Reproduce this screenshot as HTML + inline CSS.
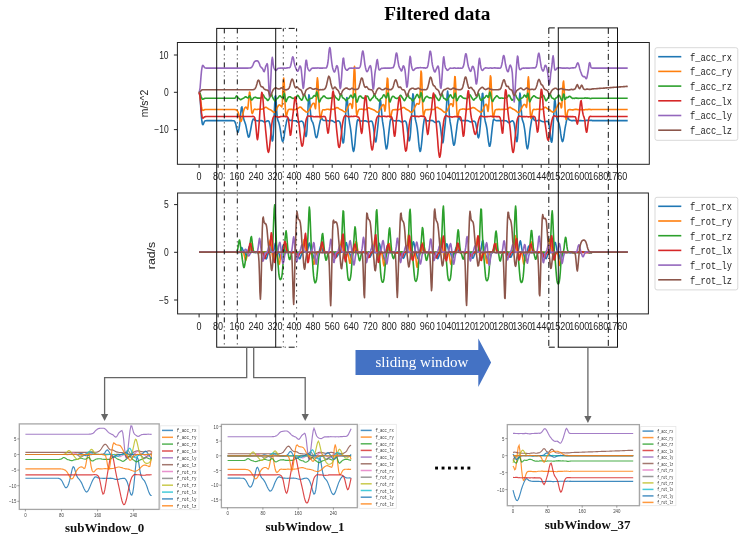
<!DOCTYPE html><html><head><meta charset="utf-8"><style>html,body{margin:0;padding:0;background:#fff;width:746px;height:540px;overflow:hidden}svg{display:block;filter:blur(0.3px)}</style></head><body>
<svg width="746" height="540" viewBox="0 0 746 540" font-family='"Liberation Sans", sans-serif'>
<rect width="746" height="540" fill="#fff"/>
<text x="437.3" y="19.7" font-family='"Liberation Serif", serif' font-weight="bold" font-size="19.3" text-anchor="middle" fill="#000">Filtered data</text>
<g fill="none" stroke-width="1.6" stroke-linejoin="round"><path d="M199.1 92.3L199.6 94.5L200.1 97.6L200.5 103.5L201.0 111.1L201.5 117.7L202.0 122.0L202.4 124.2L202.9 124.7L203.4 124.0L203.9 122.8L204.3 121.8L204.8 121.1L205.3 120.8L205.8 120.7L206.2 120.7L206.7 120.6L207.2 120.6L207.7 120.6L208.1 120.6L208.6 120.6L209.1 120.6L209.6 120.6L210.0 120.6L210.5 120.6L211.0 120.6L211.5 120.6L211.9 120.6L212.4 120.6L212.9 120.6L213.4 120.6L213.8 120.6L214.3 120.6L214.8 120.6L215.3 120.6L215.7 120.6L216.2 120.6L216.7 120.6L217.2 120.6L217.6 120.6L218.1 120.6L218.6 120.6L219.1 120.6L219.5 120.6L220.0 120.6L220.5 120.6L221.0 120.6L221.4 120.6L221.9 120.6L222.4 120.6L222.9 120.6L223.3 120.6L223.8 120.6L224.3 120.6L224.8 120.6L225.2 120.6L225.7 120.6L226.2 120.6L226.7 120.6L227.1 120.6L227.6 120.6L228.1 120.6L228.6 120.6L229.0 120.6L229.5 120.6L230.0 120.6L230.5 120.6L230.9 120.6L231.4 120.6L231.9 120.6L232.4 120.7L232.8 120.7L233.3 120.7L233.8 120.8L234.3 121.0L234.7 121.5L235.2 122.4L235.7 123.9L236.2 126.0L236.6 128.3L237.1 130.4L237.6 131.9L238.1 132.1L238.5 131.0L239.0 128.7L239.5 125.6L240.0 121.5L240.4 116.5L240.9 111.5L241.4 107.7L241.9 106.8L242.3 109.1L242.8 113.0L243.3 116.6L243.8 119.0L244.2 120.6L244.7 121.8L245.2 123.2L245.7 124.8L246.1 126.7L246.6 129.2L247.1 131.8L247.6 134.0L248.0 135.9L248.5 137.1L249.0 136.9L249.5 135.8L249.9 133.6L250.4 131.2L250.9 128.5L251.4 125.7L251.8 123.4L252.3 121.2L252.8 119.8L253.3 119.0L253.7 119.1L254.2 119.6L254.7 120.2L255.2 120.3L255.6 120.5L256.1 120.7L256.6 120.6L257.1 120.7L257.5 120.7L258.0 120.9L258.5 120.7L259.0 120.6L259.5 120.7L259.9 120.6L260.4 120.7L260.9 120.6L261.4 120.6L261.8 120.8L262.3 120.9L262.8 121.1L263.3 121.4L263.7 121.8L264.2 122.0L264.7 121.9L265.2 122.0L265.6 121.9L266.1 121.6L266.6 121.3L267.1 121.0L267.5 120.9L268.0 120.7L268.5 120.9L269.0 121.3L269.4 122.5L269.9 124.2L270.4 127.0L270.9 130.8L271.3 135.1L271.8 138.9L272.3 141.0L272.8 140.1L273.2 135.6L273.7 126.9L274.2 115.5L274.7 103.8L275.1 96.4L275.6 95.9L276.1 101.3L276.6 108.8L277.0 114.8L277.5 118.6L278.0 120.7L278.5 121.8L278.9 123.1L279.4 124.9L279.9 127.3L280.4 130.1L280.8 133.2L281.3 136.4L281.8 139.2L282.3 140.9L282.7 141.6L283.2 140.8L283.7 138.7L284.2 135.8L284.6 132.5L285.1 129.3L285.6 126.3L286.1 123.9L286.5 121.7L287.0 119.8L287.5 118.5L288.0 118.0L288.4 118.5L288.9 119.3L289.4 120.2L289.9 120.4L290.3 120.5L290.8 120.5L291.3 120.3L291.8 120.4L292.2 120.6L292.7 120.8L293.2 120.8L293.7 120.8L294.1 120.7L294.6 120.7L295.1 120.7L295.6 120.8L296.0 121.0L296.5 121.3L297.0 121.8L297.5 122.1L297.9 122.1L298.4 122.2L298.9 122.1L299.4 121.9L299.8 121.5L300.3 121.5L300.8 121.3L301.3 121.2L301.7 121.1L302.2 121.4L302.7 121.8L303.2 122.6L303.6 124.1L304.1 126.6L304.6 129.9L305.1 132.9L305.5 135.6L306.0 136.6L306.5 135.0L307.0 130.0L307.4 121.5L307.9 110.5L308.4 100.3L308.9 94.7L309.3 95.9L309.8 102.4L310.3 110.2L310.8 115.9L311.2 119.1L311.7 120.7L312.2 121.6L312.7 122.3L313.1 123.5L313.6 125.4L314.1 127.7L314.6 130.3L315.0 133.3L315.5 135.7L316.0 137.3L316.5 137.7L316.9 137.2L317.4 135.5L317.9 132.9L318.4 130.2L318.9 127.5L319.3 125.1L319.8 122.9L320.3 120.7L320.8 119.1L321.2 118.2L321.7 118.3L322.2 119.0L322.7 119.8L323.1 120.1L323.6 120.4L324.1 120.5L324.6 120.5L325.0 120.5L325.5 120.5L326.0 120.5L326.5 120.6L326.9 120.7L327.4 120.6L327.9 120.8L328.4 120.8L328.8 120.9L329.3 120.8L329.8 120.7L330.3 120.6L330.7 120.5L331.2 120.6L331.7 120.5L332.2 120.7L332.6 121.0L333.1 121.2L333.6 121.6L334.1 121.9L334.5 122.2L335.0 122.4L335.5 122.1L336.0 122.0L336.4 121.5L336.9 121.1L337.4 120.9L337.9 120.7L338.3 120.8L338.8 121.0L339.3 121.4L339.8 122.1L340.2 123.3L340.7 125.6L341.2 128.9L341.7 133.0L342.1 137.6L342.6 141.1L343.1 143.0L343.6 142.3L344.0 139.0L344.5 133.7L345.0 126.5L345.5 117.8L345.9 108.3L346.4 100.6L346.9 97.5L347.4 100.0L347.8 106.1L348.3 112.9L348.8 118.1L349.3 121.2L349.7 123.8L350.2 126.4L350.7 129.8L351.2 133.8L351.6 138.4L352.1 143.4L352.6 147.5L353.1 150.5L353.5 151.4L354.0 150.3L354.5 147.2L355.0 142.8L355.4 137.6L355.9 132.2L356.4 127.2L356.9 123.2L357.3 120.6L357.8 119.7L358.3 120.0L358.8 120.4L359.2 120.8L359.7 121.0L360.2 121.0L360.7 121.1L361.1 121.0L361.6 121.0L362.1 121.0L362.6 121.0L363.0 120.9L363.5 120.9L364.0 120.8L364.5 120.9L364.9 120.9L365.4 120.9L365.9 120.9L366.4 121.1L366.8 121.4L367.3 121.6L367.8 121.8L368.3 121.9L368.7 121.9L369.2 121.7L369.7 121.5L370.2 121.2L370.6 121.2L371.1 121.0L371.6 121.2L372.1 121.6L372.5 122.6L373.0 124.6L373.5 127.4L374.0 131.5L374.4 135.7L374.9 139.5L375.4 141.8L375.9 141.9L376.3 139.6L376.8 135.5L377.3 131.0L377.8 126.3L378.3 121.6L378.7 116.0L379.2 109.6L379.7 103.2L380.2 99.7L380.6 100.6L381.1 105.5L381.6 111.9L382.1 117.4L382.5 121.2L383.0 124.2L383.5 127.5L384.0 131.0L384.4 135.3L384.9 139.9L385.4 144.0L385.9 147.3L386.3 149.0L386.8 148.6L387.3 146.4L387.8 142.8L388.2 138.3L388.7 133.6L389.2 129.2L389.7 125.1L390.1 121.7L390.6 119.3L391.1 118.4L391.6 118.6L392.0 119.3L392.5 120.0L393.0 120.4L393.5 120.6L393.9 120.8L394.4 120.8L394.9 120.9L395.4 120.8L395.8 120.9L396.3 120.9L396.8 120.9L397.3 120.8L397.7 120.7L398.2 120.7L398.7 120.6L399.2 120.6L399.6 120.8L400.1 121.2L400.6 121.4L401.1 121.7L401.5 121.9L402.0 122.0L402.5 121.9L403.0 121.8L403.4 121.6L403.9 121.3L404.4 121.1L404.9 120.9L405.3 121.1L405.8 121.5L406.3 122.8L406.8 125.0L407.2 128.0L407.7 132.2L408.2 136.2L408.7 139.4L409.1 140.9L409.6 140.1L410.1 137.1L410.6 132.1L411.0 125.5L411.5 117.0L412.0 107.1L412.5 98.2L412.9 93.7L413.4 95.4L413.9 101.9L414.4 109.6L414.8 115.6L415.3 119.1L415.8 121.3L416.3 123.1L416.7 125.3L417.2 128.2L417.7 132.1L418.2 136.9L418.6 141.8L419.1 146.4L419.6 149.8L420.1 151.4L420.5 151.0L421.0 148.5L421.5 144.5L422.0 139.6L422.4 134.6L422.9 129.7L423.4 125.2L423.9 121.6L424.3 119.1L424.8 118.5L425.3 118.8L425.8 119.6L426.2 120.3L426.7 120.7L427.2 120.9L427.7 120.9L428.1 120.9L428.6 120.8L429.1 120.7L429.6 120.6L430.0 120.6L430.5 120.5L431.0 120.4L431.5 120.5L431.9 120.6L432.4 120.6L432.9 120.8L433.4 121.2L433.8 121.6L434.3 121.9L434.8 122.2L435.3 122.5L435.7 122.5L436.2 122.3L436.7 122.0L437.2 121.7L437.7 121.5L438.1 121.2L438.6 121.2L439.1 121.6L439.6 122.5L440.0 124.4L440.5 127.4L441.0 131.5L441.5 135.8L441.9 140.1L442.4 142.7L442.9 142.8L443.4 140.5L443.8 136.4L444.3 131.8L444.8 127.3L445.3 122.9L445.7 117.8L446.2 110.9L446.7 102.2L447.2 94.4L447.6 91.1L448.1 94.3L448.6 102.1L449.1 110.5L449.5 117.0L450.0 121.2L450.5 124.0L451.0 126.6L451.4 129.9L451.9 133.5L452.4 137.4L452.9 141.0L453.3 143.8L453.8 145.2L454.3 144.9L454.8 143.1L455.2 140.1L455.7 136.1L456.2 132.4L456.7 128.6L457.1 125.1L457.6 122.0L458.1 119.3L458.6 117.7L459.0 117.4L459.5 118.3L460.0 119.3L460.5 120.1L460.9 120.5L461.4 120.6L461.9 120.6L462.4 120.6L462.8 120.6L463.3 120.6L463.8 120.5L464.3 120.7L464.7 120.8L465.2 120.6L465.7 120.6L466.2 120.6L466.6 120.6L467.1 120.5L467.6 120.6L468.1 120.7L468.5 120.9L469.0 121.2L469.5 121.4L470.0 121.7L470.4 121.9L470.9 121.9L471.4 121.8L471.9 121.7L472.3 121.3L472.8 121.2L473.3 121.2L473.8 121.1L474.2 121.2L474.7 121.4L475.2 122.1L475.7 123.3L476.1 125.3L476.6 128.2L477.1 131.7L477.6 134.8L478.0 137.1L478.5 137.8L479.0 136.4L479.5 133.4L479.9 129.3L480.4 124.1L480.9 117.1L481.4 108.6L481.8 99.7L482.3 93.5L482.8 93.4L483.3 99.0L483.7 107.0L484.2 113.8L484.7 118.4L485.2 121.0L485.6 122.8L486.1 124.5L486.6 127.0L487.1 130.0L487.5 133.8L488.0 137.9L488.5 141.8L489.0 144.7L489.4 146.2L489.9 146.1L490.4 144.1L490.9 140.7L491.3 136.6L491.8 131.9L492.3 127.3L492.8 123.3L493.2 120.5L493.7 119.1L494.2 119.1L494.7 119.8L495.1 120.1L495.6 120.4L496.1 120.6L496.6 120.8L497.1 120.7L497.5 120.6L498.0 120.6L498.5 120.6L499.0 120.6L499.4 120.6L499.9 120.8L500.4 120.7L500.9 120.8L501.3 120.7L501.8 120.7L502.3 120.6L502.8 120.7L503.2 120.7L503.7 120.7L504.2 120.6L504.7 120.7L505.1 120.7L505.6 120.7L506.1 120.8L506.6 121.1L507.0 121.3L507.5 121.7L508.0 122.3L508.5 122.6L508.9 122.6L509.4 122.5L509.9 122.3L510.4 122.1L510.8 121.6L511.3 121.2L511.8 121.0L512.3 120.9L512.7 120.9L513.2 121.3L513.7 122.1L514.2 123.8L514.6 126.4L515.1 130.1L515.6 134.4L516.1 138.7L516.5 141.4L517.0 141.7L517.5 138.7L518.0 132.1L518.4 121.6L518.9 108.9L519.4 98.2L519.9 93.1L520.3 95.0L520.8 102.1L521.3 110.3L521.8 116.1L522.2 119.3L522.7 120.9L523.2 122.2L523.7 123.8L524.1 126.1L524.6 129.1L525.1 132.8L525.6 137.3L526.0 141.7L526.5 145.4L527.0 148.0L527.5 148.8L527.9 147.5L528.4 144.7L528.9 140.8L529.4 136.3L529.8 132.0L530.3 128.2L530.8 125.0L531.3 122.0L531.7 119.5L532.2 117.7L532.7 117.2L533.2 117.6L533.6 118.8L534.1 119.9L534.6 120.4L535.1 120.5L535.5 120.6L536.0 120.8L536.5 120.9L537.0 120.7L537.4 120.6L537.9 120.5L538.4 120.4L538.9 120.3L539.3 120.2L539.8 120.3L540.3 120.6L540.8 120.8L541.2 121.1L541.7 121.3L542.2 121.5L542.7 121.5L543.1 121.7L543.6 121.8L544.1 121.8L544.6 121.9L545.0 121.8L545.5 121.7L546.0 121.5L546.5 121.4L546.9 121.3L547.4 121.3L547.9 121.5L548.4 122.3L548.8 123.9L549.3 126.3L549.8 130.0L550.3 134.3L550.7 138.5L551.2 141.5L551.7 142.2L552.2 140.1L552.6 134.9L553.1 127.1L553.6 117.2L554.1 107.6L554.5 101.0L555.0 100.2L555.5 104.1L556.0 110.4L556.5 115.5L556.9 118.8L557.4 120.4L557.9 121.2L558.4 121.9L558.8 123.0L559.3 124.8L559.8 127.1L560.3 130.2L560.7 133.7L561.2 137.0L561.7 139.6L562.2 141.3L562.6 141.6L563.1 140.5L563.6 138.1L564.1 135.0L564.5 131.8L565.0 128.6L565.5 125.8L566.0 123.4L566.4 121.1L566.9 119.2L567.4 118.0L567.9 117.6L568.3 118.3L568.8 119.3L569.3 119.9L569.8 120.1L570.2 120.3L570.7 120.4L571.2 120.6L571.7 120.6L572.1 120.5L572.6 120.6L573.1 120.6L573.6 120.5L574.0 120.4L574.5 120.5L575.0 120.7L575.5 120.8L575.9 120.7L576.4 120.8L576.9 120.7L577.4 120.8L577.8 120.7L578.3 120.7L578.8 120.6L579.3 120.6L579.7 120.6L580.2 120.6L580.7 120.6L581.2 120.6L581.6 120.7L582.1 120.8L582.6 120.8L583.1 120.7L583.5 120.8L584.0 120.7L584.5 120.6L585.0 120.5L585.4 120.7L585.9 120.5L586.4 120.4L586.9 120.4L587.3 120.4L587.8 120.4L588.3 120.4L588.8 120.4L589.2 120.5L589.7 120.5L590.2 120.3L590.7 120.4L591.1 120.4L591.6 120.3L592.1 120.6L592.6 120.6L593.0 120.6L593.5 120.6L594.0 120.6L594.5 120.6L594.9 120.6L595.4 120.6L595.9 120.6L596.4 120.6L596.8 120.6L597.3 120.6L597.8 120.6L598.3 120.6L598.7 120.6L599.2 120.6L599.7 120.6L600.2 120.6L600.6 120.6L601.1 120.6L601.6 120.6L602.1 120.6L602.5 120.6L603.0 120.6L603.5 120.6L604.0 120.6L604.4 120.6L604.9 120.6L605.4 120.6L605.9 120.6L606.3 120.6L606.8 120.6L607.3 120.6L607.8 120.6L608.2 120.6L608.7 120.6L609.2 120.6L609.7 120.6L610.1 120.6L610.6 120.6L611.1 120.6L611.6 120.6L612.0 120.6L612.5 120.6L613.0 120.6L613.5 120.6L613.9 120.6L614.4 120.6L614.9 120.6L615.4 120.6L615.9 120.6L616.3 120.6L616.8 120.6L617.3 120.6L617.8 120.6L618.2 120.6L618.7 120.6L619.2 120.6L619.7 120.6L620.1 120.6L620.6 120.6L621.1 120.6L621.6 120.6L622.0 120.6L622.5 120.6L623.0 120.6L623.5 120.6L623.9 120.6L624.4 120.6L624.9 120.6L625.4 120.6L625.8 120.6L626.3 120.6L626.8 120.6L627.3 120.6L627.7 120.6" stroke="#1f77b4"/>
<path d="M199.1 92.3L199.6 93.6L200.1 95.5L200.5 98.9L201.0 103.3L201.5 106.9L202.0 109.0L202.4 110.0L202.9 110.4L203.4 110.3L203.9 110.0L204.3 109.7L204.8 109.6L205.3 109.5L205.8 109.5L206.2 109.5L206.7 109.5L207.2 109.5L207.7 109.5L208.1 109.5L208.6 109.5L209.1 109.5L209.6 109.5L210.0 109.5L210.5 109.5L211.0 109.5L211.5 109.5L211.9 109.5L212.4 109.5L212.9 109.5L213.4 109.5L213.8 109.5L214.3 109.5L214.8 109.5L215.3 109.5L215.7 109.5L216.2 109.5L216.7 109.5L217.2 109.5L217.6 109.5L218.1 109.5L218.6 109.5L219.1 109.5L219.5 109.5L220.0 109.5L220.5 109.5L221.0 109.5L221.4 109.5L221.9 109.5L222.4 109.5L222.9 109.5L223.3 109.5L223.8 109.5L224.3 109.5L224.8 109.5L225.2 109.5L225.7 109.5L226.2 109.5L226.7 109.5L227.1 109.5L227.6 109.5L228.1 109.5L228.6 109.5L229.0 109.5L229.5 109.5L230.0 109.5L230.5 109.5L230.9 109.5L231.4 109.5L231.9 109.5L232.4 109.5L232.8 109.5L233.3 109.5L233.8 109.5L234.3 109.5L234.7 109.5L235.2 109.6L235.7 109.7L236.2 109.8L236.6 110.1L237.1 110.5L237.6 111.3L238.1 112.3L238.5 113.8L239.0 115.6L239.5 117.7L240.0 119.6L240.4 121.1L240.9 121.5L241.4 120.8L241.9 119.3L242.3 117.0L242.8 114.6L243.3 112.3L243.8 110.3L244.2 109.1L244.7 108.1L245.2 107.5L245.7 107.1L246.1 107.2L246.6 107.4L247.1 108.6L247.6 109.3L248.0 107.1L248.5 101.8L249.0 95.9L249.5 92.1L249.9 92.4L250.4 97.3L250.9 103.8L251.4 109.5L251.8 112.6L252.3 113.5L252.8 112.6L253.3 111.3L253.7 110.1L254.2 109.4L254.7 109.1L255.2 109.3L255.6 109.4L256.1 109.5L256.6 109.5L257.1 109.5L257.5 109.4L258.0 109.2L258.5 109.2L259.0 109.3L259.5 109.2L259.9 109.3L260.4 109.3L260.9 109.3L261.4 109.2L261.8 109.1L262.3 109.1L262.8 108.9L263.3 108.6L263.7 108.4L264.2 107.8L264.7 107.7L265.2 107.4L265.6 107.2L266.1 107.3L266.6 107.6L267.1 107.9L267.5 108.1L268.0 108.6L268.5 109.0L269.0 109.2L269.4 109.4L269.9 109.6L270.4 109.7L270.9 109.9L271.3 110.3L271.8 110.7L272.3 111.2L272.8 111.6L273.2 112.0L273.7 112.2L274.2 112.2L274.7 112.2L275.1 111.8L275.6 111.1L276.1 110.3L276.6 109.4L277.0 108.2L277.5 107.1L278.0 106.1L278.5 105.6L278.9 105.0L279.4 104.9L279.9 105.1L280.4 105.5L280.8 106.0L281.3 106.5L281.8 106.9L282.3 104.4L282.7 94.9L283.2 83.2L283.7 78.0L284.2 82.3L284.6 92.9L285.1 104.1L285.6 112.1L286.1 115.9L286.5 116.0L287.0 114.1L287.5 111.9L288.0 110.4L288.4 109.8L288.9 109.5L289.4 109.3L289.9 109.3L290.3 109.4L290.8 109.3L291.3 109.4L291.8 109.4L292.2 109.6L292.7 109.6L293.2 109.6L293.7 109.6L294.1 109.7L294.6 109.7L295.1 109.5L295.6 109.5L296.0 109.4L296.5 109.3L297.0 109.0L297.5 108.8L297.9 108.4L298.4 108.0L298.9 107.7L299.4 107.3L299.8 107.1L300.3 107.1L300.8 107.2L301.3 107.6L301.7 108.2L302.2 108.6L302.7 109.1L303.2 109.5L303.6 110.0L304.1 110.3L304.6 110.6L305.1 111.1L305.5 111.5L306.0 111.9L306.5 112.0L307.0 112.1L307.4 112.0L307.9 111.6L308.4 111.1L308.9 110.6L309.3 110.1L309.8 109.2L310.3 108.3L310.8 107.5L311.2 106.5L311.7 105.4L312.2 104.4L312.7 103.7L313.1 103.4L313.6 103.3L314.1 103.4L314.6 104.4L315.0 107.1L315.5 108.7L316.0 103.3L316.5 92.6L316.9 82.6L317.4 77.8L317.9 81.1L318.4 90.4L318.9 101.1L319.3 109.4L319.8 115.1L320.3 118.2L320.8 118.4L321.2 116.2L321.7 113.3L322.2 111.1L322.7 110.0L323.1 109.8L323.6 109.8L324.1 109.8L324.6 109.9L325.0 109.8L325.5 109.7L326.0 109.5L326.5 109.4L326.9 109.3L327.4 109.2L327.9 109.2L328.4 109.3L328.8 109.4L329.3 109.7L329.8 109.5L330.3 109.4L330.7 109.3L331.2 109.2L331.7 109.1L332.2 109.2L332.6 109.3L333.1 109.4L333.6 109.3L334.1 109.1L334.5 108.9L335.0 108.5L335.5 108.3L336.0 108.0L336.4 107.7L336.9 107.5L337.4 107.7L337.9 107.9L338.3 108.0L338.8 108.5L339.3 108.9L339.8 109.2L340.2 109.4L340.7 109.6L341.2 109.9L341.7 110.0L342.1 110.3L342.6 110.6L343.1 111.0L343.6 111.4L344.0 111.7L344.5 111.8L345.0 111.9L345.5 111.7L345.9 111.2L346.4 110.5L346.9 109.7L347.4 108.6L347.8 107.5L348.3 106.2L348.8 105.4L349.3 104.5L349.7 103.8L350.2 103.5L350.7 103.7L351.2 104.4L351.6 105.9L352.1 108.4L352.6 106.6L353.1 97.3L353.5 83.8L354.0 71.2L354.5 66.3L355.0 73.1L355.4 88.3L355.9 103.3L356.4 112.5L356.9 115.3L357.3 114.2L357.8 111.9L358.3 110.4L358.8 109.6L359.2 109.4L359.7 109.3L360.2 109.3L360.7 109.3L361.1 109.2L361.6 109.1L362.1 109.2L362.6 109.4L363.0 109.4L363.5 109.4L364.0 109.4L364.5 109.6L364.9 109.5L365.4 109.5L365.9 109.6L366.4 109.2L366.8 108.9L367.3 108.5L367.8 108.2L368.3 107.9L368.7 107.8L369.2 108.0L369.7 108.2L370.2 108.4L370.6 108.8L371.1 108.9L371.6 109.0L372.1 109.3L372.5 109.4L373.0 109.6L373.5 109.7L374.0 110.0L374.4 110.3L374.9 110.6L375.4 110.9L375.9 111.4L376.3 111.8L376.8 112.0L377.3 112.2L377.8 112.2L378.3 111.8L378.7 111.4L379.2 111.0L379.7 110.1L380.2 109.3L380.6 108.4L381.1 107.6L381.6 106.7L382.1 105.9L382.5 105.1L383.0 104.8L383.5 104.6L384.0 105.2L384.4 108.1L384.9 111.1L385.4 108.8L385.9 102.3L386.3 94.1L386.8 84.8L387.3 78.1L387.8 78.9L388.2 87.0L388.7 98.2L389.2 107.5L389.7 114.0L390.1 117.3L390.6 117.8L391.1 115.8L391.6 113.1L392.0 111.1L392.5 110.2L393.0 109.8L393.5 109.8L393.9 109.7L394.4 109.7L394.9 109.6L395.4 109.6L395.8 109.6L396.3 109.7L396.8 109.6L397.3 109.6L397.7 109.6L398.2 109.7L398.7 109.6L399.2 109.4L399.6 109.2L400.1 109.3L400.6 109.1L401.1 108.8L401.5 108.5L402.0 108.1L402.5 107.8L403.0 107.5L403.4 107.5L403.9 107.5L404.4 107.8L404.9 108.1L405.3 108.5L405.8 109.0L406.3 109.3L406.8 109.6L407.2 109.7L407.7 110.1L408.2 110.3L408.7 110.6L409.1 110.8L409.6 111.4L410.1 111.8L410.6 112.0L411.0 112.2L411.5 112.4L412.0 112.1L412.5 111.7L412.9 111.1L413.4 110.5L413.9 109.5L414.4 108.5L414.8 107.3L415.3 106.2L415.8 105.3L416.3 104.4L416.7 103.8L417.2 103.6L417.7 103.7L418.2 103.9L418.6 104.2L419.1 103.9L419.6 102.2L420.1 94.6L420.5 80.9L421.0 71.0L421.5 72.9L422.0 84.9L422.4 99.7L422.9 110.8L423.4 115.7L423.9 115.6L424.3 113.3L424.8 111.2L425.3 110.0L425.8 109.6L426.2 109.7L426.7 109.7L427.2 109.6L427.7 109.7L428.1 109.6L428.6 109.6L429.1 109.5L429.6 109.5L430.0 109.5L430.5 109.3L431.0 109.4L431.5 109.4L431.9 109.5L432.4 109.5L432.9 109.5L433.4 109.5L433.8 109.4L434.3 109.2L434.8 108.9L435.3 108.4L435.7 107.9L436.2 107.6L436.7 107.4L437.2 107.3L437.7 107.5L438.1 107.8L438.6 108.2L439.1 108.4L439.6 108.8L440.0 108.9L440.5 109.2L441.0 109.5L441.5 109.8L441.9 110.2L442.4 110.6L442.9 111.1L443.4 111.4L443.8 111.9L444.3 112.1L444.8 112.4L445.3 112.4L445.7 112.4L446.2 112.1L446.7 111.5L447.2 110.6L447.6 109.8L448.1 108.7L448.6 107.6L449.1 106.4L449.5 105.5L450.0 104.6L450.5 104.0L451.0 103.7L451.4 103.8L451.9 104.2L452.4 105.0L452.9 106.4L453.3 105.1L453.8 96.6L454.3 84.5L454.8 76.5L455.2 76.9L455.7 86.0L456.2 98.4L456.7 109.0L457.1 115.3L457.6 117.1L458.1 115.7L458.6 113.2L459.0 111.1L459.5 110.0L460.0 109.7L460.5 109.5L460.9 109.3L461.4 109.3L461.9 109.2L462.4 109.1L462.8 108.9L463.3 109.0L463.8 109.0L464.3 109.1L464.7 109.1L465.2 109.2L465.7 109.3L466.2 109.4L466.6 109.4L467.1 109.4L467.6 109.2L468.1 109.2L468.5 109.1L469.0 109.0L469.5 109.0L470.0 109.1L470.4 108.9L470.9 108.6L471.4 108.3L471.9 107.9L472.3 107.7L472.8 107.5L473.3 107.5L473.8 107.7L474.2 107.9L474.7 108.0L475.2 108.4L475.7 108.8L476.1 109.1L476.6 109.5L477.1 109.9L477.6 110.2L478.0 110.6L478.5 110.9L479.0 111.2L479.5 111.5L479.9 111.9L480.4 112.2L480.9 112.1L481.4 112.0L481.8 111.8L482.3 111.2L482.8 110.1L483.3 109.0L483.7 107.9L484.2 106.9L484.7 105.7L485.2 104.9L485.6 104.4L486.1 104.2L486.6 104.4L487.1 105.9L487.5 109.2L488.0 111.4L488.5 108.3L489.0 101.7L489.4 93.1L489.9 82.9L490.4 75.9L490.9 77.2L491.3 86.5L491.8 98.7L492.3 108.8L492.8 115.2L493.2 117.4L493.7 116.5L494.2 114.0L494.7 111.6L495.1 110.3L495.6 109.7L496.1 109.6L496.6 109.4L497.1 109.6L497.5 109.5L498.0 109.3L498.5 109.4L499.0 109.3L499.4 109.4L499.9 109.4L500.4 109.6L500.9 109.4L501.3 109.4L501.8 109.5L502.3 109.5L502.8 109.3L503.2 109.3L503.7 109.4L504.2 109.5L504.7 109.4L505.1 109.4L505.6 109.3L506.1 109.3L506.6 109.2L507.0 109.2L507.5 108.9L508.0 108.7L508.5 108.3L508.9 107.8L509.4 107.5L509.9 107.4L510.4 107.4L510.8 107.8L511.3 108.1L511.8 108.4L512.3 108.6L512.7 109.0L513.2 109.3L513.7 109.4L514.2 109.6L514.6 109.8L515.1 110.2L515.6 110.4L516.1 111.0L516.5 111.3L517.0 111.8L517.5 112.2L518.0 112.5L518.4 112.5L518.9 112.3L519.4 112.0L519.9 111.4L520.3 110.4L520.8 109.7L521.3 108.8L521.8 107.9L522.2 106.8L522.7 106.0L523.2 105.4L523.7 104.6L524.1 104.4L524.6 104.5L525.1 104.8L525.6 105.2L526.0 106.3L526.5 107.4L527.0 103.6L527.5 92.2L527.9 80.9L528.4 76.9L528.9 82.2L529.4 93.4L529.8 105.3L530.3 114.0L530.8 118.2L531.3 118.2L531.7 115.6L532.2 112.6L532.7 110.5L533.2 109.6L533.6 109.4L534.1 109.4L534.6 109.5L535.1 109.5L535.5 109.5L536.0 109.5L536.5 109.4L537.0 109.2L537.4 109.2L537.9 109.3L538.4 109.3L538.9 109.2L539.3 109.2L539.8 109.4L540.3 109.3L540.8 109.4L541.2 109.4L541.7 109.5L542.2 109.3L542.7 109.0L543.1 108.7L543.6 108.3L544.1 107.8L544.6 107.5L545.0 107.2L545.5 107.3L546.0 107.6L546.5 107.9L546.9 108.3L547.4 108.7L547.9 109.1L548.4 109.3L548.8 109.5L549.3 109.7L549.8 109.9L550.3 110.2L550.7 110.8L551.2 111.2L551.7 111.5L552.2 111.8L552.6 112.1L553.1 112.0L553.6 111.9L554.1 111.6L554.5 111.2L555.0 110.7L555.5 110.0L556.0 109.3L556.5 108.2L556.9 107.2L557.4 106.2L557.9 105.1L558.4 104.2L558.8 103.6L559.3 103.1L559.8 103.0L560.3 103.7L560.7 105.4L561.2 107.9L561.7 107.0L562.2 100.0L562.6 90.6L563.1 83.0L563.6 81.0L564.1 86.7L564.5 97.3L565.0 107.9L565.5 115.8L566.0 119.5L566.4 118.9L566.9 116.0L567.4 112.7L567.9 110.8L568.3 109.9L568.8 109.7L569.3 109.6L569.8 109.6L570.2 109.6L570.7 109.8L571.2 109.8L571.7 109.8L572.1 109.9L572.6 109.9L573.1 109.9L573.6 109.8L574.0 109.5L574.5 109.5L575.0 109.4L575.5 109.4L575.9 109.3L576.4 109.4L576.9 109.5L577.4 109.5L577.8 109.6L578.3 109.7L578.8 109.6L579.3 109.7L579.7 109.6L580.2 109.5L580.7 109.6L581.2 109.6L581.6 109.5L582.1 109.6L582.6 109.7L583.1 109.8L583.5 109.8L584.0 110.0L584.5 109.8L585.0 109.7L585.4 109.5L585.9 109.5L586.4 109.5L586.9 109.6L587.3 109.6L587.8 109.5L588.3 109.4L588.8 109.4L589.2 109.4L589.7 109.3L590.2 109.4L590.7 109.6L591.1 109.7L591.6 109.6L592.1 109.5L592.6 109.5L593.0 109.5L593.5 109.5L594.0 109.5L594.5 109.5L594.9 109.5L595.4 109.5L595.9 109.5L596.4 109.5L596.8 109.5L597.3 109.5L597.8 109.5L598.3 109.5L598.7 109.5L599.2 109.5L599.7 109.5L600.2 109.5L600.6 109.5L601.1 109.5L601.6 109.5L602.1 109.5L602.5 109.5L603.0 109.5L603.5 109.5L604.0 109.5L604.4 109.5L604.9 109.5L605.4 109.5L605.9 109.5L606.3 109.5L606.8 109.5L607.3 109.5L607.8 109.5L608.2 109.5L608.7 109.5L609.2 109.5L609.7 109.5L610.1 109.5L610.6 109.5L611.1 109.5L611.6 109.5L612.0 109.5L612.5 109.5L613.0 109.5L613.5 109.5L613.9 109.5L614.4 109.5L614.9 109.5L615.4 109.5L615.9 109.5L616.3 109.5L616.8 109.5L617.3 109.5L617.8 109.5L618.2 109.5L618.7 109.5L619.2 109.5L619.7 109.5L620.1 109.5L620.6 109.5L621.1 109.5L621.6 109.5L622.0 109.5L622.5 109.5L623.0 109.5L623.5 109.5L623.9 109.5L624.4 109.5L624.9 109.5L625.4 109.5L625.8 109.5L626.3 109.5L626.8 109.5L627.3 109.5L627.7 109.5" stroke="#ff7f0e"/>
<path d="M199.1 92.3L199.6 92.8L200.1 93.4L200.5 94.7L201.0 96.3L201.5 97.7L202.0 98.7L202.4 99.2L202.9 99.3L203.4 99.1L203.9 98.8L204.3 98.5L204.8 98.4L205.3 98.3L205.8 98.3L206.2 98.3L206.7 98.3L207.2 98.3L207.7 98.3L208.1 98.3L208.6 98.3L209.1 98.3L209.6 98.3L210.0 98.3L210.5 98.3L211.0 98.3L211.5 98.3L211.9 98.3L212.4 98.3L212.9 98.3L213.4 98.3L213.8 98.3L214.3 98.3L214.8 98.3L215.3 98.3L215.7 98.3L216.2 98.3L216.7 98.3L217.2 98.3L217.6 98.3L218.1 98.3L218.6 98.3L219.1 98.3L219.5 98.3L220.0 98.3L220.5 98.3L221.0 98.3L221.4 98.3L221.9 98.3L222.4 98.3L222.9 98.3L223.3 98.3L223.8 98.3L224.3 98.3L224.8 98.3L225.2 98.3L225.7 98.3L226.2 98.3L226.7 98.3L227.1 98.3L227.6 98.3L228.1 98.3L228.6 98.3L229.0 98.3L229.5 98.3L230.0 98.3L230.5 98.3L230.9 98.3L231.4 98.3L231.9 98.3L232.4 98.3L232.8 98.3L233.3 98.3L233.8 98.3L234.3 98.2L234.7 98.2L235.2 97.9L235.7 97.3L236.2 96.2L236.6 95.8L237.1 96.1L237.6 96.9L238.1 97.7L238.5 98.2L239.0 98.5L239.5 98.8L240.0 99.2L240.4 99.6L240.9 99.6L241.4 99.4L241.9 99.0L242.3 98.7L242.8 98.5L243.3 98.3L243.8 98.0L244.2 97.7L244.7 97.3L245.2 96.9L245.7 96.8L246.1 97.0L246.6 97.3L247.1 97.6L247.6 97.9L248.0 98.0L248.5 97.5L249.0 96.6L249.5 95.8L249.9 96.1L250.4 97.3L250.9 99.0L251.4 99.9L251.8 100.1L252.3 99.5L252.8 98.9L253.3 98.3L253.7 97.8L254.2 97.6L254.7 97.4L255.2 97.4L255.6 97.2L256.1 97.5L256.6 97.7L257.1 98.0L257.5 98.1L258.0 98.1L258.5 98.1L259.0 98.1L259.5 98.1L259.9 98.2L260.4 98.2L260.9 98.0L261.4 97.6L261.8 96.9L262.3 96.0L262.8 95.1L263.3 94.9L263.7 95.5L264.2 96.5L264.7 97.5L265.2 98.1L265.6 98.4L266.1 98.6L266.6 99.0L267.1 99.9L267.5 100.4L268.0 100.4L268.5 99.9L269.0 99.1L269.4 98.2L269.9 97.2L270.4 95.8L270.9 94.4L271.3 93.7L271.8 94.8L272.3 96.5L272.8 97.7L273.2 98.5L273.7 99.2L274.2 100.0L274.7 100.7L275.1 101.1L275.6 100.5L276.1 99.8L276.6 99.1L277.0 98.5L277.5 98.2L278.0 97.9L278.5 97.4L278.9 96.7L279.4 95.9L279.9 95.7L280.4 96.0L280.8 96.5L281.3 97.0L281.8 97.5L282.3 97.6L282.7 97.4L283.2 96.2L283.7 94.5L284.2 93.3L284.6 94.5L285.1 97.9L285.6 100.9L286.1 101.6L286.5 100.8L287.0 99.5L287.5 98.4L288.0 97.7L288.4 97.2L288.9 96.9L289.4 96.7L289.9 96.7L290.3 96.8L290.8 97.2L291.3 97.5L291.8 97.8L292.2 98.1L292.7 98.4L293.2 98.4L293.7 98.3L294.1 98.3L294.6 98.1L295.1 98.1L295.6 97.7L296.0 97.6L296.5 96.9L297.0 96.0L297.5 95.3L297.9 95.3L298.4 95.8L298.9 96.7L299.4 97.6L299.8 98.3L300.3 98.7L300.8 99.4L301.3 100.1L301.7 100.3L302.2 99.7L302.7 98.7L303.2 97.1L303.6 95.4L304.1 94.2L304.6 94.5L305.1 95.7L305.5 97.1L306.0 98.2L306.5 99.2L307.0 99.9L307.4 100.5L307.9 100.7L308.4 100.4L308.9 99.7L309.3 99.1L309.8 98.7L310.3 98.6L310.8 98.5L311.2 98.2L311.7 98.2L312.2 98.0L312.7 97.5L313.1 96.8L313.6 96.0L314.1 95.6L314.6 95.6L315.0 96.1L315.5 96.1L316.0 94.8L316.5 92.6L316.9 91.9L317.4 93.7L317.9 96.7L318.4 99.1L318.9 100.9L319.3 101.9L319.8 101.7L320.3 100.4L320.8 99.1L321.2 98.3L321.7 98.0L322.2 97.6L322.7 97.0L323.1 96.3L323.6 96.0L324.1 96.0L324.6 96.2L325.0 96.7L325.5 97.3L326.0 97.7L326.5 97.9L326.9 98.2L327.4 98.3L327.9 98.5L328.4 98.4L328.8 98.5L329.3 98.3L329.8 98.2L330.3 98.0L330.7 98.1L331.2 98.0L331.7 98.1L332.2 97.8L332.6 97.4L333.1 96.6L333.6 95.7L334.1 95.3L334.5 95.5L335.0 96.4L335.5 97.3L336.0 97.8L336.4 98.3L336.9 98.5L337.4 99.0L337.9 99.5L338.3 100.1L338.8 100.0L339.3 99.1L339.8 97.5L340.2 95.6L340.7 94.1L341.2 94.0L341.7 94.9L342.1 96.5L342.6 97.6L343.1 98.0L343.6 98.3L344.0 98.5L344.5 98.9L345.0 99.3L345.5 100.2L345.9 100.6L346.4 100.6L346.9 100.0L347.4 99.3L347.8 98.8L348.3 98.5L348.8 98.3L349.3 97.7L349.7 96.8L350.2 95.9L350.7 95.3L351.2 95.4L351.6 96.3L352.1 97.1L352.6 97.7L353.1 98.0L353.5 97.5L354.0 95.9L354.5 94.1L355.0 93.8L355.4 95.5L355.9 98.4L356.4 100.8L356.9 102.1L357.3 101.7L357.8 100.2L358.3 98.6L358.8 97.3L359.2 96.4L359.7 96.1L360.2 96.0L360.7 96.1L361.1 96.6L361.6 97.1L362.1 97.7L362.6 98.0L363.0 98.1L363.5 98.3L364.0 98.5L364.5 98.3L364.9 98.2L365.4 97.8L365.9 97.3L366.4 96.5L366.8 96.0L367.3 96.0L367.8 96.4L368.3 97.1L368.7 98.3L369.2 99.2L369.7 100.1L370.2 100.6L370.6 100.3L371.1 99.5L371.6 98.8L372.1 98.2L372.5 97.9L373.0 97.4L373.5 96.3L374.0 94.9L374.4 94.2L374.9 95.0L375.4 96.4L375.9 97.6L376.3 98.2L376.8 98.5L377.3 98.8L377.8 99.5L378.3 100.3L378.7 100.9L379.2 101.0L379.7 100.3L380.2 99.5L380.6 98.8L381.1 98.4L381.6 98.1L382.1 97.6L382.5 96.9L383.0 95.8L383.5 95.0L384.0 94.8L384.4 95.2L384.9 96.1L385.4 97.0L385.9 97.8L386.3 97.9L386.8 96.9L387.3 95.1L387.8 93.1L388.2 93.2L388.7 95.9L389.2 99.5L389.7 101.7L390.1 102.0L390.6 100.7L391.1 99.1L391.6 97.8L392.0 97.0L392.5 96.5L393.0 96.2L393.5 96.4L393.9 96.7L394.4 97.1L394.9 97.7L395.4 98.1L395.8 98.3L396.3 98.4L396.8 98.5L397.3 98.4L397.7 98.3L398.2 98.1L398.7 97.7L399.2 97.0L399.6 96.3L400.1 95.5L400.6 95.3L401.1 95.7L401.5 96.5L402.0 97.3L402.5 97.9L403.0 98.5L403.4 99.3L403.9 100.2L404.4 100.7L404.9 100.3L405.3 99.4L405.8 98.5L406.3 97.7L406.8 96.2L407.2 94.8L407.7 94.0L408.2 94.7L408.7 96.3L409.1 97.4L409.6 98.0L410.1 98.3L410.6 98.4L411.0 98.8L411.5 99.3L412.0 100.2L412.5 100.9L412.9 101.0L413.4 100.4L413.9 99.7L414.4 98.9L414.8 98.4L415.3 97.8L415.8 96.7L416.3 95.6L416.7 94.7L417.2 94.4L417.7 94.8L418.2 95.9L418.6 97.0L419.1 97.7L419.6 97.6L420.1 96.5L420.5 94.3L421.0 92.6L421.5 93.5L422.0 96.3L422.4 99.2L422.9 101.1L423.4 101.6L423.9 100.8L424.3 99.5L424.8 98.5L425.3 97.6L425.8 97.1L426.2 96.7L426.7 96.3L427.2 96.3L427.7 96.7L428.1 97.1L428.6 97.4L429.1 97.8L429.6 97.9L430.0 97.8L430.5 97.8L431.0 98.0L431.5 98.0L431.9 98.0L432.4 97.8L432.9 97.5L433.4 96.7L433.8 95.8L434.3 95.0L434.8 94.9L435.3 95.4L435.7 96.4L436.2 97.4L436.7 97.9L437.2 98.5L437.7 99.2L438.1 100.0L438.6 100.5L439.1 100.4L439.6 99.6L440.0 98.6L440.5 97.3L441.0 95.5L441.5 94.0L441.9 93.5L442.4 94.4L442.9 96.2L443.4 97.6L443.8 98.2L444.3 98.4L444.8 98.6L445.3 99.1L445.7 99.7L446.2 100.1L446.7 100.1L447.2 99.8L447.6 99.1L448.1 98.4L448.6 97.7L449.1 96.9L449.5 96.0L450.0 95.0L450.5 94.8L451.0 95.2L451.4 96.1L451.9 97.1L452.4 97.8L452.9 98.1L453.3 98.2L453.8 97.7L454.3 96.3L454.8 94.2L455.2 93.2L455.7 95.1L456.2 98.5L456.7 100.7L457.1 100.7L457.6 99.6L458.1 98.4L458.6 97.7L459.0 97.1L459.5 96.5L460.0 96.0L460.5 95.7L460.9 95.9L461.4 96.4L461.9 96.9L462.4 97.4L462.8 97.8L463.3 98.0L463.8 98.2L464.3 98.3L464.7 98.4L465.2 98.4L465.7 98.5L466.2 98.5L466.6 98.6L467.1 98.5L467.6 98.1L468.1 97.8L468.5 97.0L469.0 95.9L469.5 95.2L470.0 94.9L470.4 95.3L470.9 96.1L471.4 97.2L471.9 97.8L472.3 98.5L472.8 99.2L473.3 99.9L473.8 100.1L474.2 99.7L474.7 98.9L475.2 98.5L475.7 98.3L476.1 97.9L476.6 97.5L477.1 96.4L477.6 94.5L478.0 93.2L478.5 93.2L479.0 95.0L479.5 96.8L479.9 98.4L480.4 99.5L480.9 100.2L481.4 100.4L481.8 100.0L482.3 99.4L482.8 98.7L483.3 98.3L483.7 98.2L484.2 98.1L484.7 97.8L485.2 97.2L485.6 96.4L486.1 95.7L486.6 95.6L487.1 95.8L487.5 96.6L488.0 97.4L488.5 97.2L489.0 95.6L489.4 93.2L489.9 92.0L490.4 93.4L490.9 96.1L491.3 98.5L491.8 100.0L492.3 101.3L492.8 101.5L493.2 100.6L493.7 99.5L494.2 98.7L494.7 98.1L495.1 97.5L495.6 97.1L496.1 96.4L496.6 95.9L497.1 95.9L497.5 96.3L498.0 96.8L498.5 97.3L499.0 97.9L499.4 98.2L499.9 98.2L500.4 98.3L500.9 98.0L501.3 98.0L501.8 98.0L502.3 98.1L502.8 98.2L503.2 98.2L503.7 98.3L504.2 98.2L504.7 98.1L505.1 98.0L505.6 98.0L506.1 98.0L506.6 97.8L507.0 97.4L507.5 96.9L508.0 96.0L508.5 95.3L508.9 95.1L509.4 95.4L509.9 96.3L510.4 97.3L510.8 98.4L511.3 99.2L511.8 100.0L512.3 100.3L512.7 99.9L513.2 99.1L513.7 98.2L514.2 97.0L514.6 95.5L515.1 94.7L515.6 94.8L516.1 96.0L516.5 97.1L517.0 98.0L517.5 98.5L518.0 99.4L518.4 100.1L518.9 100.7L519.4 100.4L519.9 99.7L520.3 98.9L520.8 98.3L521.3 98.2L521.8 98.1L522.2 97.9L522.7 97.6L523.2 97.0L523.7 96.2L524.1 95.2L524.6 95.1L525.1 95.5L525.6 96.4L526.0 97.0L526.5 97.1L527.0 95.6L527.5 93.7L527.9 93.1L528.4 95.3L528.9 98.6L529.4 101.1L529.8 101.9L530.3 101.1L530.8 99.7L531.3 98.6L531.7 97.8L532.2 97.4L532.7 96.8L533.2 96.2L533.6 95.8L534.1 95.9L534.6 96.1L535.1 96.5L535.5 96.9L536.0 97.4L536.5 97.6L537.0 97.8L537.4 97.9L537.9 98.0L538.4 98.2L538.9 98.2L539.3 98.3L539.8 98.2L540.3 98.0L540.8 97.8L541.2 97.4L541.7 96.8L542.2 95.9L542.7 95.3L543.1 95.2L543.6 95.7L544.1 96.5L544.6 97.7L545.0 98.7L545.5 99.9L546.0 100.8L546.5 100.7L546.9 99.8L547.4 98.8L547.9 98.3L548.4 97.5L548.8 96.5L549.3 95.0L549.8 93.8L550.3 94.0L550.7 95.2L551.2 96.7L551.7 97.7L552.2 98.1L552.6 98.3L553.1 98.4L553.6 98.7L554.1 99.2L554.5 99.5L555.0 99.2L555.5 98.6L556.0 97.9L556.5 97.8L556.9 97.5L557.4 97.0L557.9 96.2L558.4 95.4L558.8 95.0L559.3 95.4L559.8 96.2L560.3 97.3L560.7 98.3L561.2 99.5L561.7 100.4L562.2 100.3L562.6 98.7L563.1 95.9L563.6 94.0L564.1 94.6L564.5 97.4L565.0 99.3L565.5 99.2L566.0 98.1L566.4 97.3L566.9 97.4L567.4 97.6L567.9 97.5L568.3 97.1L568.8 96.6L569.3 96.4L569.8 96.3L570.2 96.5L570.7 96.9L571.2 97.5L571.7 97.8L572.1 98.2L572.6 98.4L573.1 98.3L573.6 98.3L574.0 98.4L574.5 98.4L575.0 98.0L575.5 98.0L575.9 98.1L576.4 98.0L576.9 98.1L577.4 98.2L577.8 98.4L578.3 98.4L578.8 98.3L579.3 98.2L579.7 98.3L580.2 98.2L580.7 98.2L581.2 98.2L581.6 98.3L582.1 98.5L582.6 98.3L583.1 98.3L583.5 98.2L584.0 98.2L584.5 98.1L585.0 98.1L585.4 97.9L585.9 98.1L586.4 98.1L586.9 98.2L587.3 98.1L587.8 98.1L588.3 98.3L588.8 98.2L589.2 98.3L589.7 98.4L590.2 98.6L590.7 98.5L591.1 98.5L591.6 98.4L592.1 98.3L592.6 98.3L593.0 98.3L593.5 98.3L594.0 98.3L594.5 98.3L594.9 98.3L595.4 98.3L595.9 98.3L596.4 98.3L596.8 98.3L597.3 98.3L597.8 98.3L598.3 98.3L598.7 98.3L599.2 98.3L599.7 98.3L600.2 98.3L600.6 98.3L601.1 98.3L601.6 98.3L602.1 98.3L602.5 98.3L603.0 98.3L603.5 98.3L604.0 98.3L604.4 98.3L604.9 98.3L605.4 98.3L605.9 98.3L606.3 98.3L606.8 98.3L607.3 98.3L607.8 98.3L608.2 98.3L608.7 98.3L609.2 98.3L609.7 98.3L610.1 98.3L610.6 98.3L611.1 98.3L611.6 98.3L612.0 98.3L612.5 98.3L613.0 98.3L613.5 98.3L613.9 98.3L614.4 98.3L614.9 98.3L615.4 98.3L615.9 98.3L616.3 98.3L616.8 98.3L617.3 98.3L617.8 98.3L618.2 98.3L618.7 98.3L619.2 98.3L619.7 98.3L620.1 98.3L620.6 98.3L621.1 98.3L621.6 98.3L622.0 98.3L622.5 98.3L623.0 98.3L623.5 98.3L623.9 98.3L624.4 98.3L624.9 98.3L625.4 98.3L625.8 98.3L626.3 98.3L626.8 98.3L627.3 98.3L627.7 98.3" stroke="#2ca02c"/>
<path d="M199.1 92.3L199.6 94.2L200.1 96.8L200.5 101.6L201.0 107.9L201.5 113.0L202.0 116.2L202.4 117.6L202.9 118.1L203.4 117.9L203.9 117.4L204.3 117.0L204.8 116.7L205.3 116.6L205.8 116.6L206.2 116.5L206.7 116.5L207.2 116.5L207.7 116.5L208.1 116.5L208.6 116.5L209.1 116.5L209.6 116.5L210.0 116.5L210.5 116.5L211.0 116.5L211.5 116.5L211.9 116.5L212.4 116.5L212.9 116.5L213.4 116.5L213.8 116.5L214.3 116.5L214.8 116.5L215.3 116.5L215.7 116.5L216.2 116.5L216.7 116.5L217.2 116.5L217.6 116.5L218.1 116.5L218.6 116.5L219.1 116.5L219.5 116.5L220.0 116.5L220.5 116.5L221.0 116.5L221.4 116.5L221.9 116.5L222.4 116.5L222.9 116.5L223.3 116.5L223.8 116.5L224.3 116.5L224.8 116.5L225.2 116.5L225.7 116.5L226.2 116.5L226.7 116.5L227.1 116.5L227.6 116.5L228.1 116.5L228.6 116.5L229.0 116.5L229.5 116.5L230.0 116.5L230.5 116.5L230.9 116.5L231.4 116.5L231.9 116.5L232.4 116.5L232.8 116.5L233.3 116.5L233.8 116.5L234.3 116.5L234.7 116.5L235.2 116.5L235.7 116.5L236.2 116.5L236.6 116.5L237.1 116.5L237.6 116.5L238.1 116.5L238.5 116.5L239.0 116.5L239.5 116.5L240.0 116.5L240.4 116.5L240.9 116.5L241.4 116.5L241.9 116.5L242.3 116.5L242.8 116.5L243.3 116.5L243.8 116.5L244.2 116.5L244.7 116.5L245.2 116.5L245.7 116.5L246.1 116.5L246.6 116.5L247.1 116.5L247.6 116.5L248.0 116.5L248.5 116.5L249.0 116.5L249.5 116.5L249.9 116.5L250.4 116.5L250.9 116.5L251.4 116.5L251.8 116.5L252.3 116.5L252.8 116.3L253.3 116.4L253.7 116.6L254.2 116.9L254.7 117.7L255.2 119.7L255.6 123.2L256.1 128.4L256.6 134.1L257.1 138.6L257.5 139.7L258.0 137.1L258.5 131.6L259.0 124.9L259.5 118.2L259.9 111.7L260.4 105.3L260.9 99.3L261.4 94.6L261.8 92.3L262.3 93.3L262.8 97.4L263.3 103.2L263.7 109.6L264.2 115.2L264.7 120.3L265.2 125.1L265.6 130.0L266.1 134.9L266.6 140.3L267.1 145.1L267.5 149.2L268.0 151.7L268.5 152.3L269.0 151.0L269.4 148.1L269.9 143.7L270.4 138.4L270.9 133.2L271.3 128.4L271.8 124.2L272.3 120.8L272.8 118.7L273.2 117.4L273.7 116.6L274.2 116.2L274.7 116.2L275.1 116.4L275.6 116.4L276.1 116.6L276.6 116.7L277.0 116.8L277.5 116.9L278.0 116.9L278.5 117.1L278.9 117.1L279.4 117.0L279.9 116.7L280.4 116.6L280.8 116.6L281.3 116.5L281.8 116.5L282.3 116.5L282.7 116.5L283.2 116.5L283.7 116.4L284.2 116.5L284.6 116.4L285.1 116.5L285.6 116.6L286.1 116.5L286.5 116.5L287.0 116.7L287.5 116.9L288.0 117.8L288.4 119.6L288.9 123.1L289.4 127.8L289.9 132.5L290.3 135.3L290.8 134.7L291.3 131.1L291.8 125.9L292.2 120.7L292.7 116.4L293.2 112.5L293.7 108.3L294.1 103.9L294.6 99.7L295.1 97.1L295.6 97.0L296.0 99.6L296.5 103.8L297.0 108.8L297.5 113.3L297.9 117.1L298.4 120.4L298.9 123.8L299.4 127.4L299.8 131.5L300.3 135.8L300.8 140.0L301.3 143.3L301.7 145.5L302.2 146.2L302.7 145.3L303.2 142.9L303.6 139.2L304.1 135.0L304.6 130.8L305.1 126.6L305.5 123.2L306.0 120.5L306.5 118.5L307.0 117.3L307.4 116.5L307.9 116.0L308.4 116.0L308.9 116.1L309.3 116.1L309.8 116.2L310.3 116.4L310.8 116.5L311.2 116.3L311.7 116.4L312.2 116.4L312.7 116.5L313.1 116.5L313.6 116.7L314.1 116.8L314.6 116.8L315.0 116.7L315.5 116.6L316.0 116.7L316.5 116.6L316.9 116.6L317.4 116.5L317.9 116.6L318.4 116.7L318.9 116.6L319.3 116.5L319.8 116.6L320.3 116.6L320.8 116.5L321.2 116.5L321.7 116.6L322.2 116.8L322.7 116.7L323.1 116.6L323.6 116.4L324.1 116.5L324.6 116.5L325.0 116.7L325.5 117.5L326.0 119.4L326.5 122.3L326.9 126.4L327.4 130.5L327.9 133.1L328.4 132.6L328.8 129.5L329.3 125.0L329.8 120.4L330.3 116.4L330.7 112.4L331.2 107.9L331.7 102.6L332.2 97.0L332.6 92.7L333.1 91.1L333.6 93.0L334.1 97.7L334.5 104.2L335.0 110.8L335.5 116.9L336.0 122.3L336.4 127.4L336.9 132.3L337.4 136.9L337.9 141.5L338.3 145.0L338.8 147.1L339.3 147.5L339.8 146.3L340.2 143.5L340.7 139.6L341.2 135.3L341.7 130.8L342.1 126.8L342.6 123.5L343.1 120.7L343.6 118.6L344.0 117.2L344.5 116.3L345.0 115.8L345.5 115.6L345.9 115.8L346.4 115.9L346.9 116.1L347.4 116.4L347.8 116.6L348.3 116.7L348.8 116.6L349.3 116.7L349.7 116.6L350.2 116.6L350.7 116.4L351.2 116.5L351.6 116.4L352.1 116.5L352.6 116.5L353.1 116.5L353.5 116.4L354.0 116.4L354.5 116.3L355.0 116.2L355.4 116.2L355.9 116.2L356.4 116.3L356.9 116.5L357.3 116.7L357.8 116.9L358.3 117.0L358.8 117.4L359.2 118.3L359.7 120.2L360.2 123.4L360.7 127.6L361.1 131.6L361.6 133.4L362.1 132.0L362.6 127.4L363.0 121.1L363.5 114.4L364.0 107.8L364.5 101.9L364.9 97.6L365.4 95.8L365.9 96.8L366.4 100.3L366.8 105.3L367.3 110.6L367.8 115.2L368.3 119.3L368.7 123.1L369.2 127.1L369.7 131.5L370.2 136.5L370.6 141.2L371.1 145.4L371.6 148.5L372.1 150.0L372.5 149.5L373.0 147.2L373.5 143.5L374.0 139.0L374.4 134.2L374.9 129.5L375.4 125.4L375.9 122.3L376.3 119.7L376.8 118.0L377.3 116.9L377.8 116.3L378.3 116.0L378.7 116.0L379.2 116.0L379.7 116.2L380.2 116.4L380.6 116.5L381.1 116.5L381.6 116.6L382.1 116.6L382.5 116.5L383.0 116.3L383.5 116.2L384.0 116.2L384.4 116.4L384.9 116.4L385.4 116.4L385.9 116.6L386.3 116.6L386.8 116.5L387.3 116.4L387.8 116.4L388.2 116.3L388.7 116.3L389.2 116.4L389.7 116.4L390.1 116.6L390.6 116.7L391.1 116.6L391.6 116.9L392.0 117.8L392.5 119.8L393.0 123.2L393.5 128.1L393.9 133.1L394.4 136.2L394.9 136.0L395.4 132.4L395.8 127.0L396.3 121.5L396.8 117.0L397.3 113.0L397.7 108.7L398.2 104.2L398.7 100.0L399.2 97.4L399.6 96.9L400.1 99.2L400.6 103.6L401.1 108.7L401.5 113.8L402.0 118.5L402.5 123.0L403.0 127.6L403.4 132.4L403.9 137.5L404.4 142.5L404.9 146.8L405.3 149.9L405.8 151.1L406.3 150.5L406.8 148.0L407.2 144.0L407.7 139.4L408.2 134.3L408.7 129.6L409.1 125.5L409.6 122.3L410.1 119.7L410.6 118.1L411.0 116.9L411.5 116.2L412.0 116.1L412.5 116.0L412.9 116.0L413.4 116.1L413.9 116.2L414.4 116.3L414.8 116.3L415.3 116.5L415.8 116.4L416.3 116.4L416.7 116.4L417.2 116.5L417.7 116.4L418.2 116.5L418.6 116.6L419.1 116.6L419.6 116.4L420.1 116.3L420.5 116.1L421.0 116.1L421.5 116.1L422.0 116.1L422.4 116.3L422.9 116.4L423.4 116.5L423.9 116.6L424.3 116.6L424.8 117.0L425.3 117.8L425.8 119.9L426.2 123.3L426.7 127.9L427.2 132.3L427.7 134.5L428.1 133.7L428.6 129.9L429.1 125.2L429.6 121.0L430.0 118.0L430.5 115.7L431.0 113.3L431.5 109.9L431.9 105.4L432.4 100.3L432.9 95.5L433.4 93.1L433.8 93.6L434.3 97.2L434.8 103.2L435.3 109.9L435.7 116.3L436.2 122.6L436.7 128.4L437.2 134.3L437.7 140.3L438.1 146.1L438.6 151.4L439.1 155.2L439.6 157.2L440.0 156.7L440.5 154.1L441.0 149.7L441.5 144.1L441.9 138.3L442.4 132.6L442.9 127.6L443.4 123.7L443.8 120.7L444.3 118.4L444.8 117.0L445.3 116.1L445.7 115.7L446.2 115.6L446.7 115.7L447.2 115.9L447.6 116.4L448.1 116.5L448.6 116.6L449.1 116.6L449.5 116.6L450.0 116.7L450.5 116.8L451.0 116.8L451.4 116.9L451.9 117.1L452.4 117.1L452.9 116.9L453.3 116.8L453.8 116.7L454.3 116.6L454.8 116.6L455.2 116.6L455.7 116.5L456.2 116.5L456.7 116.6L457.1 116.6L457.6 116.6L458.1 116.7L458.6 116.7L459.0 116.6L459.5 116.6L460.0 116.7L460.5 117.1L460.9 117.9L461.4 119.9L461.9 123.6L462.4 128.6L462.8 133.5L463.3 136.3L463.8 135.6L464.3 131.8L464.7 126.1L465.2 120.5L465.7 115.4L466.2 110.7L466.6 105.1L467.1 99.1L467.6 93.9L468.1 90.8L468.5 90.8L469.0 94.2L469.5 99.6L470.0 105.7L470.4 110.8L470.9 114.8L471.4 117.9L471.9 120.2L472.3 122.4L472.8 124.9L473.3 127.6L473.8 130.0L474.2 132.1L474.7 133.7L475.2 134.4L475.7 134.0L476.1 132.7L476.6 130.7L477.1 128.3L477.6 125.6L478.0 123.0L478.5 120.7L479.0 118.9L479.5 117.5L479.9 116.6L480.4 116.1L480.9 116.0L481.4 116.0L481.8 116.1L482.3 116.4L482.8 116.5L483.3 116.7L483.7 116.7L484.2 116.7L484.7 116.7L485.2 116.7L485.6 116.7L486.1 116.7L486.6 116.6L487.1 116.6L487.5 116.6L488.0 116.5L488.5 116.5L489.0 116.5L489.4 116.5L489.9 116.5L490.4 116.3L490.9 116.3L491.3 116.4L491.8 116.4L492.3 116.4L492.8 116.5L493.2 116.6L493.7 116.5L494.2 116.6L494.7 116.5L495.1 116.6L495.6 116.4L496.1 116.6L496.6 116.6L497.1 116.6L497.5 116.6L498.0 116.6L498.5 116.5L499.0 116.6L499.4 116.8L499.9 117.4L500.4 118.7L500.9 121.2L501.3 125.2L501.8 129.8L502.3 133.1L502.8 133.0L503.2 128.3L503.7 120.1L504.2 109.8L504.7 100.0L505.1 92.9L505.6 89.7L506.1 90.6L506.6 95.1L507.0 101.3L507.5 107.4L508.0 112.4L508.5 116.5L508.9 119.6L509.4 122.7L509.9 126.4L510.4 130.8L510.8 135.6L511.3 140.7L511.8 145.6L512.3 149.6L512.7 151.9L513.2 152.5L513.7 151.0L514.2 147.6L514.6 143.1L515.1 138.0L515.6 132.8L516.1 127.9L516.5 124.0L517.0 121.0L517.5 118.7L518.0 117.3L518.4 116.6L518.9 116.2L519.4 116.1L519.9 116.2L520.3 116.2L520.8 116.4L521.3 116.5L521.8 116.6L522.2 116.6L522.7 116.5L523.2 116.6L523.7 116.6L524.1 116.6L524.6 116.6L525.1 116.7L525.6 116.6L526.0 116.5L526.5 116.5L527.0 116.6L527.5 116.7L527.9 116.8L528.4 116.9L528.9 116.7L529.4 116.8L529.8 116.7L530.3 116.7L530.8 116.6L531.3 116.6L531.7 116.6L532.2 116.6L532.7 116.6L533.2 116.4L533.6 116.4L534.1 116.5L534.6 116.7L535.1 117.4L535.5 118.9L536.0 121.8L536.5 125.6L537.0 129.8L537.4 132.1L537.9 131.5L538.4 127.9L538.9 121.6L539.3 114.4L539.8 106.6L540.3 99.1L540.8 93.0L541.2 89.4L541.7 89.5L542.2 93.0L542.7 98.9L543.1 105.4L543.6 111.2L544.1 115.8L544.6 119.6L545.0 122.9L545.5 126.0L546.0 129.5L546.5 132.9L546.9 136.2L547.4 138.7L547.9 140.1L548.4 140.2L548.8 139.0L549.3 136.8L549.8 133.7L550.3 130.3L550.7 127.1L551.2 124.0L551.7 121.5L552.2 119.4L552.6 117.9L553.1 116.8L553.6 116.2L554.1 115.8L554.5 115.8L555.0 116.0L555.5 116.2L556.0 116.4L556.5 116.6L556.9 116.6L557.4 116.7L557.9 116.6L558.4 116.5L558.8 116.3L559.3 116.4L559.8 116.3L560.3 116.3L560.7 116.3L561.2 116.4L561.7 116.3L562.2 116.2L562.6 116.2L563.1 116.5L563.6 116.4L564.1 116.5L564.5 116.6L565.0 116.7L565.5 116.8L566.0 116.7L566.4 116.6L566.9 116.6L567.4 116.6L567.9 116.4L568.3 116.6L568.8 116.5L569.3 116.6L569.8 116.7L570.2 116.6L570.7 116.6L571.2 116.7L571.7 116.6L572.1 116.6L572.6 116.6L573.1 116.6L573.6 116.7L574.0 116.8L574.5 116.8L575.0 116.7L575.5 117.1L575.9 118.3L576.4 120.7L576.9 123.0L577.4 124.1L577.8 122.5L578.3 119.7L578.8 116.7L579.3 113.5L579.7 109.5L580.2 104.9L580.7 101.3L581.2 100.7L581.6 103.4L582.1 107.8L582.6 111.8L583.1 114.4L583.5 115.8L584.0 117.1L584.5 118.8L585.0 121.7L585.4 125.8L585.9 129.9L586.4 132.2L586.9 132.0L587.3 129.3L587.8 125.2L588.3 121.5L588.8 118.7L589.2 117.3L589.7 116.6L590.2 116.4L590.7 116.3L591.1 116.4L591.6 116.5L592.1 116.5L592.6 116.5L593.0 116.5L593.5 116.5L594.0 116.5L594.5 116.5L594.9 116.5L595.4 116.5L595.9 116.5L596.4 116.5L596.8 116.5L597.3 116.5L597.8 116.5L598.3 116.5L598.7 116.5L599.2 116.5L599.7 116.5L600.2 116.5L600.6 116.5L601.1 116.5L601.6 116.5L602.1 116.5L602.5 116.5L603.0 116.5L603.5 116.5L604.0 116.5L604.4 116.5L604.9 116.5L605.4 116.5L605.9 116.5L606.3 116.5L606.8 116.5L607.3 116.5L607.8 116.5L608.2 116.5L608.7 116.5L609.2 116.5L609.7 116.5L610.1 116.5L610.6 116.5L611.1 116.5L611.6 116.5L612.0 116.5L612.5 116.5L613.0 116.5L613.5 116.5L613.9 116.5L614.4 116.5L614.9 116.5L615.4 116.5L615.9 116.5L616.3 116.5L616.8 116.5L617.3 116.5L617.8 116.5L618.2 116.5L618.7 116.5L619.2 116.5L619.7 116.5L620.1 116.5L620.6 116.5L621.1 116.5L621.6 116.5L622.0 116.5L622.5 116.5L623.0 116.5L623.5 116.5L623.9 116.5L624.4 116.5L624.9 116.5L625.4 116.5L625.8 116.5L626.3 116.5L626.8 116.5L627.3 116.5L627.7 116.5" stroke="#d62728"/>
<path d="M199.1 92.3L199.6 90.4L200.1 87.8L200.5 82.8L201.0 76.5L201.5 71.0L202.0 67.6L202.4 65.9L202.9 65.4L203.4 65.8L203.9 66.6L204.3 67.3L204.8 67.8L205.3 68.0L205.8 68.0L206.2 68.1L206.7 68.1L207.2 68.1L207.7 68.1L208.1 68.1L208.6 68.1L209.1 68.1L209.6 68.1L210.0 68.1L210.5 68.1L211.0 68.1L211.5 68.1L211.9 68.1L212.4 68.1L212.9 68.1L213.4 68.1L213.8 68.1L214.3 68.1L214.8 68.1L215.3 68.1L215.7 68.1L216.2 68.1L216.7 68.1L217.2 68.1L217.6 68.1L218.1 68.1L218.6 68.1L219.1 68.1L219.5 68.1L220.0 68.1L220.5 68.1L221.0 68.1L221.4 68.1L221.9 68.1L222.4 68.1L222.9 68.1L223.3 68.1L223.8 68.1L224.3 68.1L224.8 68.1L225.2 68.1L225.7 68.1L226.2 68.1L226.7 68.1L227.1 68.1L227.6 68.1L228.1 68.1L228.6 68.1L229.0 68.1L229.5 68.1L230.0 68.1L230.5 68.1L230.9 68.1L231.4 68.1L231.9 68.1L232.4 68.1L232.8 68.1L233.3 68.1L233.8 68.1L234.3 68.1L234.7 68.1L235.2 68.1L235.7 68.1L236.2 68.1L236.6 68.1L237.1 68.1L237.6 68.1L238.1 68.1L238.5 68.1L239.0 68.1L239.5 68.1L240.0 68.1L240.4 68.1L240.9 68.1L241.4 68.1L241.9 68.1L242.3 68.1L242.8 68.1L243.3 68.1L243.8 68.1L244.2 68.1L244.7 68.1L245.2 68.1L245.7 68.1L246.1 68.1L246.6 68.1L247.1 68.1L247.6 68.1L248.0 68.1L248.5 68.0L249.0 68.0L249.5 68.0L249.9 68.0L250.4 67.9L250.9 67.8L251.4 67.5L251.8 67.1L252.3 66.4L252.8 65.4L253.3 64.2L253.7 63.0L254.2 62.2L254.7 61.5L255.2 61.3L255.6 61.0L256.1 60.9L256.6 60.9L257.1 60.9L257.5 60.8L258.0 61.2L258.5 62.0L259.0 62.8L259.5 64.0L259.9 65.3L260.4 66.4L260.9 67.0L261.4 67.6L261.8 68.0L262.3 68.3L262.8 69.2L263.3 70.3L263.7 71.4L264.2 71.6L264.7 70.4L265.2 68.5L265.6 66.7L266.1 65.6L266.6 64.7L267.1 63.7L267.5 64.5L268.0 69.8L268.5 80.0L269.0 90.9L269.4 96.7L269.9 95.1L270.4 87.8L270.9 78.0L271.3 68.4L271.8 60.4L272.3 57.4L272.8 60.0L273.2 64.3L273.7 67.2L274.2 68.6L274.7 69.3L275.1 70.0L275.6 70.4L276.1 70.4L276.6 70.0L277.0 69.4L277.5 68.8L278.0 68.4L278.5 68.3L278.9 68.2L279.4 68.2L279.9 68.1L280.4 68.1L280.8 68.0L281.3 68.0L281.8 68.1L282.3 68.1L282.7 68.0L283.2 68.1L283.7 68.2L284.2 68.1L284.6 68.1L285.1 68.1L285.6 68.2L286.1 68.1L286.5 68.0L287.0 67.9L287.5 67.9L288.0 67.8L288.4 67.7L288.9 67.8L289.4 67.7L289.9 67.4L290.3 66.6L290.8 65.2L291.3 62.9L291.8 60.4L292.2 58.0L292.7 56.8L293.2 57.5L293.7 59.4L294.1 62.2L294.6 64.4L295.1 66.2L295.6 67.6L296.0 68.7L296.5 69.7L297.0 70.8L297.5 71.3L297.9 71.2L298.4 70.3L298.9 68.8L299.4 67.2L299.8 66.0L300.3 66.0L300.8 67.2L301.3 69.9L301.7 74.0L302.2 79.4L302.7 85.2L303.2 88.5L303.6 87.5L304.1 82.7L304.6 76.6L305.1 70.1L305.5 64.2L306.0 60.3L306.5 60.4L307.0 63.7L307.4 66.9L307.9 68.6L308.4 69.6L308.9 70.3L309.3 70.9L309.8 70.8L310.3 70.2L310.8 69.5L311.2 68.8L311.7 68.4L312.2 68.2L312.7 68.1L313.1 68.1L313.6 68.1L314.1 68.0L314.6 68.1L315.0 68.1L315.5 68.1L316.0 67.9L316.5 68.1L316.9 68.1L317.4 68.0L317.9 67.9L318.4 68.0L318.9 68.0L319.3 68.1L319.8 68.1L320.3 68.1L320.8 68.1L321.2 68.3L321.7 68.0L322.2 68.1L322.7 68.1L323.1 68.0L323.6 68.0L324.1 68.0L324.6 68.0L325.0 68.0L325.5 68.0L326.0 68.0L326.5 67.7L326.9 66.9L327.4 65.3L327.9 62.5L328.4 58.4L328.8 53.4L329.3 49.2L329.8 47.5L330.3 48.9L330.7 52.8L331.2 57.6L331.7 62.1L332.2 65.5L332.6 67.7L333.1 69.4L333.6 70.8L334.1 71.8L334.5 72.0L335.0 71.2L335.5 69.6L336.0 68.0L336.4 66.3L336.9 65.6L337.4 66.3L337.9 68.0L338.3 70.6L338.8 74.8L339.3 80.4L339.8 86.1L340.2 88.6L340.7 87.2L341.2 82.0L341.7 75.7L342.1 69.4L342.6 63.1L343.1 58.4L343.6 58.1L344.0 61.7L344.5 65.8L345.0 67.9L345.5 68.8L345.9 69.5L346.4 70.0L346.9 70.3L347.4 70.2L347.8 69.6L348.3 69.1L348.8 68.6L349.3 68.4L349.7 68.1L350.2 68.1L350.7 68.2L351.2 68.1L351.6 68.1L352.1 68.1L352.6 68.2L353.1 68.2L353.5 68.1L354.0 68.1L354.5 68.1L355.0 68.0L355.4 68.0L355.9 68.0L356.4 68.1L356.9 68.0L357.3 68.1L357.8 68.0L358.3 68.1L358.8 68.1L359.2 68.0L359.7 67.5L360.2 66.5L360.7 64.6L361.1 61.4L361.6 57.3L362.1 53.5L362.6 51.1L363.0 51.1L363.5 53.5L364.0 57.2L364.5 61.4L364.9 64.6L365.4 67.2L365.9 69.3L366.4 70.9L366.8 71.6L367.3 71.6L367.8 70.9L368.3 69.7L368.7 68.5L369.2 67.4L369.7 66.4L370.2 65.6L370.6 66.0L371.1 68.1L371.6 72.3L372.1 78.1L372.5 84.2L373.0 88.8L373.5 89.0L374.0 85.1L374.4 79.0L374.9 73.7L375.4 70.1L375.9 67.6L376.3 64.4L376.8 60.8L377.3 59.5L377.8 62.2L378.3 66.0L378.7 68.9L379.2 70.0L379.7 70.0L380.2 69.6L380.6 69.0L381.1 68.6L381.6 68.3L382.1 68.4L382.5 68.3L383.0 68.3L383.5 68.3L384.0 68.1L384.4 68.2L384.9 68.1L385.4 68.1L385.9 68.1L386.3 68.1L386.8 68.2L387.3 68.1L387.8 68.1L388.2 68.1L388.7 68.1L389.2 68.1L389.7 68.1L390.1 68.1L390.6 68.0L391.1 68.0L391.6 67.9L392.0 67.8L392.5 67.8L393.0 67.7L393.5 67.0L393.9 66.2L394.4 64.6L394.9 61.8L395.4 58.3L395.8 55.0L396.3 53.1L396.8 53.3L397.3 55.6L397.7 59.2L398.2 62.5L398.7 65.2L399.2 66.9L399.6 67.9L400.1 68.7L400.6 69.7L401.1 70.7L401.5 71.0L402.0 70.2L402.5 68.3L403.0 66.4L403.4 65.8L403.9 66.3L404.4 67.7L404.9 69.7L405.3 72.8L405.8 77.8L406.3 83.3L406.8 87.1L407.2 86.9L407.7 83.1L408.2 77.6L408.7 71.7L409.1 66.1L409.6 60.1L410.1 56.4L410.6 57.8L411.0 62.4L411.5 66.3L412.0 68.2L412.5 69.4L412.9 70.2L413.4 70.4L413.9 70.1L414.4 69.7L414.8 69.0L415.3 68.4L415.8 68.2L416.3 68.1L416.7 68.1L417.2 67.9L417.7 67.9L418.2 68.0L418.6 67.9L419.1 67.8L419.6 67.7L420.1 67.6L420.5 67.6L421.0 67.8L421.5 67.8L422.0 67.8L422.4 67.8L422.9 67.8L423.4 67.9L423.9 67.9L424.3 67.9L424.8 67.9L425.3 68.1L425.8 68.1L426.2 67.9L426.7 67.8L427.2 67.5L427.7 66.4L428.1 64.5L428.6 61.5L429.1 57.5L429.6 53.7L430.0 51.2L430.5 51.3L431.0 53.6L431.5 57.5L431.9 61.4L432.4 64.7L432.9 66.9L433.4 68.7L433.8 70.1L434.3 71.4L434.8 71.9L435.3 71.7L435.7 70.5L436.2 69.4L436.7 68.4L437.2 67.3L437.7 66.2L438.1 66.0L438.6 67.6L439.1 71.1L439.6 76.7L440.0 82.9L440.5 87.6L441.0 88.1L441.5 84.5L441.9 78.4L442.4 71.4L442.9 64.1L443.4 58.0L443.8 56.8L444.3 60.4L444.8 64.7L445.3 67.2L445.7 68.2L446.2 68.8L446.7 69.5L447.2 70.2L447.6 70.4L448.1 70.1L448.6 69.4L449.1 69.0L449.5 68.5L450.0 68.2L450.5 68.1L451.0 68.2L451.4 68.2L451.9 68.2L452.4 68.2L452.9 68.2L453.3 68.1L453.8 68.1L454.3 67.9L454.8 68.0L455.2 68.1L455.7 68.3L456.2 68.2L456.7 68.2L457.1 68.2L457.6 68.1L458.1 68.1L458.6 68.1L459.0 68.1L459.5 68.2L460.0 68.2L460.5 68.1L460.9 68.2L461.4 68.2L461.9 68.1L462.4 67.9L462.8 67.4L463.3 66.5L463.8 64.8L464.3 62.1L464.7 58.9L465.2 55.6L465.7 53.7L466.2 53.9L466.6 56.0L467.1 59.2L467.6 62.6L468.1 65.3L468.5 67.0L469.0 68.3L469.5 69.6L470.0 70.7L470.4 71.4L470.9 71.1L471.4 69.8L471.9 67.9L472.3 66.5L472.8 66.4L473.3 66.9L473.8 68.1L474.2 69.5L474.7 72.0L475.2 76.0L475.7 80.7L476.1 84.0L476.6 84.0L477.1 80.8L477.6 76.1L478.0 70.9L478.5 65.7L479.0 60.5L479.5 58.3L479.9 60.4L480.4 64.4L480.9 67.5L481.4 69.1L481.8 70.0L482.3 70.4L482.8 70.3L483.3 69.8L483.7 69.0L484.2 68.5L484.7 68.2L485.2 68.0L485.6 67.8L486.1 67.9L486.6 68.0L487.1 68.0L487.5 68.0L488.0 68.1L488.5 68.2L489.0 68.2L489.4 68.0L489.9 68.0L490.4 68.0L490.9 67.9L491.3 68.1L491.8 68.0L492.3 68.2L492.8 68.1L493.2 68.0L493.7 68.0L494.2 67.9L494.7 67.9L495.1 67.9L495.6 68.0L496.1 68.1L496.6 68.0L497.1 68.0L497.5 68.1L498.0 68.1L498.5 68.0L499.0 68.2L499.4 68.2L499.9 68.1L500.4 68.0L500.9 67.4L501.3 66.3L501.8 64.5L502.3 61.9L502.8 58.9L503.2 56.4L503.7 55.5L504.2 56.4L504.7 58.8L505.1 61.8L505.6 64.8L506.1 67.0L506.6 69.0L507.0 70.4L507.5 71.5L508.0 71.7L508.5 71.0L508.9 69.2L509.4 67.1L509.9 65.5L510.4 65.2L510.8 66.0L511.3 67.3L511.8 69.3L512.3 72.9L512.7 79.4L513.2 88.7L513.7 97.7L514.2 102.0L514.6 98.9L515.1 90.6L515.6 81.0L516.1 73.1L516.5 66.6L517.0 60.2L517.5 56.0L518.0 57.1L518.4 62.0L518.9 66.4L519.4 68.8L519.9 69.7L520.3 69.6L520.8 69.4L521.3 68.9L521.8 68.5L522.2 68.2L522.7 68.2L523.2 68.1L523.7 68.0L524.1 68.1L524.6 68.2L525.1 68.0L525.6 68.0L526.0 68.1L526.5 68.1L527.0 68.1L527.5 68.1L527.9 68.1L528.4 68.1L528.9 68.1L529.4 68.1L529.8 68.0L530.3 68.0L530.8 68.0L531.3 68.0L531.7 68.0L532.2 67.9L532.7 68.0L533.2 68.0L533.6 67.9L534.1 67.8L534.6 68.0L535.1 67.9L535.5 67.6L536.0 67.0L536.5 65.7L537.0 63.4L537.4 60.1L537.9 56.7L538.4 54.0L538.9 53.2L539.3 54.5L539.8 57.5L540.3 61.1L540.8 64.2L541.2 66.7L541.7 68.5L542.2 69.9L542.7 70.9L543.1 71.1L543.6 70.4L544.1 68.9L544.6 67.0L545.0 65.4L545.5 65.2L546.0 65.8L546.5 67.1L546.9 68.6L547.4 70.8L547.9 74.1L548.4 78.5L548.8 82.7L549.3 84.3L549.8 82.4L550.3 78.1L550.7 73.7L551.2 70.3L551.7 67.3L552.2 63.2L552.6 58.1L553.1 55.7L553.6 58.8L554.1 64.3L554.5 68.5L555.0 70.0L555.5 70.0L556.0 69.5L556.5 68.9L556.9 68.3L557.4 68.0L557.9 68.0L558.4 67.8L558.8 67.9L559.3 67.8L559.8 67.8L560.3 67.9L560.7 68.0L561.2 67.9L561.7 68.1L562.2 68.1L562.6 68.1L563.1 68.1L563.6 68.1L564.1 68.0L564.5 68.1L565.0 68.1L565.5 68.2L566.0 68.1L566.4 68.1L566.9 67.9L567.4 68.0L567.9 68.1L568.3 68.1L568.8 68.2L569.3 68.4L569.8 68.4L570.2 68.2L570.7 68.0L571.2 68.0L571.7 68.0L572.1 67.9L572.6 67.9L573.1 67.9L573.6 67.9L574.0 67.8L574.5 67.7L575.0 67.8L575.5 67.5L575.9 66.7L576.4 65.6L576.9 64.2L577.4 63.2L577.8 62.8L578.3 63.4L578.8 64.9L579.3 66.8L579.7 68.7L580.2 70.3L580.7 71.7L581.2 73.0L581.6 74.3L582.1 75.3L582.6 76.0L583.1 76.5L583.5 76.7L584.0 76.6L584.5 76.5L585.0 77.0L585.4 77.7L585.9 78.5L586.4 78.7L586.9 77.7L587.3 75.7L587.8 73.0L588.3 70.1L588.8 66.7L589.2 63.5L589.7 62.6L590.2 63.9L590.7 66.2L591.1 67.6L591.6 68.0L592.1 68.0L592.6 68.1L593.0 68.1L593.5 68.1L594.0 68.1L594.5 68.1L594.9 68.1L595.4 68.1L595.9 68.1L596.4 68.1L596.8 68.1L597.3 68.1L597.8 68.1L598.3 68.1L598.7 68.1L599.2 68.1L599.7 68.1L600.2 68.1L600.6 68.1L601.1 68.1L601.6 68.1L602.1 68.1L602.5 68.1L603.0 68.1L603.5 68.1L604.0 68.1L604.4 68.1L604.9 68.1L605.4 68.1L605.9 68.1L606.3 68.1L606.8 68.1L607.3 68.1L607.8 68.1L608.2 68.1L608.7 68.1L609.2 68.1L609.7 68.1L610.1 68.1L610.6 68.1L611.1 68.1L611.6 68.1L612.0 68.1L612.5 68.1L613.0 68.1L613.5 68.1L613.9 68.1L614.4 68.1L614.9 68.1L615.4 68.1L615.9 68.1L616.3 68.1L616.8 68.1L617.3 68.1L617.8 68.1L618.2 68.1L618.7 68.1L619.2 68.1L619.7 68.1L620.1 68.1L620.6 68.1L621.1 68.1L621.6 68.1L622.0 68.1L622.5 68.1L623.0 68.1L623.5 68.1L623.9 68.1L624.4 68.1L624.9 68.1L625.4 68.1L625.8 68.1L626.3 68.1L626.8 68.1L627.3 68.1L627.7 68.1" stroke="#9467bd"/>
<path d="M199.1 92.3L199.6 92.1L200.1 91.8L200.5 91.3L201.0 90.7L201.5 90.2L202.0 89.9L202.4 89.8L202.9 89.7L203.4 89.7L203.9 89.7L204.3 89.7L204.8 89.7L205.3 89.7L205.8 89.7L206.2 89.7L206.7 89.7L207.2 89.7L207.7 89.7L208.1 89.7L208.6 89.7L209.1 89.7L209.6 89.7L210.0 89.7L210.5 89.7L211.0 89.7L211.5 89.7L211.9 89.7L212.4 89.7L212.9 89.7L213.4 89.7L213.8 89.7L214.3 89.7L214.8 89.7L215.3 89.7L215.7 89.7L216.2 89.7L216.7 89.7L217.2 89.7L217.6 89.7L218.1 89.7L218.6 89.7L219.1 89.7L219.5 89.7L220.0 89.7L220.5 89.7L221.0 89.7L221.4 89.7L221.9 89.7L222.4 89.7L222.9 89.7L223.3 89.7L223.8 89.7L224.3 89.7L224.8 89.7L225.2 89.7L225.7 89.7L226.2 89.7L226.7 89.7L227.1 89.7L227.6 89.7L228.1 89.7L228.6 89.7L229.0 89.7L229.5 89.7L230.0 89.7L230.5 89.7L230.9 89.7L231.4 89.7L231.9 89.7L232.4 89.7L232.8 89.7L233.3 89.7L233.8 89.7L234.3 89.7L234.7 89.7L235.2 89.7L235.7 89.7L236.2 89.7L236.6 89.7L237.1 89.7L237.6 89.7L238.1 89.7L238.5 89.7L239.0 89.7L239.5 89.7L240.0 89.7L240.4 89.7L240.9 89.7L241.4 89.7L241.9 89.7L242.3 89.7L242.8 89.7L243.3 89.7L243.8 89.7L244.2 89.7L244.7 89.7L245.2 89.7L245.7 89.7L246.1 89.7L246.6 89.7L247.1 89.7L247.6 89.7L248.0 89.7L248.5 89.7L249.0 89.7L249.5 89.7L249.9 89.7L250.4 89.7L250.9 89.7L251.4 89.7L251.8 89.7L252.3 89.8L252.8 89.7L253.3 89.6L253.7 89.5L254.2 89.4L254.7 89.0L255.2 88.4L255.6 87.8L256.1 86.5L256.6 84.9L257.1 83.2L257.5 81.6L258.0 80.4L258.5 80.1L259.0 80.5L259.5 81.8L259.9 83.5L260.4 85.0L260.9 86.1L261.4 86.8L261.8 86.8L262.3 86.9L262.8 87.1L263.3 87.6L263.7 88.4L264.2 89.0L264.7 89.4L265.2 89.5L265.6 89.7L266.1 89.9L266.6 90.0L267.1 90.0L267.5 90.2L268.0 90.5L268.5 91.4L269.0 92.7L269.4 94.3L269.9 95.7L270.4 96.3L270.9 96.1L271.3 94.8L271.8 93.1L272.3 91.7L272.8 90.6L273.2 89.8L273.7 89.1L274.2 88.8L274.7 88.3L275.1 88.0L275.6 88.0L276.1 87.9L276.6 88.1L277.0 88.5L277.5 88.7L278.0 88.8L278.5 89.0L278.9 89.0L279.4 89.0L279.9 88.8L280.4 88.5L280.8 88.1L281.3 88.0L281.8 87.9L282.3 88.2L282.7 88.5L283.2 88.9L283.7 89.2L284.2 89.5L284.6 89.7L285.1 89.8L285.6 89.8L286.1 89.9L286.5 89.8L287.0 89.6L287.5 89.4L288.0 89.3L288.4 88.8L288.9 88.3L289.4 87.3L289.9 85.9L290.3 84.1L290.8 82.2L291.3 80.5L291.8 79.4L292.2 79.0L292.7 79.5L293.2 80.9L293.7 82.5L294.1 84.4L294.6 86.1L295.1 87.2L295.6 87.9L296.0 87.8L296.5 87.4L297.0 87.1L297.5 87.1L297.9 87.7L298.4 88.2L298.9 88.9L299.4 89.2L299.8 89.5L300.3 89.6L300.8 89.9L301.3 90.4L301.7 91.2L302.2 92.5L302.7 94.0L303.2 95.1L303.6 95.8L304.1 95.3L304.6 94.2L305.1 92.7L305.5 91.4L306.0 90.3L306.5 89.7L307.0 89.3L307.4 89.1L307.9 88.8L308.4 88.5L308.9 88.1L309.3 87.9L309.8 87.7L310.3 87.8L310.8 87.9L311.2 88.2L311.7 88.5L312.2 88.9L312.7 89.1L313.1 89.3L313.6 89.3L314.1 89.1L314.6 89.0L315.0 88.8L315.5 88.7L316.0 88.5L316.5 88.7L316.9 89.0L317.4 89.2L317.9 89.6L318.4 89.7L318.9 89.7L319.3 89.8L319.8 89.9L320.3 89.8L320.8 89.6L321.2 89.8L321.7 89.7L322.2 89.6L322.7 89.5L323.1 89.6L323.6 89.6L324.1 89.4L324.6 89.0L325.0 88.7L325.5 88.0L326.0 86.9L326.5 85.3L326.9 83.4L327.4 81.1L327.9 78.8L328.4 77.0L328.8 76.2L329.3 76.7L329.8 78.1L330.3 80.2L330.7 82.5L331.2 84.8L331.7 86.5L332.2 88.0L332.6 88.8L333.1 88.9L333.6 88.6L334.1 87.8L334.5 87.2L335.0 87.0L335.5 87.4L336.0 88.2L336.4 89.0L336.9 89.3L337.4 89.7L337.9 90.2L338.3 90.8L338.8 91.7L339.3 93.0L339.8 94.1L340.2 94.8L340.7 94.8L341.2 94.1L341.7 93.0L342.1 91.8L342.6 90.8L343.1 90.1L343.6 89.7L344.0 89.3L344.5 89.0L345.0 88.6L345.5 88.2L345.9 88.1L346.4 88.1L346.9 88.1L347.4 88.3L347.8 88.7L348.3 89.0L348.8 89.2L349.3 89.3L349.7 89.5L350.2 89.3L350.7 88.9L351.2 88.6L351.6 88.3L352.1 88.2L352.6 88.5L353.1 88.9L353.5 89.2L354.0 89.4L354.5 89.4L355.0 89.5L355.4 89.5L355.9 89.5L356.4 89.4L356.9 89.4L357.3 89.3L357.8 89.1L358.3 88.5L358.8 87.6L359.2 86.3L359.7 84.4L360.2 82.5L360.7 80.4L361.1 78.9L361.6 78.0L362.1 78.2L362.6 79.2L363.0 80.9L363.5 83.1L364.0 85.1L364.5 86.5L364.9 87.1L365.4 87.4L365.9 86.9L366.4 86.6L366.8 86.8L367.3 87.4L367.8 88.1L368.3 88.8L368.7 89.3L369.2 89.5L369.7 89.4L370.2 89.6L370.6 89.7L371.1 89.7L371.6 89.8L372.1 90.1L372.5 90.8L373.0 91.5L373.5 92.8L374.0 93.8L374.4 94.6L374.9 94.5L375.4 93.8L375.9 92.6L376.3 91.3L376.8 90.3L377.3 89.4L377.8 88.9L378.3 88.4L378.7 88.1L379.2 88.0L379.7 88.2L380.2 88.4L380.6 88.8L381.1 89.2L381.6 89.5L382.1 89.7L382.5 89.8L383.0 89.8L383.5 89.6L384.0 89.4L384.4 89.0L384.9 88.6L385.4 88.4L385.9 88.3L386.3 88.6L386.8 88.7L387.3 89.0L387.8 89.2L388.2 89.4L388.7 89.4L389.2 89.5L389.7 89.6L390.1 89.6L390.6 89.7L391.1 89.6L391.6 89.2L392.0 88.9L392.5 88.3L393.0 87.3L393.5 85.8L393.9 84.1L394.4 82.3L394.9 80.8L395.4 79.9L395.8 79.7L396.3 80.4L396.8 81.9L397.3 83.6L397.7 85.2L398.2 86.7L398.7 87.2L399.2 87.5L399.6 87.3L400.1 87.0L400.6 87.3L401.1 87.9L401.5 88.6L402.0 89.4L402.5 89.7L403.0 89.8L403.4 89.8L403.9 90.0L404.4 90.3L404.9 91.2L405.3 92.3L405.8 93.8L406.3 95.4L406.8 96.3L407.2 96.2L407.7 95.1L408.2 93.6L408.7 91.9L409.1 90.8L409.6 90.0L410.1 89.3L410.6 89.1L411.0 88.8L411.5 88.5L412.0 88.3L412.5 88.2L412.9 88.3L413.4 88.3L413.9 88.7L414.4 89.0L414.8 89.1L415.3 89.1L415.8 89.3L416.3 89.1L416.7 88.8L417.2 88.5L417.7 88.4L418.2 88.1L418.6 88.2L419.1 88.5L419.6 88.9L420.1 89.1L420.5 89.4L421.0 89.6L421.5 89.6L422.0 89.6L422.4 89.6L422.9 89.7L423.4 89.7L423.9 89.6L424.3 89.6L424.8 89.7L425.3 89.7L425.8 89.7L426.2 89.6L426.7 89.3L427.2 88.7L427.7 87.6L428.1 86.1L428.6 84.1L429.1 82.0L429.6 79.7L430.0 77.9L430.5 77.1L431.0 77.5L431.5 78.8L431.9 80.6L432.4 82.8L432.9 84.4L433.4 85.5L433.8 85.8L434.3 85.9L434.8 86.3L435.3 87.1L435.7 88.1L436.2 88.8L436.7 89.3L437.2 89.6L437.7 89.8L438.1 90.2L438.6 90.8L439.1 91.9L439.6 93.4L440.0 94.7L440.5 95.6L441.0 95.8L441.5 95.0L441.9 93.6L442.4 92.2L442.9 91.1L443.4 90.4L443.8 89.9L444.3 89.6L444.8 89.5L445.3 89.5L445.7 89.2L446.2 88.8L446.7 88.6L447.2 88.4L447.6 88.2L448.1 88.2L448.6 88.4L449.1 88.8L449.5 89.1L450.0 89.3L450.5 89.4L451.0 89.4L451.4 89.3L451.9 88.9L452.4 88.5L452.9 88.2L453.3 88.1L453.8 88.2L454.3 88.3L454.8 88.6L455.2 89.0L455.7 89.3L456.2 89.3L456.7 89.4L457.1 89.5L457.6 89.5L458.1 89.5L458.6 89.7L459.0 89.7L459.5 89.7L460.0 89.6L460.5 89.6L460.9 89.5L461.4 89.2L461.9 88.8L462.4 88.0L462.8 86.8L463.3 85.1L463.8 82.9L464.3 80.7L464.7 78.6L465.2 77.3L465.7 77.0L466.2 77.8L466.6 79.7L467.1 82.0L467.6 84.3L468.1 86.1L468.5 87.5L469.0 88.3L469.5 88.2L470.0 87.9L470.4 87.5L470.9 87.4L471.4 87.6L471.9 88.2L472.3 89.0L472.8 89.6L473.3 89.9L473.8 90.4L474.2 91.2L474.7 92.2L475.2 93.4L475.7 94.9L476.1 95.9L476.6 96.2L477.1 95.4L477.6 93.9L478.0 92.5L478.5 91.1L479.0 90.1L479.5 89.4L479.9 89.1L480.4 88.5L480.9 88.1L481.4 87.7L481.8 87.4L482.3 87.2L482.8 87.5L483.3 87.9L483.7 88.4L484.2 88.9L484.7 89.2L485.2 89.3L485.6 89.6L486.1 89.4L486.6 89.1L487.1 89.0L487.5 88.8L488.0 88.4L488.5 88.4L489.0 88.5L489.4 88.8L489.9 89.0L490.4 89.2L490.9 89.3L491.3 89.4L491.8 89.6L492.3 89.6L492.8 89.8L493.2 89.8L493.7 89.8L494.2 89.7L494.7 89.7L495.1 89.7L495.6 89.7L496.1 89.7L496.6 89.7L497.1 89.7L497.5 89.8L498.0 89.7L498.5 89.6L499.0 89.6L499.4 89.4L499.9 89.4L500.4 88.8L500.9 88.2L501.3 87.1L501.8 85.4L502.3 83.6L502.8 82.0L503.2 80.6L503.7 79.8L504.2 79.9L504.7 80.9L505.1 82.4L505.6 83.9L506.1 85.4L506.6 86.3L507.0 86.4L507.5 86.3L508.0 86.4L508.5 86.9L508.9 87.8L509.4 88.7L509.9 89.3L510.4 89.5L510.8 89.7L511.3 89.8L511.8 90.2L512.3 91.0L512.7 92.2L513.2 93.7L513.7 95.0L514.2 95.6L514.6 95.4L515.1 94.3L515.6 93.0L516.1 91.8L516.5 90.9L517.0 90.4L517.5 90.0L518.0 89.7L518.4 89.5L518.9 88.9L519.4 88.7L519.9 88.4L520.3 88.1L520.8 88.1L521.3 88.2L521.8 88.5L522.2 89.0L522.7 89.5L523.2 89.7L523.7 89.7L524.1 89.7L524.6 89.5L525.1 89.0L525.6 88.6L526.0 88.3L526.5 88.1L527.0 88.1L527.5 88.3L527.9 88.7L528.4 89.0L528.9 89.3L529.4 89.4L529.8 89.5L530.3 89.6L530.8 89.4L531.3 89.4L531.7 89.3L532.2 89.3L532.7 89.2L533.2 89.5L533.6 89.6L534.1 89.6L534.6 89.4L535.1 89.4L535.5 88.7L536.0 87.8L536.5 86.5L537.0 85.0L537.4 83.2L537.9 81.4L538.4 80.1L538.9 79.4L539.3 79.8L539.8 80.8L540.3 82.2L540.8 83.4L541.2 84.5L541.7 84.8L542.2 85.1L542.7 85.6L543.1 86.5L543.6 87.6L544.1 88.6L544.6 89.2L545.0 89.4L545.5 89.7L546.0 89.8L546.5 90.0L546.9 90.2L547.4 90.7L547.9 91.4L548.4 92.5L548.8 93.6L549.3 94.2L549.8 94.3L550.3 93.7L550.7 92.7L551.2 91.6L551.7 90.7L552.2 90.1L552.6 89.7L553.1 89.3L553.6 89.0L554.1 88.7L554.5 88.4L555.0 88.2L555.5 88.2L556.0 88.3L556.5 88.6L556.9 89.0L557.4 89.4L557.9 89.5L558.4 89.5L558.8 89.6L559.3 89.3L559.8 89.1L560.3 88.8L560.7 88.7L561.2 88.5L561.7 88.6L562.2 88.7L562.6 89.1L563.1 89.3L563.6 89.4L564.1 89.5L564.5 89.5L565.0 89.6L565.5 89.6L566.0 89.7L566.4 89.7L566.9 89.8L567.4 89.8L567.9 89.9L568.3 90.0L568.8 90.0L569.3 89.9L569.8 89.7L570.2 89.6L570.7 89.6L571.2 89.4L571.7 89.4L572.1 89.5L572.6 89.6L573.1 89.7L573.6 89.5L574.0 89.4L574.5 89.3L575.0 88.9L575.5 88.3L575.9 87.3L576.4 86.2L576.9 85.1L577.4 84.6L577.8 85.3L578.3 86.7L578.8 87.8L579.3 88.4L579.7 88.7L580.2 87.8L580.7 86.8L581.2 85.6L581.6 85.2L582.1 85.6L582.6 86.7L583.1 87.9L583.5 88.8L584.0 89.2L584.5 89.4L585.0 89.5L585.4 89.5L585.9 89.5L586.4 89.1L586.9 89.1L587.3 89.1L587.8 89.1L588.3 89.2L588.8 89.3L589.2 89.5L589.7 89.4L590.2 89.4L590.7 89.3L591.1 89.3L591.6 89.1L592.1 89.0L592.6 88.9L593.0 88.9L593.5 88.9L594.0 88.8L594.5 88.8L594.9 88.8L595.4 88.7L595.9 88.7L596.4 88.7L596.8 88.6L597.3 88.6L597.8 88.5L598.3 88.5L598.7 88.5L599.2 88.4L599.7 88.4L600.2 88.4L600.6 88.3L601.1 88.3L601.6 88.3L602.1 88.2L602.5 88.2L603.0 88.2L603.5 88.1L604.0 88.1L604.4 88.1L604.9 88.0L605.4 88.0L605.9 87.9L606.3 87.9L606.8 87.9L607.3 87.8L607.8 87.8L608.2 87.8L608.7 87.7L609.2 87.7L609.7 87.7L610.1 87.6L610.6 87.6L611.1 87.6L611.6 87.5L612.0 87.5L612.5 87.5L613.0 87.4L613.5 87.4L613.9 87.3L614.4 87.3L614.9 87.3L615.4 87.2L615.9 87.2L616.3 87.2L616.8 87.1L617.3 87.1L617.8 87.1L618.2 87.0L618.7 87.0L619.2 87.0L619.7 86.9L620.1 86.9L620.6 86.9L621.1 86.8L621.6 86.8L622.0 86.7L622.5 86.7L623.0 86.7L623.5 86.6L623.9 86.6L624.4 86.6L624.9 86.5L625.4 86.5L625.8 86.5L626.3 86.4L626.8 86.4L627.3 86.4L627.7 86.3" stroke="#8c564b"/></g>
<rect x="177.4" y="42.5" width="471.9" height="121.8" fill="none" stroke="#222" stroke-width="1"/>
<line x1="173.9" y1="55.0" x2="177.4" y2="55.0" stroke="#222" stroke-width="1"/>
<text font-size="10" text-anchor="end" fill="#222" transform="translate(168.6 58.6) scale(0.85 1)">10</text>
<line x1="173.9" y1="92.3" x2="177.4" y2="92.3" stroke="#222" stroke-width="1"/>
<text font-size="10" text-anchor="end" fill="#222" transform="translate(168.6 95.9) scale(0.85 1)">0</text>
<line x1="173.9" y1="129.6" x2="177.4" y2="129.6" stroke="#222" stroke-width="1"/>
<text font-size="10" text-anchor="end" fill="#222" transform="translate(168.6 133.2) scale(0.85 1)">−10</text>
<line x1="199.1" y1="164.3" x2="199.1" y2="167.8" stroke="#222" stroke-width="1"/>
<text font-size="10.5" text-anchor="middle" fill="#222" transform="translate(199.1 180.3) scale(0.86 1)">0</text>
<line x1="218.1" y1="164.3" x2="218.1" y2="167.8" stroke="#222" stroke-width="1"/>
<text font-size="10.5" text-anchor="middle" fill="#222" transform="translate(218.1 180.3) scale(0.86 1)">80</text>
<line x1="237.1" y1="164.3" x2="237.1" y2="167.8" stroke="#222" stroke-width="1"/>
<text font-size="10.5" text-anchor="middle" fill="#222" transform="translate(237.1 180.3) scale(0.86 1)">160</text>
<line x1="256.1" y1="164.3" x2="256.1" y2="167.8" stroke="#222" stroke-width="1"/>
<text font-size="10.5" text-anchor="middle" fill="#222" transform="translate(256.1 180.3) scale(0.86 1)">240</text>
<line x1="275.1" y1="164.3" x2="275.1" y2="167.8" stroke="#222" stroke-width="1"/>
<text font-size="10.5" text-anchor="middle" fill="#222" transform="translate(275.1 180.3) scale(0.86 1)">320</text>
<line x1="294.1" y1="164.3" x2="294.1" y2="167.8" stroke="#222" stroke-width="1"/>
<text font-size="10.5" text-anchor="middle" fill="#222" transform="translate(294.1 180.3) scale(0.86 1)">400</text>
<line x1="313.1" y1="164.3" x2="313.1" y2="167.8" stroke="#222" stroke-width="1"/>
<text font-size="10.5" text-anchor="middle" fill="#222" transform="translate(313.1 180.3) scale(0.86 1)">480</text>
<line x1="332.2" y1="164.3" x2="332.2" y2="167.8" stroke="#222" stroke-width="1"/>
<text font-size="10.5" text-anchor="middle" fill="#222" transform="translate(332.2 180.3) scale(0.86 1)">560</text>
<line x1="351.2" y1="164.3" x2="351.2" y2="167.8" stroke="#222" stroke-width="1"/>
<text font-size="10.5" text-anchor="middle" fill="#222" transform="translate(351.2 180.3) scale(0.86 1)">640</text>
<line x1="370.2" y1="164.3" x2="370.2" y2="167.8" stroke="#222" stroke-width="1"/>
<text font-size="10.5" text-anchor="middle" fill="#222" transform="translate(370.2 180.3) scale(0.86 1)">720</text>
<line x1="389.2" y1="164.3" x2="389.2" y2="167.8" stroke="#222" stroke-width="1"/>
<text font-size="10.5" text-anchor="middle" fill="#222" transform="translate(389.2 180.3) scale(0.86 1)">800</text>
<line x1="408.2" y1="164.3" x2="408.2" y2="167.8" stroke="#222" stroke-width="1"/>
<text font-size="10.5" text-anchor="middle" fill="#222" transform="translate(408.2 180.3) scale(0.86 1)">880</text>
<line x1="427.2" y1="164.3" x2="427.2" y2="167.8" stroke="#222" stroke-width="1"/>
<text font-size="10.5" text-anchor="middle" fill="#222" transform="translate(427.2 180.3) scale(0.86 1)">960</text>
<line x1="446.2" y1="164.3" x2="446.2" y2="167.8" stroke="#222" stroke-width="1"/>
<text font-size="10.5" text-anchor="middle" fill="#222" transform="translate(446.2 180.3) scale(0.86 1)">1040</text>
<line x1="465.2" y1="164.3" x2="465.2" y2="167.8" stroke="#222" stroke-width="1"/>
<text font-size="10.5" text-anchor="middle" fill="#222" transform="translate(465.2 180.3) scale(0.86 1)">1120</text>
<line x1="484.2" y1="164.3" x2="484.2" y2="167.8" stroke="#222" stroke-width="1"/>
<text font-size="10.5" text-anchor="middle" fill="#222" transform="translate(484.2 180.3) scale(0.86 1)">1200</text>
<line x1="503.2" y1="164.3" x2="503.2" y2="167.8" stroke="#222" stroke-width="1"/>
<text font-size="10.5" text-anchor="middle" fill="#222" transform="translate(503.2 180.3) scale(0.86 1)">1280</text>
<line x1="522.2" y1="164.3" x2="522.2" y2="167.8" stroke="#222" stroke-width="1"/>
<text font-size="10.5" text-anchor="middle" fill="#222" transform="translate(522.2 180.3) scale(0.86 1)">1360</text>
<line x1="541.2" y1="164.3" x2="541.2" y2="167.8" stroke="#222" stroke-width="1"/>
<text font-size="10.5" text-anchor="middle" fill="#222" transform="translate(541.2 180.3) scale(0.86 1)">1440</text>
<line x1="560.3" y1="164.3" x2="560.3" y2="167.8" stroke="#222" stroke-width="1"/>
<text font-size="10.5" text-anchor="middle" fill="#222" transform="translate(560.3 180.3) scale(0.86 1)">1520</text>
<line x1="579.3" y1="164.3" x2="579.3" y2="167.8" stroke="#222" stroke-width="1"/>
<text font-size="10.5" text-anchor="middle" fill="#222" transform="translate(579.3 180.3) scale(0.86 1)">1600</text>
<line x1="598.3" y1="164.3" x2="598.3" y2="167.8" stroke="#222" stroke-width="1"/>
<text font-size="10.5" text-anchor="middle" fill="#222" transform="translate(598.3 180.3) scale(0.86 1)">1680</text>
<line x1="617.3" y1="164.3" x2="617.3" y2="167.8" stroke="#222" stroke-width="1"/>
<text font-size="10.5" text-anchor="middle" fill="#222" transform="translate(617.3 180.3) scale(0.86 1)">1760</text>
<text font-size="11.3" text-anchor="middle" textLength="27.3" lengthAdjust="spacingAndGlyphs" fill="#222" transform="translate(148.3 103.5) rotate(-90)">m/s^2</text>
<rect x="655" y="47.7" width="82.8" height="92.6" rx="2" fill="#fff" stroke="#d9d9d9" stroke-width="1"/>
<line x1="658.2" y1="56.7" x2="681.3" y2="56.7" stroke="#1f77b4" stroke-width="1.6"/>
<text x="690" y="60.5" font-family='"Liberation Mono", monospace' font-size="11" textLength="42" lengthAdjust="spacingAndGlyphs" fill="#222">f_acc_rx</text>
<line x1="658.2" y1="71.4" x2="681.3" y2="71.4" stroke="#ff7f0e" stroke-width="1.6"/>
<text x="690" y="75.2" font-family='"Liberation Mono", monospace' font-size="11" textLength="42" lengthAdjust="spacingAndGlyphs" fill="#222">f_acc_ry</text>
<line x1="658.2" y1="86.1" x2="681.3" y2="86.1" stroke="#2ca02c" stroke-width="1.6"/>
<text x="690" y="89.9" font-family='"Liberation Mono", monospace' font-size="11" textLength="42" lengthAdjust="spacingAndGlyphs" fill="#222">f_acc_rz</text>
<line x1="658.2" y1="100.8" x2="681.3" y2="100.8" stroke="#d62728" stroke-width="1.6"/>
<text x="690" y="104.6" font-family='"Liberation Mono", monospace' font-size="11" textLength="42" lengthAdjust="spacingAndGlyphs" fill="#222">f_acc_lx</text>
<line x1="658.2" y1="115.5" x2="681.3" y2="115.5" stroke="#9467bd" stroke-width="1.6"/>
<text x="690" y="119.3" font-family='"Liberation Mono", monospace' font-size="11" textLength="42" lengthAdjust="spacingAndGlyphs" fill="#222">f_acc_ly</text>
<line x1="658.2" y1="130.2" x2="681.3" y2="130.2" stroke="#8c564b" stroke-width="1.6"/>
<text x="690" y="134.0" font-family='"Liberation Mono", monospace' font-size="11" textLength="42" lengthAdjust="spacingAndGlyphs" fill="#222">f_acc_lz</text>
<g fill="none" stroke-width="1.6" stroke-linejoin="round"><path d="M199.1 252.3L199.6 252.3L200.1 252.3L200.5 252.3L201.0 252.3L201.5 252.3L202.0 252.3L202.4 252.3L202.9 252.3L203.4 252.3L203.9 252.3L204.3 252.3L204.8 252.3L205.3 252.3L205.8 252.3L206.2 252.3L206.7 252.3L207.2 252.3L207.7 252.3L208.1 252.3L208.6 252.3L209.1 252.3L209.6 252.3L210.0 252.3L210.5 252.3L211.0 252.3L211.5 252.3L211.9 252.3L212.4 252.3L212.9 252.3L213.4 252.3L213.8 252.3L214.3 252.3L214.8 252.3L215.3 252.3L215.7 252.3L216.2 252.3L216.7 252.3L217.2 252.3L217.6 252.3L218.1 252.3L218.6 252.3L219.1 252.3L219.5 252.3L220.0 252.3L220.5 252.3L221.0 252.3L221.4 252.3L221.9 252.3L222.4 252.3L222.9 252.3L223.3 252.3L223.8 252.3L224.3 252.3L224.8 252.3L225.2 252.3L225.7 252.3L226.2 252.3L226.7 252.3L227.1 252.3L227.6 252.3L228.1 252.3L228.6 252.3L229.0 252.3L229.5 252.3L230.0 252.3L230.5 252.3L230.9 252.3L231.4 252.3L231.9 252.3L232.4 252.3L232.8 252.3L233.3 252.3L233.8 252.3L234.3 252.3L234.7 252.3L235.2 252.3L235.7 252.3L236.2 252.0L236.6 252.2L237.1 252.1L237.6 252.3L238.1 252.4L238.5 252.8L239.0 252.6L239.5 252.3L240.0 251.6L240.4 250.5L240.9 248.8L241.4 247.6L241.9 247.6L242.3 248.5L242.8 249.9L243.3 251.0L243.8 251.9L244.2 252.4L244.7 253.1L245.2 253.5L245.7 254.5L246.1 255.4L246.6 256.1L247.1 255.5L247.6 253.9L248.0 251.7L248.5 249.4L249.0 247.2L249.5 246.4L249.9 246.8L250.4 248.4L250.9 250.1L251.4 251.0L251.8 251.8L252.3 252.2L252.8 252.3L253.3 252.3L253.7 252.5L254.2 252.5L254.7 252.4L255.2 252.3L255.6 252.2L256.1 252.4L256.6 252.3L257.1 252.5L257.5 252.3L258.0 252.1L258.5 252.2L259.0 252.0L259.5 251.9L259.9 251.8L260.4 252.0L260.9 252.0L261.4 252.2L261.8 252.4L262.3 252.3L262.8 252.5L263.3 252.4L263.7 252.9L264.2 254.0L264.7 255.4L265.2 257.0L265.6 258.2L266.1 259.0L266.6 258.5L267.1 256.9L267.5 255.5L268.0 254.1L268.5 253.1L269.0 252.5L269.4 252.3L269.9 252.1L270.4 252.2L270.9 252.3L271.3 252.3L271.8 252.1L272.3 252.4L272.8 252.1L273.2 251.8L273.7 250.9L274.2 249.1L274.7 246.3L275.1 243.8L275.6 242.9L276.1 243.8L276.6 246.2L277.0 248.8L277.5 250.7L278.0 251.8L278.5 252.4L278.9 253.4L279.4 255.2L279.9 257.3L280.4 258.9L280.8 259.1L281.3 257.3L281.8 253.7L282.3 249.8L282.7 246.8L283.2 245.4L283.7 246.2L284.2 247.9L284.6 249.6L285.1 251.0L285.6 251.9L286.1 252.2L286.5 252.2L287.0 252.0L287.5 252.1L288.0 252.1L288.4 252.0L288.9 251.8L289.4 251.9L289.9 252.2L290.3 252.1L290.8 252.1L291.3 251.9L291.8 252.0L292.2 251.9L292.7 251.7L293.2 251.7L293.7 251.9L294.1 251.8L294.6 251.7L295.1 251.8L295.6 252.1L296.0 252.2L296.5 252.6L297.0 253.1L297.5 253.8L297.9 255.1L298.4 256.6L298.9 257.8L299.4 258.8L299.8 258.8L300.3 258.0L300.8 256.3L301.3 254.9L301.7 254.0L302.2 253.1L302.7 252.7L303.2 252.3L303.6 252.2L304.1 252.1L304.6 252.1L305.1 252.3L305.5 252.4L306.0 252.3L306.5 252.3L307.0 251.7L307.4 250.7L307.9 248.9L308.4 246.2L308.9 244.0L309.3 243.1L309.8 244.1L310.3 246.5L310.8 249.1L311.2 251.0L311.7 252.0L312.2 253.0L312.7 254.1L313.1 255.5L313.6 257.4L314.1 259.0L314.6 258.8L315.0 257.5L315.5 255.7L316.0 254.3L316.5 253.2L316.9 252.5L317.4 252.5L317.9 252.5L318.4 252.2L318.9 251.7L319.3 250.8L319.8 249.2L320.3 247.3L320.8 245.8L321.2 245.9L321.7 247.1L322.2 249.1L322.7 250.8L323.1 251.8L323.6 252.3L324.1 252.2L324.6 252.1L325.0 252.2L325.5 252.1L326.0 252.2L326.5 252.2L326.9 252.1L327.4 252.2L327.9 252.2L328.4 252.1L328.8 252.2L329.3 252.1L329.8 252.2L330.3 252.2L330.7 252.1L331.2 252.2L331.7 252.2L332.2 252.0L332.6 252.0L333.1 252.1L333.6 252.6L334.1 253.0L334.5 253.7L335.0 254.8L335.5 255.9L336.0 256.7L336.4 257.0L336.9 256.7L337.4 255.8L337.9 254.9L338.3 253.9L338.8 253.4L339.3 253.0L339.8 252.8L340.2 252.5L340.7 252.5L341.2 252.3L341.7 252.1L342.1 252.2L342.6 252.2L343.1 252.2L343.6 251.9L344.0 251.5L344.5 250.1L345.0 247.9L345.5 244.9L345.9 242.9L346.4 242.7L346.9 244.6L347.4 247.2L347.8 249.8L348.3 251.1L348.8 252.1L349.3 252.4L349.7 253.4L350.2 254.8L350.7 256.7L351.2 258.6L351.6 258.8L352.1 257.2L352.6 253.7L353.1 250.2L353.5 248.0L354.0 247.7L354.5 248.6L355.0 250.0L355.4 251.0L355.9 251.8L356.4 252.1L356.9 252.4L357.3 252.4L357.8 252.4L358.3 252.4L358.8 252.5L359.2 252.7L359.7 252.6L360.2 252.6L360.7 252.6L361.1 252.3L361.6 252.2L362.1 252.3L362.6 252.2L363.0 252.2L363.5 252.4L364.0 252.5L364.5 252.5L364.9 252.6L365.4 252.7L365.9 252.7L366.4 252.6L366.8 252.6L367.3 253.1L367.8 253.7L368.3 254.6L368.7 255.9L369.2 257.1L369.7 257.3L370.2 257.0L370.6 256.0L371.1 255.1L371.6 253.8L372.1 253.1L372.5 253.0L373.0 252.6L373.5 252.6L374.0 252.5L374.4 252.6L374.9 252.4L375.4 252.6L375.9 252.4L376.3 252.2L376.8 251.8L377.3 250.7L377.8 248.6L378.3 245.9L378.7 243.9L379.2 243.4L379.7 244.5L380.2 247.0L380.6 249.5L381.1 251.2L381.6 251.9L382.1 252.7L382.5 253.6L383.0 255.1L383.5 257.4L384.0 259.2L384.4 260.5L384.9 259.5L385.4 256.9L385.9 253.6L386.3 250.4L386.8 247.5L387.3 245.6L387.8 245.6L388.2 246.9L388.7 249.1L389.2 250.9L389.7 252.0L390.1 252.4L390.6 252.7L391.1 252.5L391.6 252.4L392.0 252.4L392.5 252.2L393.0 252.2L393.5 252.2L393.9 252.3L394.4 252.3L394.9 252.3L395.4 252.1L395.8 252.0L396.3 252.2L396.8 252.2L397.3 252.3L397.7 252.4L398.2 252.5L398.7 252.3L399.2 252.2L399.6 252.3L400.1 252.1L400.6 252.6L401.1 253.0L401.5 254.2L402.0 255.7L402.5 256.9L403.0 257.9L403.4 258.3L403.9 257.7L404.4 256.4L404.9 255.0L405.3 253.9L405.8 253.1L406.3 252.8L406.8 252.3L407.2 252.3L407.7 252.4L408.2 252.4L408.7 252.3L409.1 252.3L409.6 252.3L410.1 252.3L410.6 252.1L411.0 251.5L411.5 250.6L412.0 248.5L412.5 245.6L412.9 242.9L413.4 241.8L413.9 242.8L414.4 245.2L414.8 248.2L415.3 250.6L415.8 252.1L416.3 253.6L416.7 254.9L417.2 256.7L417.7 258.3L418.2 258.7L418.6 257.6L419.1 255.7L419.6 253.1L420.1 250.3L420.5 247.8L421.0 245.7L421.5 244.9L422.0 245.6L422.4 247.9L422.9 250.2L423.4 251.3L423.9 252.1L424.3 252.3L424.8 252.4L425.3 252.3L425.8 252.4L426.2 252.2L426.7 252.4L427.2 252.5L427.7 252.5L428.1 252.4L428.6 252.5L429.1 252.4L429.6 252.6L430.0 252.4L430.5 252.5L431.0 252.5L431.5 252.4L431.9 252.3L432.4 252.4L432.9 252.1L433.4 252.0L433.8 252.1L434.3 252.4L434.8 252.6L435.3 253.2L435.7 254.3L436.2 255.4L436.7 257.0L437.2 258.3L437.7 258.7L438.1 258.2L438.6 256.9L439.1 255.5L439.6 254.1L440.0 253.2L440.5 252.5L441.0 252.1L441.5 252.1L441.9 252.2L442.4 252.0L442.9 251.9L443.4 252.0L443.8 252.0L444.3 251.5L444.8 251.0L445.3 249.9L445.7 247.6L446.2 245.2L446.7 243.7L447.2 244.2L447.6 246.0L448.1 248.4L448.6 250.4L449.1 251.6L449.5 252.1L450.0 252.5L450.5 253.2L451.0 254.2L451.4 256.0L451.9 257.5L452.4 258.4L452.9 257.8L453.3 256.1L453.8 254.4L454.3 252.9L454.8 251.5L455.2 250.4L455.7 248.8L456.2 247.4L456.7 246.7L457.1 247.2L457.6 248.7L458.1 250.4L458.6 251.5L459.0 252.0L459.5 252.3L460.0 252.6L460.5 252.5L460.9 252.5L461.4 252.5L461.9 252.4L462.4 252.3L462.8 252.3L463.3 252.1L463.8 252.1L464.3 252.3L464.7 252.5L465.2 252.4L465.7 252.3L466.2 252.5L466.6 252.3L467.1 252.1L467.6 252.3L468.1 252.2L468.5 252.1L469.0 252.3L469.5 252.1L470.0 252.5L470.4 252.9L470.9 253.9L471.4 255.0L471.9 256.6L472.3 257.7L472.8 258.2L473.3 257.8L473.8 256.5L474.2 255.3L474.7 254.1L475.2 253.2L475.7 252.5L476.1 252.5L476.6 252.1L477.1 252.2L477.6 252.2L478.0 252.3L478.5 252.3L479.0 252.1L479.5 252.1L479.9 252.0L480.4 251.3L480.9 249.7L481.4 247.3L481.8 244.1L482.3 241.3L482.8 240.5L483.3 242.4L483.7 245.7L484.2 248.9L484.7 251.1L485.2 252.7L485.6 254.3L486.1 256.1L486.6 258.1L487.1 259.7L487.5 260.2L488.0 258.6L488.5 256.5L489.0 254.5L489.4 253.3L489.9 252.6L490.4 252.3L490.9 252.3L491.3 252.1L491.8 252.2L492.3 252.2L492.8 251.5L493.2 250.5L493.7 248.9L494.2 247.1L494.7 245.9L495.1 245.6L495.6 247.1L496.1 248.8L496.6 250.4L497.1 251.3L497.5 251.9L498.0 252.1L498.5 252.1L499.0 252.4L499.4 252.5L499.9 252.4L500.4 252.4L500.9 252.4L501.3 252.2L501.8 252.1L502.3 252.0L502.8 251.7L503.2 251.8L503.7 252.1L504.2 252.1L504.7 252.1L505.1 252.1L505.6 252.2L506.1 252.1L506.6 252.0L507.0 252.0L507.5 252.0L508.0 252.5L508.5 253.0L508.9 253.9L509.4 255.0L509.9 256.5L510.4 257.3L510.8 257.3L511.3 256.5L511.8 255.4L512.3 254.2L512.7 253.2L513.2 252.6L513.7 252.4L514.2 252.4L514.6 252.3L515.1 252.3L515.6 252.2L516.1 252.3L516.5 252.3L517.0 252.2L517.5 252.1L518.0 251.7L518.4 250.4L518.9 247.7L519.4 244.5L519.9 241.9L520.3 240.8L520.8 242.3L521.3 245.5L521.8 248.6L522.2 250.7L522.7 252.0L523.2 252.7L523.7 254.4L524.1 256.4L524.6 258.9L525.1 260.4L525.6 260.3L526.0 258.5L526.5 255.6L527.0 253.3L527.5 251.0L527.9 248.7L528.4 246.7L528.9 246.0L529.4 246.5L529.8 248.1L530.3 249.8L530.8 251.3L531.3 252.3L531.7 252.5L532.2 252.5L532.7 252.5L533.2 252.4L533.6 252.4L534.1 252.3L534.6 252.4L535.1 252.4L535.5 252.5L536.0 252.6L536.5 252.9L537.0 252.8L537.4 252.8L537.9 252.9L538.4 252.7L538.9 252.7L539.3 252.6L539.8 252.7L540.3 252.8L540.8 252.8L541.2 252.7L541.7 252.6L542.2 252.7L542.7 252.5L543.1 252.7L543.6 253.3L544.1 254.2L544.6 255.4L545.0 257.0L545.5 258.2L546.0 258.7L546.5 258.0L546.9 256.9L547.4 255.5L547.9 254.3L548.4 253.5L548.8 253.2L549.3 252.8L549.8 252.6L550.3 252.7L550.7 252.7L551.2 252.6L551.7 252.5L552.2 252.3L552.6 251.9L553.1 250.9L553.6 249.1L554.1 246.4L554.5 243.8L555.0 242.4L555.5 242.9L556.0 245.1L556.5 248.1L556.9 250.2L557.4 251.3L557.9 252.1L558.4 252.8L558.8 254.1L559.3 256.1L559.8 258.4L560.3 260.1L560.7 260.4L561.2 258.8L561.7 256.5L562.2 254.8L562.6 253.7L563.1 252.9L563.6 252.5L564.1 252.5L564.5 252.5L565.0 252.2L565.5 252.1L566.0 252.1L566.4 252.1L566.9 252.1L567.4 252.2L567.9 252.2L568.3 252.4L568.8 252.6L569.3 252.7L569.8 252.7L570.2 252.7L570.7 252.4L571.2 252.3L571.7 252.2L572.1 251.9L572.6 252.0L573.1 252.1L573.6 252.2L574.0 252.3L574.5 252.2L575.0 252.4L575.5 252.6L575.9 252.4L576.4 252.5L576.9 252.5L577.4 252.5L577.8 252.4L578.3 252.4L578.8 252.3L579.3 252.4L579.7 252.5L580.2 252.6L580.7 252.6L581.2 252.5L581.6 252.5L582.1 252.3L582.6 252.3L583.1 252.0L583.5 252.1L584.0 252.1L584.5 251.9L585.0 251.9L585.4 251.9L585.9 252.1L586.4 251.9L586.9 251.9L587.3 252.1L587.8 252.0L588.3 252.0L588.8 252.4L589.2 252.4L589.7 252.6L590.2 252.8L590.7 252.6L591.1 252.4L591.6 252.4L592.1 252.3L592.6 252.3L593.0 252.3L593.5 252.3L594.0 252.3L594.5 252.3L594.9 252.3L595.4 252.3L595.9 252.3L596.4 252.3L596.8 252.3L597.3 252.3L597.8 252.3L598.3 252.3L598.7 252.3L599.2 252.3L599.7 252.3L600.2 252.3L600.6 252.3L601.1 252.3L601.6 252.3L602.1 252.3L602.5 252.3L603.0 252.3L603.5 252.3L604.0 252.3L604.4 252.3L604.9 252.3L605.4 252.3L605.9 252.3L606.3 252.3L606.8 252.3L607.3 252.3L607.8 252.3L608.2 252.3L608.7 252.3L609.2 252.3L609.7 252.3L610.1 252.3L610.6 252.3L611.1 252.3L611.6 252.3L612.0 252.3L612.5 252.3L613.0 252.3L613.5 252.3L613.9 252.3L614.4 252.3L614.9 252.3L615.4 252.3L615.9 252.3L616.3 252.3L616.8 252.3L617.3 252.3L617.8 252.3L618.2 252.3L618.7 252.3L619.2 252.3L619.7 252.3L620.1 252.3L620.6 252.3L621.1 252.3L621.6 252.3L622.0 252.3L622.5 252.3L623.0 252.3L623.5 252.3L623.9 252.3L624.4 252.3L624.9 252.3L625.4 252.3L625.8 252.3L626.3 252.3L626.8 252.3L627.3 252.3L627.7 252.3" stroke="#1f77b4"/>
<path d="M199.1 252.3L199.6 252.3L200.1 252.3L200.5 252.3L201.0 252.3L201.5 252.3L202.0 252.3L202.4 252.3L202.9 252.3L203.4 252.3L203.9 252.3L204.3 252.3L204.8 252.3L205.3 252.3L205.8 252.3L206.2 252.3L206.7 252.3L207.2 252.3L207.7 252.3L208.1 252.3L208.6 252.3L209.1 252.3L209.6 252.3L210.0 252.3L210.5 252.3L211.0 252.3L211.5 252.3L211.9 252.3L212.4 252.3L212.9 252.3L213.4 252.3L213.8 252.3L214.3 252.3L214.8 252.3L215.3 252.3L215.7 252.3L216.2 252.3L216.7 252.3L217.2 252.3L217.6 252.3L218.1 252.3L218.6 252.3L219.1 252.3L219.5 252.3L220.0 252.3L220.5 252.3L221.0 252.3L221.4 252.3L221.9 252.3L222.4 252.3L222.9 252.3L223.3 252.3L223.8 252.3L224.3 252.3L224.8 252.3L225.2 252.3L225.7 252.3L226.2 252.3L226.7 252.3L227.1 252.3L227.6 252.3L228.1 252.3L228.6 252.3L229.0 252.3L229.5 252.3L230.0 252.3L230.5 252.3L230.9 252.3L231.4 252.3L231.9 252.3L232.4 252.3L232.8 252.3L233.3 252.3L233.8 252.3L234.3 252.3L234.7 252.3L235.2 252.3L235.7 252.3L236.2 252.5L236.6 252.3L237.1 252.3L237.6 252.2L238.1 252.1L238.5 252.0L239.0 252.0L239.5 251.9L240.0 252.0L240.4 252.1L240.9 252.0L241.4 252.0L241.9 252.2L242.3 252.3L242.8 252.3L243.3 252.6L243.8 253.3L244.2 255.0L244.7 257.1L245.2 259.5L245.7 260.4L246.1 259.5L246.6 257.7L247.1 255.6L247.6 253.7L248.0 252.9L248.5 252.9L249.0 252.6L249.5 251.9L249.9 250.4L250.4 247.6L250.9 244.7L251.4 243.2L251.8 244.1L252.3 246.6L252.8 249.2L253.3 251.0L253.7 251.9L254.2 252.2L254.7 252.3L255.2 252.5L255.6 252.3L256.1 252.2L256.6 252.3L257.1 252.5L257.5 252.4L258.0 252.5L258.5 252.6L259.0 252.6L259.5 252.5L259.9 252.5L260.4 252.5L260.9 252.3L261.4 252.1L261.8 252.2L262.3 252.3L262.8 252.2L263.3 252.1L263.7 252.0L264.2 251.9L264.7 251.7L265.2 251.7L265.6 252.1L266.1 252.3L266.6 252.3L267.1 252.4L267.5 252.3L268.0 252.0L268.5 251.0L269.0 248.5L269.4 244.6L269.9 241.0L270.4 239.7L270.9 241.7L271.3 246.1L271.8 250.8L272.3 255.2L272.8 258.5L273.2 260.6L273.7 259.9L274.2 257.8L274.7 255.2L275.1 253.5L275.6 252.7L276.1 252.4L276.6 252.9L277.0 253.7L277.5 255.7L278.0 258.9L278.5 262.2L278.9 264.5L279.4 264.0L279.9 261.4L280.4 258.0L280.8 255.2L281.3 253.2L281.8 252.6L282.3 252.3L282.7 252.3L283.2 252.1L283.7 252.0L284.2 251.3L284.6 249.5L285.1 247.1L285.6 244.6L286.1 243.6L286.5 245.1L287.0 247.5L287.5 250.0L288.0 251.4L288.4 251.9L288.9 251.9L289.4 252.2L289.9 252.2L290.3 252.2L290.8 252.2L291.3 252.3L291.8 252.4L292.2 252.3L292.7 252.4L293.2 252.4L293.7 252.4L294.1 252.5L294.6 252.3L295.1 252.3L295.6 252.4L296.0 252.3L296.5 252.3L297.0 252.4L297.5 252.3L297.9 252.2L298.4 252.2L298.9 252.3L299.4 252.1L299.8 252.2L300.3 252.2L300.8 252.4L301.3 252.3L301.7 252.4L302.2 251.6L302.7 250.2L303.2 247.1L303.6 242.9L304.1 239.5L304.6 239.3L305.1 242.3L305.5 246.5L306.0 250.2L306.5 253.2L307.0 255.9L307.4 258.2L307.9 259.7L308.4 259.1L308.9 257.3L309.3 254.8L309.8 253.2L310.3 252.5L310.8 252.4L311.2 252.7L311.7 253.6L312.2 255.5L312.7 258.5L313.1 262.0L313.6 264.2L314.1 264.1L314.6 261.7L315.0 258.4L315.5 255.4L316.0 253.7L316.5 252.7L316.9 252.1L317.4 252.0L317.9 251.9L318.4 252.1L318.9 252.1L319.3 252.4L319.8 252.2L320.3 251.6L320.8 250.2L321.2 247.6L321.7 244.6L322.2 242.9L322.7 243.8L323.1 246.3L323.6 249.3L324.1 251.1L324.6 252.1L325.0 252.4L325.5 252.5L326.0 252.4L326.5 252.3L326.9 252.2L327.4 252.0L327.9 252.1L328.4 252.2L328.8 252.3L329.3 252.5L329.8 252.6L330.3 252.4L330.7 252.3L331.2 252.1L331.7 252.1L332.2 251.9L332.6 252.2L333.1 252.2L333.6 252.2L334.1 252.1L334.5 252.3L335.0 252.3L335.5 252.2L336.0 252.5L336.4 252.5L336.9 252.6L337.4 252.8L337.9 252.9L338.3 252.8L338.8 252.6L339.3 252.4L339.8 251.5L340.2 249.4L340.7 245.7L341.2 241.6L341.7 239.1L342.1 240.2L342.6 244.7L343.1 250.8L343.6 255.6L344.0 258.1L344.5 257.7L345.0 255.9L345.5 254.0L345.9 252.9L346.4 252.4L346.9 252.5L347.4 252.7L347.8 253.8L348.3 255.2L348.8 257.7L349.3 260.9L349.7 263.1L350.2 263.2L350.7 261.1L351.2 257.9L351.6 255.3L352.1 253.5L352.6 252.8L353.1 252.6L353.5 252.5L354.0 251.8L354.5 250.3L355.0 247.3L355.4 243.8L355.9 241.6L356.4 242.2L356.9 244.9L357.3 248.0L357.8 250.5L358.3 251.6L358.8 252.2L359.2 252.3L359.7 252.3L360.2 252.4L360.7 252.3L361.1 252.2L361.6 252.2L362.1 252.1L362.6 252.1L363.0 252.2L363.5 252.3L364.0 252.1L364.5 252.4L364.9 252.5L365.4 252.4L365.9 252.3L366.4 252.5L366.8 252.4L367.3 252.3L367.8 252.3L368.3 252.3L368.7 252.2L369.2 252.0L369.7 252.1L370.2 252.2L370.6 252.2L371.1 252.4L371.6 252.6L372.1 252.4L372.5 252.1L373.0 251.3L373.5 249.3L374.0 245.6L374.4 241.1L374.9 238.4L375.4 239.4L375.9 244.1L376.3 250.2L376.8 255.2L377.3 258.4L377.8 258.7L378.3 257.3L378.7 255.2L379.2 253.7L379.7 252.9L380.2 252.7L380.6 252.7L381.1 252.6L381.6 253.1L382.1 254.5L382.5 256.9L383.0 260.5L383.5 264.1L384.0 265.9L384.4 264.8L384.9 261.4L385.4 257.7L385.9 255.1L386.3 253.3L386.8 252.4L387.3 251.7L387.8 250.4L388.2 248.0L388.7 245.3L389.2 243.5L389.7 244.1L390.1 246.6L390.6 249.4L391.1 251.2L391.6 252.2L392.0 252.5L392.5 252.6L393.0 252.5L393.5 252.5L393.9 252.4L394.4 252.4L394.9 252.5L395.4 252.4L395.8 252.7L396.3 252.6L396.8 252.6L397.3 252.6L397.7 252.7L398.2 252.7L398.7 252.6L399.2 252.5L399.6 252.4L400.1 252.1L400.6 252.2L401.1 251.9L401.5 252.0L402.0 252.2L402.5 252.4L403.0 252.4L403.4 252.6L403.9 252.5L404.4 252.5L404.9 252.2L405.3 252.3L405.8 252.1L406.3 251.6L406.8 250.2L407.2 247.1L407.7 242.0L408.2 236.4L408.7 234.3L409.1 237.4L409.6 244.4L410.1 251.9L410.6 257.1L411.0 259.0L411.5 258.1L412.0 255.9L412.5 253.9L412.9 252.6L413.4 252.2L413.9 252.1L414.4 252.4L414.8 253.1L415.3 254.8L415.8 258.0L416.3 262.3L416.7 266.1L417.2 267.5L417.7 265.6L418.2 261.8L418.6 257.7L419.1 254.8L419.6 253.3L420.1 252.8L420.5 252.6L421.0 252.0L421.5 251.1L422.0 249.0L422.4 246.0L422.9 243.0L423.4 242.3L423.9 244.0L424.3 247.2L424.8 250.1L425.3 251.6L425.8 252.2L426.2 252.5L426.7 252.4L427.2 252.1L427.7 252.2L428.1 252.2L428.6 252.3L429.1 252.2L429.6 252.5L430.0 252.7L430.5 252.6L431.0 252.6L431.5 252.6L431.9 252.6L432.4 252.4L432.9 252.4L433.4 252.7L433.8 252.6L434.3 252.3L434.8 252.2L435.3 252.2L435.7 251.9L436.2 251.9L436.7 252.1L437.2 252.2L437.7 252.3L438.1 252.3L438.6 252.2L439.1 251.7L439.6 250.6L440.0 248.1L440.5 244.1L441.0 239.6L441.5 237.5L441.9 239.1L442.4 243.7L442.9 248.6L443.4 252.9L443.8 256.0L444.3 258.1L444.8 258.5L445.3 257.3L445.7 255.3L446.2 253.9L446.7 253.1L447.2 252.7L447.6 252.7L448.1 252.8L448.6 253.2L449.1 254.5L449.5 256.9L450.0 260.2L450.5 263.2L451.0 264.3L451.4 263.1L451.9 259.9L452.4 256.4L452.9 254.0L453.3 252.8L453.8 252.3L454.3 252.2L454.8 252.1L455.2 251.9L455.7 252.0L456.2 251.6L456.7 250.5L457.1 248.4L457.6 245.6L458.1 243.8L458.6 243.7L459.0 245.9L459.5 248.7L460.0 250.8L460.5 251.9L460.9 252.4L461.4 252.5L461.9 252.3L462.4 252.4L462.8 252.5L463.3 252.3L463.8 252.2L464.3 252.3L464.7 252.3L465.2 252.4L465.7 252.4L466.2 252.4L466.6 252.4L467.1 252.2L467.6 252.2L468.1 252.3L468.5 252.2L469.0 252.2L469.5 252.2L470.0 252.3L470.4 252.2L470.9 252.3L471.4 252.2L471.9 252.3L472.3 252.4L472.8 252.4L473.3 252.5L473.8 252.5L474.2 252.4L474.7 252.4L475.2 252.2L475.7 251.1L476.1 248.5L476.6 244.4L477.1 239.7L477.6 237.0L478.0 238.4L478.5 243.0L479.0 248.8L479.5 253.6L479.9 257.7L480.4 260.2L480.9 260.3L481.4 258.4L481.8 255.8L482.3 254.0L482.8 252.9L483.3 252.5L483.7 252.6L484.2 252.5L484.7 253.1L485.2 254.4L485.6 256.9L486.1 259.8L486.6 262.5L487.1 263.3L487.5 261.8L488.0 258.8L488.5 255.9L489.0 253.8L489.4 252.8L489.9 252.4L490.4 252.2L490.9 252.2L491.3 252.1L491.8 252.2L492.3 252.2L492.8 252.1L493.2 252.0L493.7 251.6L494.2 251.1L494.7 249.7L495.1 247.5L495.6 245.0L496.1 243.6L496.6 244.7L497.1 247.1L497.5 249.5L498.0 251.1L498.5 251.8L499.0 252.3L499.4 252.3L499.9 252.2L500.4 252.0L500.9 252.0L501.3 252.1L501.8 252.1L502.3 252.3L502.8 252.5L503.2 252.6L503.7 252.5L504.2 252.5L504.7 252.5L505.1 252.5L505.6 252.4L506.1 252.4L506.6 252.5L507.0 252.6L507.5 252.4L508.0 252.3L508.5 252.3L508.9 252.5L509.4 252.3L509.9 252.3L510.4 252.3L510.8 252.2L511.3 252.2L511.8 252.2L512.3 252.1L512.7 251.9L513.2 251.3L513.7 248.9L514.2 244.5L514.6 238.9L515.1 235.6L515.6 236.3L516.1 240.9L516.5 246.6L517.0 251.3L517.5 254.9L518.0 257.5L518.4 258.9L518.9 258.7L519.4 256.8L519.9 254.7L520.3 253.2L520.8 252.2L521.3 252.5L521.8 253.2L522.2 254.9L522.7 257.9L523.2 261.3L523.7 264.0L524.1 264.0L524.6 261.8L525.1 258.4L525.6 255.3L526.0 253.4L526.5 252.5L527.0 252.4L527.5 252.5L527.9 252.5L528.4 252.6L528.9 252.3L529.4 252.3L529.8 251.9L530.3 250.5L530.8 248.0L531.3 244.8L531.7 242.0L532.2 241.6L532.7 243.6L533.2 247.2L533.6 249.9L534.1 251.2L534.6 251.5L535.1 252.0L535.5 252.0L536.0 252.1L536.5 252.1L537.0 252.4L537.4 252.3L537.9 252.3L538.4 252.5L538.9 252.4L539.3 252.4L539.8 252.3L540.3 252.5L540.8 252.2L541.2 252.3L541.7 252.3L542.2 252.2L542.7 252.2L543.1 252.0L543.6 252.2L544.1 252.3L544.6 252.2L545.0 252.3L545.5 252.3L546.0 252.6L546.5 252.3L546.9 252.2L547.4 252.4L547.9 252.0L548.4 250.4L548.8 247.1L549.3 243.0L549.8 239.4L550.3 238.8L550.7 241.6L551.2 245.9L551.7 249.6L552.2 252.1L552.6 254.5L553.1 257.0L553.6 259.0L554.1 259.4L554.5 258.0L555.0 255.7L555.5 254.0L556.0 253.1L556.5 252.7L556.9 252.7L557.4 253.1L557.9 254.2L558.4 256.9L558.8 260.5L559.3 263.9L559.8 265.4L560.3 264.1L560.7 260.5L561.2 256.9L561.7 254.2L562.2 252.7L562.6 252.3L563.1 252.1L563.6 252.2L564.1 252.2L564.5 252.2L565.0 252.2L565.5 252.1L566.0 252.0L566.4 252.1L566.9 252.0L567.4 252.0L567.9 251.9L568.3 251.9L568.8 251.9L569.3 251.9L569.8 252.0L570.2 252.1L570.7 252.2L571.2 252.2L571.7 252.3L572.1 252.2L572.6 252.5L573.1 252.4L573.6 252.3L574.0 252.5L574.5 252.4L575.0 252.5L575.5 252.5L575.9 252.5L576.4 252.4L576.9 252.3L577.4 252.4L577.8 252.2L578.3 252.4L578.8 252.0L579.3 252.1L579.7 252.1L580.2 252.1L580.7 252.5L581.2 252.6L581.6 252.7L582.1 252.6L582.6 252.5L583.1 252.2L583.5 252.1L584.0 252.2L584.5 252.1L585.0 252.1L585.4 252.0L585.9 252.1L586.4 251.9L586.9 252.0L587.3 252.3L587.8 252.3L588.3 252.4L588.8 252.4L589.2 252.2L589.7 252.3L590.2 252.2L590.7 252.0L591.1 252.2L591.6 252.3L592.1 252.3L592.6 252.3L593.0 252.3L593.5 252.3L594.0 252.3L594.5 252.3L594.9 252.3L595.4 252.3L595.9 252.3L596.4 252.3L596.8 252.3L597.3 252.3L597.8 252.3L598.3 252.3L598.7 252.3L599.2 252.3L599.7 252.3L600.2 252.3L600.6 252.3L601.1 252.3L601.6 252.3L602.1 252.3L602.5 252.3L603.0 252.3L603.5 252.3L604.0 252.3L604.4 252.3L604.9 252.3L605.4 252.3L605.9 252.3L606.3 252.3L606.8 252.3L607.3 252.3L607.8 252.3L608.2 252.3L608.7 252.3L609.2 252.3L609.7 252.3L610.1 252.3L610.6 252.3L611.1 252.3L611.6 252.3L612.0 252.3L612.5 252.3L613.0 252.3L613.5 252.3L613.9 252.3L614.4 252.3L614.9 252.3L615.4 252.3L615.9 252.3L616.3 252.3L616.8 252.3L617.3 252.3L617.8 252.3L618.2 252.3L618.7 252.3L619.2 252.3L619.7 252.3L620.1 252.3L620.6 252.3L621.1 252.3L621.6 252.3L622.0 252.3L622.5 252.3L623.0 252.3L623.5 252.3L623.9 252.3L624.4 252.3L624.9 252.3L625.4 252.3L625.8 252.3L626.3 252.3L626.8 252.3L627.3 252.3L627.7 252.3" stroke="#ff7f0e"/>
<path d="M199.1 252.3L199.6 252.3L200.1 252.3L200.5 252.3L201.0 252.3L201.5 252.3L202.0 252.3L202.4 252.3L202.9 252.3L203.4 252.3L203.9 252.3L204.3 252.3L204.8 252.3L205.3 252.3L205.8 252.3L206.2 252.3L206.7 252.3L207.2 252.3L207.7 252.3L208.1 252.3L208.6 252.3L209.1 252.3L209.6 252.3L210.0 252.3L210.5 252.3L211.0 252.3L211.5 252.3L211.9 252.3L212.4 252.3L212.9 252.3L213.4 252.3L213.8 252.3L214.3 252.3L214.8 252.3L215.3 252.3L215.7 252.3L216.2 252.3L216.7 252.3L217.2 252.3L217.6 252.3L218.1 252.3L218.6 252.3L219.1 252.3L219.5 252.3L220.0 252.3L220.5 252.3L221.0 252.3L221.4 252.3L221.9 252.3L222.4 252.3L222.9 252.3L223.3 252.3L223.8 252.3L224.3 252.3L224.8 252.3L225.2 252.3L225.7 252.3L226.2 252.3L226.7 252.3L227.1 252.3L227.6 252.3L228.1 252.3L228.6 252.3L229.0 252.3L229.5 252.3L230.0 252.3L230.5 252.3L230.9 252.3L231.4 252.3L231.9 252.3L232.4 252.3L232.8 252.3L233.3 252.3L233.8 252.3L234.3 252.3L234.7 252.3L235.2 252.3L235.7 252.3L236.2 252.2L236.6 252.2L237.1 251.3L237.6 249.5L238.1 247.0L238.5 244.0L239.0 240.8L239.5 240.0L240.0 241.9L240.4 245.6L240.9 249.1L241.4 252.5L241.9 255.8L242.3 259.2L242.8 262.7L243.3 265.7L243.8 267.5L244.2 267.4L244.7 265.3L245.2 262.1L245.7 259.1L246.1 256.5L246.6 254.6L247.1 253.5L247.6 252.9L248.0 252.6L248.5 252.1L249.0 251.3L249.5 249.3L249.9 245.9L250.4 241.4L250.9 237.5L251.4 236.5L251.8 238.8L252.3 243.0L252.8 247.1L253.3 250.0L253.7 251.5L254.2 252.1L254.7 252.1L255.2 252.4L255.6 252.3L256.1 252.3L256.6 252.3L257.1 252.4L257.5 252.4L258.0 252.5L258.5 252.6L259.0 252.4L259.5 252.6L259.9 252.4L260.4 252.4L260.9 252.3L261.4 252.3L261.8 252.4L262.3 252.3L262.8 252.3L263.3 252.2L263.7 252.3L264.2 252.3L264.7 252.2L265.2 252.4L265.6 252.4L266.1 252.4L266.6 252.3L267.1 252.1L267.5 252.2L268.0 252.2L268.5 252.2L269.0 252.2L269.4 252.3L269.9 252.1L270.4 252.3L270.9 252.2L271.3 252.3L271.8 251.5L272.3 249.3L272.8 243.8L273.2 233.7L273.7 220.4L274.2 208.8L274.7 204.9L275.1 210.9L275.6 223.7L276.1 237.1L276.6 246.7L277.0 253.0L277.5 258.1L278.0 263.8L278.5 269.8L278.9 274.5L279.4 277.4L279.9 279.1L280.4 279.6L280.8 279.4L281.3 278.4L281.8 276.5L282.3 273.1L282.7 268.1L283.2 262.2L283.7 256.6L284.2 251.3L284.6 245.5L285.1 238.9L285.6 233.2L286.1 230.8L286.5 233.4L287.0 239.2L287.5 245.4L288.0 250.7L288.4 254.6L288.9 257.8L289.4 259.4L289.9 259.5L290.3 258.4L290.8 256.4L291.3 254.2L291.8 253.0L292.2 252.5L292.7 252.4L293.2 252.2L293.7 252.2L294.1 252.3L294.6 252.2L295.1 252.2L295.6 252.3L296.0 252.4L296.5 252.3L297.0 252.4L297.5 252.5L297.9 252.4L298.4 252.4L298.9 252.6L299.4 252.3L299.8 252.2L300.3 252.5L300.8 252.7L301.3 252.6L301.7 252.5L302.2 252.5L302.7 252.4L303.2 252.2L303.6 251.9L304.1 252.0L304.6 251.9L305.1 251.7L305.5 251.6L306.0 251.6L306.5 251.1L307.0 249.6L307.4 245.4L307.9 237.2L308.4 225.2L308.9 213.1L309.3 207.0L309.8 210.7L310.3 222.0L310.8 235.0L311.2 245.3L311.7 252.4L312.2 257.9L312.7 263.8L313.1 270.2L313.6 275.9L314.1 279.6L314.6 281.8L315.0 282.8L315.5 282.5L316.0 281.6L316.5 279.8L316.9 276.4L317.4 271.1L317.9 265.1L318.4 259.7L318.9 256.0L319.3 253.8L319.8 252.4L320.3 251.0L320.8 248.3L321.2 244.0L321.7 238.9L322.2 234.3L322.7 233.5L323.1 236.6L323.6 242.2L324.1 247.5L324.6 251.9L325.0 255.8L325.5 258.5L326.0 260.2L326.5 259.8L326.9 258.2L327.4 255.7L327.9 253.8L328.4 252.9L328.8 252.4L329.3 252.3L329.8 252.4L330.3 252.2L330.7 252.1L331.2 252.2L331.7 252.2L332.2 252.3L332.6 252.3L333.1 252.3L333.6 252.4L334.1 252.3L334.5 252.2L335.0 252.1L335.5 252.0L336.0 252.0L336.4 252.2L336.9 252.4L337.4 252.5L337.9 252.5L338.3 252.4L338.8 252.5L339.3 252.4L339.8 252.2L340.2 251.9L340.7 250.8L341.2 247.8L341.7 241.3L342.1 230.8L342.6 218.9L343.1 210.9L343.6 211.5L344.0 220.2L344.5 232.3L345.0 243.0L345.5 250.3L345.9 255.8L346.4 261.0L346.9 266.9L347.4 272.5L347.8 276.8L348.3 279.4L348.8 280.3L349.3 280.4L349.7 280.2L350.2 278.9L350.7 276.5L351.2 272.3L351.6 266.6L352.1 261.1L352.6 256.2L353.1 251.6L353.5 246.0L354.0 238.8L354.5 231.2L355.0 226.9L355.4 228.3L355.9 234.0L356.4 241.2L356.9 247.1L357.3 250.9L357.8 253.4L358.3 255.4L358.8 258.1L359.2 260.1L359.7 260.7L360.2 259.3L360.7 257.2L361.1 255.0L361.6 253.4L362.1 252.6L362.6 252.4L363.0 252.4L363.5 252.4L364.0 252.5L364.5 252.5L364.9 252.6L365.4 252.5L365.9 252.4L366.4 252.3L366.8 252.3L367.3 252.2L367.8 252.2L368.3 252.0L368.7 251.8L369.2 251.9L369.7 252.1L370.2 252.2L370.6 252.2L371.1 252.3L371.6 252.4L372.1 252.3L372.5 252.0L373.0 252.1L373.5 252.0L374.0 251.0L374.4 248.8L374.9 243.2L375.4 233.6L375.9 221.4L376.3 211.7L376.8 209.8L377.3 216.8L377.8 228.9L378.3 240.8L378.7 249.2L379.2 254.8L379.7 260.0L380.2 266.0L380.6 272.1L381.1 277.1L381.6 280.2L382.1 281.7L382.5 282.2L383.0 282.1L383.5 281.0L384.0 278.7L384.4 274.7L384.9 269.1L385.4 263.1L385.9 258.2L386.3 255.3L386.8 253.3L387.3 251.0L387.8 247.5L388.2 242.2L388.7 234.9L389.2 229.2L389.7 227.9L390.1 231.9L390.6 238.8L391.1 245.4L391.6 250.4L392.0 253.6L392.5 256.2L393.0 257.9L393.5 258.6L393.9 258.0L394.4 256.3L394.9 254.5L395.4 253.4L395.8 252.8L396.3 252.5L396.8 252.4L397.3 252.2L397.7 252.1L398.2 252.1L398.7 252.1L399.2 252.1L399.6 252.3L400.1 252.2L400.6 252.0L401.1 252.0L401.5 251.9L402.0 252.0L402.5 252.0L403.0 252.2L403.4 252.3L403.9 252.3L404.4 252.3L404.9 252.2L405.3 252.1L405.8 252.3L406.3 252.2L406.8 252.2L407.2 251.2L407.7 249.1L408.2 243.8L408.7 234.5L409.1 222.3L409.6 212.1L410.1 209.3L410.6 215.6L411.0 227.5L411.5 239.5L412.0 248.4L412.5 254.2L412.9 259.1L413.4 264.9L413.9 271.1L414.4 276.0L414.8 279.2L415.3 280.8L415.8 281.3L416.3 280.9L416.7 280.0L417.2 277.9L417.7 274.5L418.2 269.2L418.6 263.1L419.1 258.4L419.6 255.1L420.1 252.6L420.5 249.5L421.0 245.0L421.5 238.3L422.0 231.4L422.4 227.5L422.9 228.7L423.4 234.6L423.9 241.7L424.3 247.5L424.8 251.9L425.3 255.2L425.8 258.2L426.2 260.0L426.7 260.3L427.2 258.9L427.7 256.5L428.1 254.5L428.6 253.3L429.1 252.7L429.6 252.4L430.0 252.4L430.5 252.5L431.0 252.4L431.5 252.5L431.9 252.5L432.4 252.4L432.9 252.6L433.4 252.7L433.8 252.6L434.3 252.6L434.8 252.3L435.3 252.3L435.7 252.1L436.2 252.2L436.7 252.4L437.2 252.4L437.7 252.5L438.1 252.6L438.6 252.5L439.1 252.6L439.6 252.5L440.0 252.2L440.5 251.7L441.0 249.6L441.5 244.1L441.9 234.3L442.4 221.5L442.9 210.2L443.4 206.0L443.8 212.1L444.3 224.8L444.8 237.9L445.3 247.4L445.7 253.7L446.2 258.9L446.7 264.5L447.2 270.3L447.6 275.1L448.1 278.2L448.6 280.0L449.1 280.6L449.5 280.5L450.0 279.7L450.5 277.9L451.0 274.1L451.4 269.2L451.9 263.7L452.4 258.9L452.9 255.9L453.3 254.4L453.8 253.5L454.3 253.0L454.8 252.6L455.2 252.3L455.7 251.4L456.2 249.2L456.7 245.2L457.1 239.2L457.6 233.0L458.1 229.8L458.6 231.4L459.0 237.1L459.5 243.2L460.0 248.1L460.5 251.1L460.9 252.5L461.4 253.8L461.9 255.2L462.4 257.2L462.8 258.7L463.3 259.1L463.8 258.1L464.3 256.2L464.7 254.6L465.2 253.8L465.7 253.1L466.2 252.9L466.6 252.7L467.1 252.7L467.6 252.2L468.1 252.3L468.5 252.3L469.0 252.4L469.5 252.3L470.0 252.3L470.4 252.3L470.9 252.1L471.4 252.0L471.9 252.2L472.3 252.1L472.8 252.1L473.3 252.1L473.8 252.2L474.2 252.2L474.7 252.4L475.2 252.5L475.7 252.5L476.1 252.5L476.6 252.5L477.1 252.5L477.6 252.3L478.0 251.9L478.5 250.8L479.0 247.7L479.5 240.5L479.9 229.6L480.4 217.1L480.9 209.0L481.4 209.6L481.8 218.8L482.3 231.7L482.8 242.9L483.3 250.3L483.7 255.7L484.2 261.0L484.7 267.0L485.2 272.7L485.6 276.9L486.1 279.5L486.6 280.6L487.1 280.8L487.5 280.3L488.0 279.0L488.5 276.7L489.0 272.1L489.4 266.5L489.9 261.2L490.4 257.2L490.9 254.9L491.3 253.6L491.8 253.0L492.3 252.8L492.8 252.4L493.2 251.9L493.7 251.0L494.2 248.5L494.7 244.1L495.1 238.1L495.6 232.8L496.1 231.1L496.6 234.0L497.1 239.6L497.5 245.3L498.0 250.0L498.5 253.3L499.0 256.1L499.4 258.7L499.9 260.8L500.4 261.0L500.9 259.1L501.3 256.9L501.8 254.8L502.3 253.3L502.8 252.7L503.2 252.5L503.7 252.7L504.2 252.7L504.7 252.5L505.1 252.3L505.6 252.1L506.1 251.9L506.6 251.8L507.0 251.8L507.5 252.0L508.0 252.3L508.5 252.2L508.9 252.5L509.4 252.4L509.9 252.4L510.4 252.4L510.8 252.4L511.3 252.4L511.8 252.3L512.3 252.3L512.7 251.7L513.2 249.9L513.7 245.1L514.2 236.0L514.6 223.3L515.1 211.3L515.6 206.1L516.1 210.9L516.5 222.8L517.0 236.0L517.5 246.4L518.0 253.2L518.4 258.6L518.9 264.4L519.4 270.9L519.9 276.1L520.3 279.8L520.8 281.7L521.3 282.5L521.8 282.5L522.2 281.7L522.7 279.8L523.2 276.4L523.7 271.1L524.1 264.8L524.6 259.6L525.1 255.9L525.6 253.9L526.0 252.8L526.5 252.5L527.0 252.3L527.5 252.2L527.9 252.3L528.4 252.4L528.9 251.9L529.4 250.2L529.8 247.0L530.3 241.5L530.8 235.0L531.3 230.6L531.7 230.6L532.2 235.0L532.7 241.4L533.2 247.0L533.6 251.0L534.1 253.9L534.6 256.1L535.1 258.1L535.5 259.2L536.0 259.0L536.5 257.1L537.0 255.1L537.4 253.7L537.9 253.0L538.4 252.3L538.9 252.2L539.3 252.2L539.8 252.2L540.3 252.2L540.8 252.3L541.2 252.5L541.7 252.5L542.2 252.5L542.7 252.4L543.1 252.4L543.6 252.4L544.1 252.4L544.6 252.3L545.0 252.4L545.5 252.3L546.0 252.2L546.5 252.2L546.9 252.3L547.4 252.2L547.9 252.2L548.4 252.4L548.8 252.4L549.3 252.0L549.8 250.5L550.3 246.3L550.7 238.3L551.2 226.8L551.7 215.7L552.2 210.8L552.6 214.8L553.1 225.6L553.6 237.4L554.1 246.7L554.5 253.0L555.0 257.9L555.5 263.7L556.0 270.3L556.5 276.3L556.9 280.2L557.4 282.6L557.9 283.8L558.4 284.0L558.8 283.3L559.3 281.5L559.8 277.8L560.3 272.3L560.7 265.8L561.2 259.9L561.7 256.2L562.2 254.0L562.6 253.0L563.1 252.0L563.6 250.7L564.1 247.8L564.5 243.7L565.0 239.8L565.5 237.2L566.0 238.1L566.4 241.7L566.9 246.2L567.4 249.4L567.9 251.2L568.3 252.0L568.8 252.4L569.3 252.3L569.8 252.3L570.2 252.4L570.7 252.4L571.2 252.5L571.7 252.6L572.1 252.7L572.6 252.5L573.1 252.7L573.6 252.6L574.0 252.7L574.5 252.7L575.0 252.6L575.5 252.6L575.9 252.5L576.4 252.4L576.9 252.2L577.4 252.4L577.8 252.3L578.3 252.4L578.8 252.2L579.3 252.2L579.7 252.4L580.2 252.5L580.7 252.5L581.2 252.3L581.6 252.4L582.1 252.3L582.6 252.1L583.1 252.1L583.5 252.3L584.0 252.2L584.5 252.2L585.0 252.2L585.4 252.4L585.9 252.2L586.4 252.0L586.9 252.1L587.3 252.2L587.8 252.2L588.3 252.4L588.8 252.6L589.2 252.8L589.7 252.9L590.2 252.6L590.7 252.6L591.1 252.6L591.6 252.6L592.1 252.3L592.6 252.3L593.0 252.3L593.5 252.3L594.0 252.3L594.5 252.3L594.9 252.3L595.4 252.3L595.9 252.3L596.4 252.3L596.8 252.3L597.3 252.3L597.8 252.3L598.3 252.3L598.7 252.3L599.2 252.3L599.7 252.3L600.2 252.3L600.6 252.3L601.1 252.3L601.6 252.3L602.1 252.3L602.5 252.3L603.0 252.3L603.5 252.3L604.0 252.3L604.4 252.3L604.9 252.3L605.4 252.3L605.9 252.3L606.3 252.3L606.8 252.3L607.3 252.3L607.8 252.3L608.2 252.3L608.7 252.3L609.2 252.3L609.7 252.3L610.1 252.3L610.6 252.3L611.1 252.3L611.6 252.3L612.0 252.3L612.5 252.3L613.0 252.3L613.5 252.3L613.9 252.3L614.4 252.3L614.9 252.3L615.4 252.3L615.9 252.3L616.3 252.3L616.8 252.3L617.3 252.3L617.8 252.3L618.2 252.3L618.7 252.3L619.2 252.3L619.7 252.3L620.1 252.3L620.6 252.3L621.1 252.3L621.6 252.3L622.0 252.3L622.5 252.3L623.0 252.3L623.5 252.3L623.9 252.3L624.4 252.3L624.9 252.3L625.4 252.3L625.8 252.3L626.3 252.3L626.8 252.3L627.3 252.3L627.7 252.3" stroke="#2ca02c"/>
<path d="M199.1 252.3L199.6 252.3L200.1 252.3L200.5 252.3L201.0 252.3L201.5 252.3L202.0 252.3L202.4 252.3L202.9 252.3L203.4 252.3L203.9 252.3L204.3 252.3L204.8 252.3L205.3 252.3L205.8 252.3L206.2 252.3L206.7 252.3L207.2 252.3L207.7 252.3L208.1 252.3L208.6 252.3L209.1 252.3L209.6 252.3L210.0 252.3L210.5 252.3L211.0 252.3L211.5 252.3L211.9 252.3L212.4 252.3L212.9 252.3L213.4 252.3L213.8 252.3L214.3 252.3L214.8 252.3L215.3 252.3L215.7 252.3L216.2 252.3L216.7 252.3L217.2 252.3L217.6 252.3L218.1 252.3L218.6 252.3L219.1 252.3L219.5 252.3L220.0 252.3L220.5 252.3L221.0 252.3L221.4 252.3L221.9 252.3L222.4 252.3L222.9 252.3L223.3 252.3L223.8 252.3L224.3 252.3L224.8 252.3L225.2 252.3L225.7 252.3L226.2 252.3L226.7 252.3L227.1 252.3L227.6 252.3L228.1 252.3L228.6 252.3L229.0 252.3L229.5 252.3L230.0 252.3L230.5 252.3L230.9 252.3L231.4 252.3L231.9 252.3L232.4 252.3L232.8 252.3L233.3 252.3L233.8 252.3L234.3 252.3L234.7 252.3L235.2 252.3L235.7 252.3L236.2 252.3L236.6 252.3L237.1 252.3L237.6 252.3L238.1 252.3L238.5 252.3L239.0 252.3L239.5 252.3L240.0 252.3L240.4 252.3L240.9 252.3L241.4 252.3L241.9 252.3L242.3 252.3L242.8 252.3L243.3 252.3L243.8 252.3L244.2 252.3L244.7 252.3L245.2 252.3L245.7 252.3L246.1 252.3L246.6 252.3L247.1 252.2L247.6 252.0L248.0 251.4L248.5 250.2L249.0 248.0L249.5 245.5L249.9 243.6L250.4 243.5L250.9 245.2L251.4 247.7L251.8 249.9L252.3 251.3L252.8 251.9L253.3 252.1L253.7 252.0L254.2 252.1L254.7 252.1L255.2 252.2L255.6 252.2L256.1 252.3L256.6 252.3L257.1 252.3L257.5 252.2L258.0 252.1L258.5 252.0L259.0 251.9L259.5 252.0L259.9 252.0L260.4 252.0L260.9 252.0L261.4 252.1L261.8 252.2L262.3 252.2L262.8 252.6L263.3 253.8L263.7 255.5L264.2 257.0L264.7 258.4L265.2 258.3L265.6 256.8L266.1 255.1L266.6 253.6L267.1 252.7L267.5 252.5L268.0 252.4L268.5 252.3L269.0 251.8L269.4 250.4L269.9 247.1L270.4 241.5L270.9 235.6L271.3 232.7L271.8 234.9L272.3 241.3L272.8 248.2L273.2 254.2L273.7 259.1L274.2 262.1L274.7 262.5L275.1 260.3L275.6 257.1L276.1 254.6L276.6 253.3L277.0 252.7L277.5 252.6L278.0 252.5L278.5 252.2L278.9 252.1L279.4 252.2L279.9 252.2L280.4 252.2L280.8 252.2L281.3 252.3L281.8 252.0L282.3 252.0L282.7 251.1L283.2 249.4L283.7 246.7L284.2 243.7L284.6 241.6L285.1 241.6L285.6 243.8L286.1 247.1L286.5 249.6L287.0 251.2L287.5 252.2L288.0 252.4L288.4 252.3L288.9 252.1L289.4 252.1L289.9 252.1L290.3 252.0L290.8 252.0L291.3 252.1L291.8 252.2L292.2 252.2L292.7 252.4L293.2 252.4L293.7 252.4L294.1 252.5L294.6 252.5L295.1 252.4L295.6 252.8L296.0 253.2L296.5 254.1L297.0 255.4L297.5 256.6L297.9 257.0L298.4 256.6L298.9 255.2L299.4 253.9L299.8 253.3L300.3 252.8L300.8 252.3L301.3 252.3L301.7 252.2L302.2 251.9L302.7 251.8L303.2 251.4L303.6 250.1L304.1 246.5L304.6 240.9L305.1 235.2L305.5 233.3L306.0 236.8L306.5 244.4L307.0 252.8L307.4 259.7L307.9 262.6L308.4 261.8L308.9 258.6L309.3 255.5L309.8 253.5L310.3 252.6L310.8 252.3L311.2 252.2L311.7 252.2L312.2 252.4L312.7 252.4L313.1 252.3L313.6 252.4L314.1 252.4L314.6 252.2L315.0 252.2L315.5 252.3L316.0 252.4L316.5 252.5L316.9 252.7L317.4 252.8L317.9 252.6L318.4 252.4L318.9 252.6L319.3 252.1L319.8 251.6L320.3 250.2L320.8 248.2L321.2 245.3L321.7 242.7L322.2 242.0L322.7 243.4L323.1 246.1L323.6 249.0L324.1 251.0L324.6 252.0L325.0 252.2L325.5 252.5L326.0 252.5L326.5 252.1L326.9 252.0L327.4 252.2L327.9 252.1L328.4 252.1L328.8 252.1L329.3 252.4L329.8 252.3L330.3 252.3L330.7 252.3L331.2 252.3L331.7 252.5L332.2 252.5L332.6 252.6L333.1 253.1L333.6 254.3L334.1 255.7L334.5 257.4L335.0 258.3L335.5 258.2L336.0 256.8L336.4 255.0L336.9 253.5L337.4 252.6L337.9 252.3L338.3 252.2L338.8 252.2L339.3 252.3L339.8 252.4L340.2 252.3L340.7 251.7L341.2 249.6L341.7 245.4L342.1 239.5L342.6 234.6L343.1 234.1L343.6 238.9L344.0 247.0L344.5 254.7L345.0 260.0L345.5 261.7L345.9 260.2L346.4 257.0L346.9 254.5L347.4 252.9L347.8 252.5L348.3 252.4L348.8 252.3L349.3 252.2L349.7 252.0L350.2 252.0L350.7 252.1L351.2 252.1L351.6 251.9L352.1 251.8L352.6 251.6L353.1 250.6L353.5 248.7L354.0 246.5L354.5 244.6L355.0 244.1L355.4 245.3L355.9 247.6L356.4 250.0L356.9 251.3L357.3 251.9L357.8 252.2L358.3 252.5L358.8 252.6L359.2 252.5L359.7 252.5L360.2 252.5L360.7 252.4L361.1 252.2L361.6 252.4L362.1 252.4L362.6 252.2L363.0 252.3L363.5 252.0L364.0 251.9L364.5 251.6L364.9 251.9L365.4 252.1L365.9 252.1L366.4 252.5L366.8 253.0L367.3 254.2L367.8 255.6L368.3 257.0L368.7 257.6L369.2 257.2L369.7 255.8L370.2 254.3L370.6 253.2L371.1 252.5L371.6 252.1L372.1 252.2L372.5 252.1L373.0 251.9L373.5 251.1L374.0 249.1L374.4 244.9L374.9 239.3L375.4 235.0L375.9 234.8L376.3 239.5L376.8 246.5L377.3 253.6L377.8 259.5L378.3 262.4L378.7 262.2L379.2 259.7L379.7 256.3L380.2 253.9L380.6 252.6L381.1 252.4L381.6 252.1L382.1 252.1L382.5 252.4L383.0 252.6L383.5 252.7L384.0 252.7L384.4 252.9L384.9 252.4L385.4 251.9L385.9 251.6L386.3 250.7L386.8 249.1L387.3 246.6L387.8 244.7L388.2 244.2L388.7 245.2L389.2 247.4L389.7 249.7L390.1 251.0L390.6 251.6L391.1 252.0L391.6 252.2L392.0 252.1L392.5 252.3L393.0 252.6L393.5 252.5L393.9 252.6L394.4 252.5L394.9 252.4L395.4 252.6L395.8 252.7L396.3 252.8L396.8 252.8L397.3 252.9L397.7 252.8L398.2 252.5L398.7 252.3L399.2 252.5L399.6 252.9L400.1 253.2L400.6 254.5L401.1 255.9L401.5 257.2L402.0 257.4L402.5 256.8L403.0 255.7L403.4 254.1L403.9 252.8L404.4 252.3L404.9 252.0L405.3 252.2L405.8 252.2L406.3 252.2L406.8 252.2L407.2 251.4L407.7 249.2L408.2 244.9L408.7 239.8L409.1 235.9L409.6 236.0L410.1 240.5L410.6 246.1L411.0 250.9L411.5 254.6L412.0 258.0L412.5 260.2L412.9 260.4L413.4 258.8L413.9 256.2L414.4 254.3L414.8 253.1L415.3 252.5L415.8 252.4L416.3 252.4L416.7 252.3L417.2 252.5L417.7 252.5L418.2 252.7L418.6 252.7L419.1 252.6L419.6 252.3L420.1 251.4L420.5 250.0L421.0 247.9L421.5 245.3L422.0 244.0L422.4 244.2L422.9 246.1L423.4 248.4L423.9 250.5L424.3 251.5L424.8 251.9L425.3 252.1L425.8 252.1L426.2 252.0L426.7 252.2L427.2 252.6L427.7 252.6L428.1 252.5L428.6 252.5L429.1 252.5L429.6 252.4L430.0 252.3L430.5 252.3L431.0 252.2L431.5 252.3L431.9 252.3L432.4 252.4L432.9 252.5L433.4 252.4L433.8 252.7L434.3 253.2L434.8 254.0L435.3 255.7L435.7 257.1L436.2 258.0L436.7 257.6L437.2 256.2L437.7 254.7L438.1 253.6L438.6 253.1L439.1 252.8L439.6 252.6L440.0 252.7L440.5 252.5L441.0 252.2L441.5 250.9L441.9 248.2L442.4 243.9L442.9 238.7L443.4 236.1L443.8 237.5L444.3 243.0L444.8 249.2L445.3 254.8L445.7 258.7L446.2 260.9L446.7 260.2L447.2 257.7L447.6 255.1L448.1 253.3L448.6 252.4L449.1 251.9L449.5 252.1L450.0 252.2L450.5 252.0L451.0 252.2L451.4 252.2L451.9 252.2L452.4 252.1L452.9 252.2L453.3 252.1L453.8 252.0L454.3 251.9L454.8 252.0L455.2 251.7L455.7 251.0L456.2 249.8L456.7 247.4L457.1 244.7L457.6 243.0L458.1 243.4L458.6 245.4L459.0 248.1L459.5 250.3L460.0 251.8L460.5 252.4L460.9 252.5L461.4 252.4L461.9 252.2L462.4 252.1L462.8 252.1L463.3 252.3L463.8 252.4L464.3 252.5L464.7 252.4L465.2 252.5L465.7 252.2L466.2 252.1L466.6 252.2L467.1 252.3L467.6 252.6L468.1 252.7L468.5 252.8L469.0 253.0L469.5 253.6L470.0 254.4L470.4 255.6L470.9 256.7L471.4 256.8L471.9 256.2L472.3 254.9L472.8 254.0L473.3 253.0L473.8 252.7L474.2 252.4L474.7 252.5L475.2 252.3L475.7 251.9L476.1 251.0L476.6 248.6L477.1 244.3L477.6 238.9L478.0 235.7L478.5 236.6L479.0 241.4L479.5 247.5L479.9 252.5L480.4 256.4L480.9 259.2L481.4 260.5L481.8 259.1L482.3 256.7L482.8 254.6L483.3 253.4L483.7 252.8L484.2 252.4L484.7 252.4L485.2 252.3L485.6 252.2L486.1 252.3L486.6 252.5L487.1 252.6L487.5 252.5L488.0 252.3L488.5 252.1L489.0 252.1L489.4 252.0L489.9 252.1L490.4 252.1L490.9 252.5L491.3 252.2L491.8 252.1L492.3 251.7L492.8 251.1L493.2 249.6L493.7 247.4L494.2 245.0L494.7 243.5L495.1 244.1L495.6 246.0L496.1 248.4L496.6 250.4L497.1 251.5L497.5 252.0L498.0 252.2L498.5 252.3L499.0 252.3L499.4 252.5L499.9 252.5L500.4 252.6L500.9 252.3L501.3 252.4L501.8 252.3L502.3 252.4L502.8 252.4L503.2 252.4L503.7 252.3L504.2 252.2L504.7 252.2L505.1 252.0L505.6 251.8L506.1 252.0L506.6 252.3L507.0 252.7L507.5 253.9L508.0 255.4L508.5 256.6L508.9 257.2L509.4 256.8L509.9 255.5L510.4 254.4L510.8 253.3L511.3 252.6L511.8 252.3L512.3 252.3L512.7 252.2L513.2 252.1L513.7 252.1L514.2 251.8L514.6 250.8L515.1 248.0L515.6 243.7L516.1 239.7L516.5 238.7L517.0 241.2L517.5 246.4L518.0 252.4L518.4 257.4L518.9 260.0L519.4 259.7L519.9 257.6L520.3 255.2L520.8 253.3L521.3 252.5L521.8 252.1L522.2 252.2L522.7 252.1L523.2 252.5L523.7 252.6L524.1 252.7L524.6 252.8L525.1 253.0L525.6 252.9L526.0 252.8L526.5 252.8L527.0 252.5L527.5 252.4L527.9 252.2L528.4 251.6L528.9 250.7L529.4 249.0L529.8 246.7L530.3 244.6L530.8 243.9L531.3 244.6L531.7 246.8L532.2 249.0L532.7 250.8L533.2 251.5L533.6 252.0L534.1 252.4L534.6 252.5L535.1 252.4L535.5 252.4L536.0 252.3L536.5 252.2L537.0 252.2L537.4 252.2L537.9 252.1L538.4 252.1L538.9 252.3L539.3 252.3L539.8 252.3L540.3 252.3L540.8 252.4L541.2 252.5L541.7 252.5L542.2 252.9L542.7 253.6L543.1 254.8L543.6 256.2L544.1 257.7L544.6 258.4L545.0 257.5L545.5 255.8L546.0 254.3L546.5 253.1L546.9 252.5L547.4 252.2L547.9 252.2L548.4 252.1L548.8 252.1L549.3 251.7L549.8 250.2L550.3 247.0L550.7 242.2L551.2 237.5L551.7 235.7L552.2 238.5L552.6 244.6L553.1 251.5L553.6 257.2L554.1 259.9L554.5 259.4L555.0 256.8L555.5 254.3L556.0 252.9L556.5 252.5L556.9 252.1L557.4 252.0L557.9 252.0L558.4 252.2L558.8 252.0L559.3 252.0L559.8 252.0L560.3 252.2L560.7 252.2L561.2 251.9L561.7 252.0L562.2 252.0L562.6 252.1L563.1 252.1L563.6 252.2L564.1 252.4L564.5 252.3L565.0 252.3L565.5 252.1L566.0 252.3L566.4 252.2L566.9 252.2L567.4 252.5L567.9 252.3L568.3 252.3L568.8 252.3L569.3 252.3L569.8 252.2L570.2 252.2L570.7 252.2L571.2 252.2L571.7 252.2L572.1 252.2L572.6 252.2L573.1 252.5L573.6 252.4L574.0 252.4L574.5 252.1L575.0 252.0L575.5 252.1L575.9 251.9L576.4 252.0L576.9 252.1L577.4 252.2L577.8 252.1L578.3 252.3L578.8 252.1L579.3 252.3L579.7 252.4L580.2 252.6L580.7 252.3L581.2 252.1L581.6 251.9L582.1 251.9L582.6 251.9L583.1 252.0L583.5 252.2L584.0 252.4L584.5 252.6L585.0 252.7L585.4 252.6L585.9 252.8L586.4 252.7L586.9 252.8L587.3 252.6L587.8 252.6L588.3 252.5L588.8 252.5L589.2 252.5L589.7 252.5L590.2 252.5L590.7 252.4L591.1 252.3L591.6 252.5L592.1 252.3L592.6 252.3L593.0 252.3L593.5 252.3L594.0 252.3L594.5 252.3L594.9 252.3L595.4 252.3L595.9 252.3L596.4 252.3L596.8 252.3L597.3 252.3L597.8 252.3L598.3 252.3L598.7 252.3L599.2 252.3L599.7 252.3L600.2 252.3L600.6 252.3L601.1 252.3L601.6 252.3L602.1 252.3L602.5 252.3L603.0 252.3L603.5 252.3L604.0 252.3L604.4 252.3L604.9 252.3L605.4 252.3L605.9 252.3L606.3 252.3L606.8 252.3L607.3 252.3L607.8 252.3L608.2 252.3L608.7 252.3L609.2 252.3L609.7 252.3L610.1 252.3L610.6 252.3L611.1 252.3L611.6 252.3L612.0 252.3L612.5 252.3L613.0 252.3L613.5 252.3L613.9 252.3L614.4 252.3L614.9 252.3L615.4 252.3L615.9 252.3L616.3 252.3L616.8 252.3L617.3 252.3L617.8 252.3L618.2 252.3L618.7 252.3L619.2 252.3L619.7 252.3L620.1 252.3L620.6 252.3L621.1 252.3L621.6 252.3L622.0 252.3L622.5 252.3L623.0 252.3L623.5 252.3L623.9 252.3L624.4 252.3L624.9 252.3L625.4 252.3L625.8 252.3L626.3 252.3L626.8 252.3L627.3 252.3L627.7 252.3" stroke="#d62728"/>
<path d="M199.1 252.3L199.6 252.3L200.1 252.3L200.5 252.3L201.0 252.3L201.5 252.3L202.0 252.3L202.4 252.3L202.9 252.3L203.4 252.3L203.9 252.3L204.3 252.3L204.8 252.3L205.3 252.3L205.8 252.3L206.2 252.3L206.7 252.3L207.2 252.3L207.7 252.3L208.1 252.3L208.6 252.3L209.1 252.3L209.6 252.3L210.0 252.3L210.5 252.3L211.0 252.3L211.5 252.3L211.9 252.3L212.4 252.3L212.9 252.3L213.4 252.3L213.8 252.3L214.3 252.3L214.8 252.3L215.3 252.3L215.7 252.3L216.2 252.3L216.7 252.3L217.2 252.3L217.6 252.3L218.1 252.3L218.6 252.3L219.1 252.3L219.5 252.3L220.0 252.3L220.5 252.3L221.0 252.3L221.4 252.3L221.9 252.3L222.4 252.3L222.9 252.3L223.3 252.3L223.8 252.3L224.3 252.3L224.8 252.3L225.2 252.3L225.7 252.3L226.2 252.3L226.7 252.3L227.1 252.3L227.6 252.3L228.1 252.3L228.6 252.3L229.0 252.3L229.5 252.3L230.0 252.3L230.5 252.3L230.9 252.3L231.4 252.3L231.9 252.3L232.4 252.3L232.8 252.3L233.3 252.3L233.8 252.3L234.3 252.3L234.7 252.3L235.2 252.3L235.7 252.3L236.2 252.3L236.6 252.3L237.1 252.3L237.6 252.3L238.1 252.3L238.5 252.3L239.0 252.3L239.5 252.3L240.0 252.3L240.4 252.3L240.9 252.3L241.4 252.3L241.9 252.3L242.3 252.3L242.8 252.3L243.3 252.1L243.8 251.8L244.2 251.2L244.7 250.4L245.2 249.5L245.7 249.2L246.1 249.6L246.6 250.7L247.1 252.1L247.6 253.7L248.0 255.1L248.5 255.9L249.0 255.8L249.5 255.1L249.9 254.0L250.4 253.1L250.9 252.6L251.4 252.4L251.8 252.3L252.3 252.2L252.8 252.2L253.3 252.1L253.7 252.3L254.2 252.1L254.7 252.1L255.2 252.4L255.6 252.3L256.1 252.3L256.6 252.0L257.1 251.9L257.5 251.0L258.0 249.0L258.5 245.1L259.0 240.9L259.5 238.4L259.9 239.3L260.4 243.3L260.9 247.9L261.4 252.3L261.8 256.1L262.3 259.4L262.8 261.2L263.3 260.6L263.7 258.1L264.2 255.6L264.7 253.6L265.2 252.9L265.6 252.5L266.1 252.6L266.6 252.6L267.1 251.8L267.5 250.8L268.0 249.4L268.5 247.5L269.0 246.3L269.4 246.3L269.9 247.8L270.4 249.3L270.9 250.7L271.3 251.6L271.8 251.9L272.3 252.1L272.8 252.0L273.2 252.0L273.7 251.9L274.2 252.0L274.7 252.1L275.1 252.3L275.6 252.4L276.1 252.5L276.6 252.7L277.0 252.5L277.5 251.8L278.0 250.5L278.5 248.0L278.9 245.1L279.4 242.9L279.9 242.4L280.4 244.3L280.8 247.7L281.3 252.1L281.8 256.4L282.3 260.5L282.7 263.2L283.2 263.4L283.7 261.6L284.2 258.6L284.6 255.7L285.1 253.8L285.6 253.0L286.1 252.7L286.5 252.4L287.0 252.5L287.5 252.6L288.0 252.7L288.4 252.4L288.9 252.5L289.4 252.4L289.9 252.3L290.3 252.2L290.8 252.1L291.3 251.8L291.8 250.6L292.2 247.8L292.7 243.6L293.2 239.0L293.7 236.9L294.1 238.8L294.6 244.0L295.1 250.0L295.6 255.5L296.0 259.7L296.5 261.8L297.0 261.4L297.5 258.7L297.9 255.8L298.4 253.6L298.9 252.7L299.4 252.3L299.8 251.5L300.3 250.3L300.8 248.5L301.3 246.4L301.7 245.1L302.2 244.9L302.7 246.5L303.2 248.7L303.6 250.3L304.1 251.2L304.6 251.9L305.1 252.1L305.5 252.3L306.0 252.4L306.5 252.3L307.0 252.4L307.4 252.3L307.9 252.3L308.4 252.1L308.9 252.3L309.3 252.2L309.8 252.3L310.3 252.3L310.8 252.0L311.2 251.7L311.7 251.1L312.2 249.6L312.7 247.5L313.1 244.5L313.6 242.6L314.1 243.3L314.6 247.6L315.0 254.4L315.5 261.0L316.0 264.2L316.5 263.9L316.9 260.5L317.4 257.1L317.9 254.3L318.4 253.1L318.9 252.2L319.3 252.2L319.8 251.9L320.3 252.2L320.8 252.3L321.2 252.4L321.7 252.7L322.2 252.6L322.7 252.7L323.1 252.6L323.6 252.5L324.1 252.4L324.6 252.5L325.0 252.4L325.5 252.6L326.0 252.6L326.5 252.5L326.9 252.4L327.4 252.3L327.9 252.5L328.4 252.3L328.8 251.6L329.3 249.6L329.8 246.4L330.3 242.1L330.7 239.3L331.2 239.9L331.7 243.7L332.2 249.0L332.6 254.3L333.1 258.9L333.6 262.2L334.1 262.4L334.5 260.2L335.0 256.8L335.5 254.3L336.0 252.8L336.4 252.3L336.9 252.0L337.4 251.7L337.9 251.4L338.3 250.3L338.8 248.4L339.3 246.7L339.8 245.9L340.2 246.3L340.7 247.7L341.2 249.4L341.7 250.8L342.1 251.6L342.6 252.0L343.1 252.3L343.6 252.5L344.0 252.4L344.5 252.5L345.0 252.6L345.5 252.7L345.9 252.9L346.4 252.9L346.9 252.8L347.4 252.5L347.8 251.7L348.3 250.1L348.8 247.2L349.3 243.9L349.7 241.4L350.2 240.7L350.7 242.8L351.2 246.3L351.6 249.9L352.1 253.5L352.6 257.3L353.1 261.2L353.5 264.4L354.0 265.0L354.5 263.2L355.0 259.5L355.4 256.1L355.9 253.8L356.4 252.5L356.9 252.2L357.3 252.0L357.8 252.1L358.3 252.1L358.8 252.2L359.2 252.1L359.7 252.3L360.2 252.2L360.7 252.2L361.1 251.9L361.6 251.1L362.1 248.4L362.6 244.1L363.0 239.4L363.5 237.3L364.0 239.3L364.5 244.3L364.9 250.2L365.4 255.7L365.9 260.1L366.4 262.6L366.8 262.0L367.3 259.0L367.8 255.9L368.3 253.7L368.7 252.4L369.2 252.0L369.7 252.0L370.2 251.8L370.6 251.0L371.1 249.6L371.6 247.7L372.1 245.6L372.5 244.6L373.0 245.4L373.5 247.4L374.0 249.5L374.4 251.0L374.9 251.9L375.4 252.4L375.9 252.7L376.3 252.9L376.8 252.7L377.3 252.9L377.8 252.6L378.3 252.5L378.7 252.2L379.2 252.2L379.7 252.1L380.2 251.8L380.6 251.4L381.1 250.1L381.6 247.6L382.1 244.4L382.5 241.6L383.0 240.5L383.5 242.0L384.0 245.2L384.4 249.1L384.9 252.8L385.4 256.5L385.9 260.2L386.3 263.2L386.8 264.0L387.3 262.0L387.8 258.5L388.2 255.6L388.7 253.4L389.2 252.5L389.7 252.3L390.1 252.4L390.6 252.4L391.1 252.5L391.6 252.5L392.0 252.5L392.5 252.2L393.0 252.1L393.5 252.2L393.9 252.5L394.4 252.4L394.9 252.1L395.4 251.5L395.8 249.6L396.3 246.2L396.8 241.5L397.3 238.2L397.7 238.3L398.2 242.0L398.7 247.5L399.2 253.0L399.6 257.6L400.1 261.2L400.6 262.6L401.1 260.7L401.5 257.6L402.0 255.0L402.5 253.4L403.0 252.6L403.4 252.2L403.9 251.7L404.4 250.8L404.9 249.1L405.3 247.2L405.8 245.9L406.3 245.7L406.8 246.8L407.2 248.9L407.7 250.7L408.2 251.8L408.7 252.2L409.1 252.3L409.6 252.4L410.1 252.3L410.6 252.4L411.0 252.5L411.5 252.5L412.0 252.5L412.5 252.5L412.9 252.5L413.4 252.4L413.9 252.1L414.4 251.9L414.8 250.7L415.3 248.7L415.8 245.9L416.3 243.3L416.7 242.1L417.2 243.2L417.7 246.2L418.2 249.8L418.6 253.3L419.1 257.1L419.6 260.8L420.1 263.6L420.5 263.9L421.0 262.1L421.5 258.9L422.0 255.7L422.4 253.9L422.9 252.9L423.4 252.4L423.9 252.5L424.3 252.6L424.8 252.8L425.3 252.8L425.8 252.8L426.2 252.7L426.7 252.4L427.2 252.4L427.7 252.4L428.1 252.1L428.6 251.6L429.1 250.0L429.6 246.7L430.0 242.2L430.5 239.1L431.0 239.2L431.5 242.6L431.9 247.1L432.4 251.5L432.9 255.4L433.4 258.7L433.8 260.6L434.3 260.2L434.8 257.8L435.3 255.1L435.7 253.1L436.2 252.2L436.7 252.1L437.2 251.9L437.7 251.3L438.1 250.3L438.6 248.8L439.1 246.9L439.6 245.6L440.0 245.9L440.5 247.7L441.0 249.3L441.5 250.8L441.9 251.8L442.4 252.1L442.9 252.1L443.4 252.3L443.8 252.4L444.3 252.1L444.8 252.3L445.3 252.4L445.7 252.5L446.2 252.4L446.7 252.6L447.2 252.6L447.6 252.5L448.1 252.0L448.6 250.9L449.1 249.1L449.5 246.6L450.0 244.5L450.5 243.5L451.0 244.8L451.4 247.8L451.9 251.8L452.4 256.0L452.9 260.4L453.3 263.6L453.8 264.2L454.3 261.9L454.8 258.7L455.2 255.7L455.7 253.6L456.2 252.7L456.7 252.4L457.1 252.2L457.6 252.3L458.1 252.3L458.6 252.4L459.0 252.2L459.5 252.3L460.0 252.1L460.5 252.2L460.9 252.1L461.4 252.1L461.9 252.1L462.4 252.1L462.8 252.2L463.3 252.1L463.8 252.1L464.3 252.0L464.7 251.8L465.2 250.6L465.7 247.7L466.2 243.3L466.6 238.4L467.1 236.6L467.6 238.7L468.1 243.6L468.5 249.0L469.0 253.3L469.5 257.3L470.0 260.0L470.4 260.9L470.9 259.4L471.4 256.9L471.9 254.4L472.3 252.9L472.8 252.3L473.3 251.4L473.8 249.8L474.2 248.0L474.7 246.4L475.2 245.7L475.7 246.4L476.1 248.1L476.6 249.9L477.1 251.2L477.6 251.9L478.0 252.0L478.5 252.2L479.0 252.3L479.5 252.5L479.9 252.4L480.4 252.5L480.9 252.5L481.4 252.4L481.8 252.3L482.3 252.3L482.8 252.2L483.3 252.1L483.7 252.1L484.2 251.9L484.7 250.7L485.2 249.1L485.6 246.5L486.1 244.0L486.6 242.7L487.1 244.2L487.5 248.8L488.0 255.1L488.5 261.1L489.0 265.0L489.4 265.2L489.9 262.6L490.4 258.8L490.9 255.5L491.3 253.6L491.8 252.8L492.3 252.6L492.8 252.4L493.2 252.3L493.7 252.3L494.2 252.5L494.7 252.5L495.1 252.7L495.6 252.8L496.1 252.9L496.6 252.7L497.1 252.5L497.5 252.6L498.0 252.4L498.5 252.4L499.0 252.4L499.4 252.4L499.9 252.3L500.4 252.3L500.9 252.3L501.3 252.2L501.8 251.9L502.3 250.7L502.8 248.3L503.2 244.8L503.7 241.5L504.2 240.8L504.7 243.2L505.1 247.0L505.6 250.5L506.1 253.9L506.6 256.9L507.0 259.1L507.5 259.9L508.0 258.7L508.5 256.3L508.9 254.2L509.4 253.0L509.9 252.6L510.4 252.1L510.8 251.6L511.3 250.3L511.8 248.0L512.3 245.8L512.7 244.5L513.2 244.5L513.7 246.3L514.2 248.7L514.6 250.8L515.1 251.8L515.6 252.4L516.1 252.5L516.5 252.3L517.0 252.1L517.5 252.1L518.0 252.1L518.4 252.0L518.9 252.2L519.4 252.0L519.9 252.0L520.3 252.1L520.8 252.1L521.3 252.0L521.8 252.1L522.2 252.1L522.7 251.4L523.2 250.3L523.7 248.5L524.1 246.2L524.6 244.5L525.1 245.2L525.6 248.7L526.0 253.9L526.5 259.1L527.0 262.5L527.5 263.2L527.9 260.8L528.4 257.8L528.9 255.2L529.4 253.6L529.8 252.7L530.3 252.5L530.8 252.3L531.3 252.4L531.7 252.4L532.2 252.3L532.7 252.3L533.2 252.1L533.6 251.9L534.1 251.8L534.6 251.8L535.1 251.9L535.5 252.1L536.0 252.2L536.5 252.2L537.0 251.4L537.4 249.6L537.9 245.8L538.4 240.5L538.9 236.4L539.3 236.2L539.8 239.9L540.3 244.8L540.8 248.9L541.2 251.6L541.7 253.5L542.2 255.9L542.7 259.3L543.1 262.1L543.6 262.6L544.1 260.3L544.6 257.1L545.0 254.3L545.5 252.8L546.0 251.7L546.5 250.9L546.9 249.7L547.4 247.8L547.9 245.7L548.4 244.5L548.8 244.9L549.3 246.6L549.8 248.9L550.3 250.6L550.7 251.8L551.2 252.3L551.7 252.4L552.2 252.4L552.6 252.5L553.1 252.4L553.6 252.3L554.1 252.3L554.5 252.5L555.0 252.4L555.5 252.2L556.0 252.3L556.5 252.1L556.9 251.7L557.4 251.0L557.9 249.7L558.4 247.3L558.8 244.9L559.3 243.5L559.8 244.3L560.3 247.5L560.7 252.7L561.2 258.0L561.7 262.0L562.2 263.4L562.6 261.9L563.1 258.9L563.6 255.9L564.1 254.2L564.5 253.1L565.0 252.7L565.5 252.4L566.0 252.4L566.4 252.4L566.9 252.2L567.4 252.3L567.9 252.2L568.3 252.2L568.8 252.0L569.3 252.2L569.8 252.5L570.2 252.6L570.7 252.7L571.2 252.7L571.7 252.8L572.1 252.6L572.6 252.3L573.1 252.3L573.6 252.2L574.0 252.1L574.5 252.0L575.0 252.3L575.5 252.2L575.9 252.1L576.4 251.9L576.9 251.2L577.4 249.8L577.8 247.7L578.3 245.8L578.8 244.8L579.3 245.2L579.7 247.0L580.2 249.3L580.7 251.2L581.2 252.5L581.6 253.9L582.1 255.3L582.6 256.6L583.1 256.8L583.5 256.2L584.0 255.0L584.5 253.8L585.0 252.7L585.4 252.1L585.9 252.1L586.4 251.9L586.9 251.9L587.3 251.8L587.8 251.8L588.3 251.9L588.8 251.9L589.2 252.2L589.7 252.3L590.2 252.3L590.7 252.5L591.1 252.4L591.6 252.2L592.1 252.3L592.6 252.3L593.0 252.3L593.5 252.3L594.0 252.3L594.5 252.3L594.9 252.3L595.4 252.3L595.9 252.3L596.4 252.3L596.8 252.3L597.3 252.3L597.8 252.3L598.3 252.3L598.7 252.3L599.2 252.3L599.7 252.3L600.2 252.3L600.6 252.3L601.1 252.3L601.6 252.3L602.1 252.3L602.5 252.3L603.0 252.3L603.5 252.3L604.0 252.3L604.4 252.3L604.9 252.3L605.4 252.3L605.9 252.3L606.3 252.3L606.8 252.3L607.3 252.3L607.8 252.3L608.2 252.3L608.7 252.3L609.2 252.3L609.7 252.3L610.1 252.3L610.6 252.3L611.1 252.3L611.6 252.3L612.0 252.3L612.5 252.3L613.0 252.3L613.5 252.3L613.9 252.3L614.4 252.3L614.9 252.3L615.4 252.3L615.9 252.3L616.3 252.3L616.8 252.3L617.3 252.3L617.8 252.3L618.2 252.3L618.7 252.3L619.2 252.3L619.7 252.3L620.1 252.3L620.6 252.3L621.1 252.3L621.6 252.3L622.0 252.3L622.5 252.3L623.0 252.3L623.5 252.3L623.9 252.3L624.4 252.3L624.9 252.3L625.4 252.3L625.8 252.3L626.3 252.3L626.8 252.3L627.3 252.3L627.7 252.3" stroke="#9467bd"/>
<path d="M199.1 252.3L199.6 252.3L200.1 252.3L200.5 252.3L201.0 252.3L201.5 252.3L202.0 252.3L202.4 252.3L202.9 252.3L203.4 252.3L203.9 252.3L204.3 252.3L204.8 252.3L205.3 252.3L205.8 252.3L206.2 252.3L206.7 252.3L207.2 252.3L207.7 252.3L208.1 252.3L208.6 252.3L209.1 252.3L209.6 252.3L210.0 252.3L210.5 252.3L211.0 252.3L211.5 252.3L211.9 252.3L212.4 252.3L212.9 252.3L213.4 252.3L213.8 252.3L214.3 252.3L214.8 252.3L215.3 252.3L215.7 252.3L216.2 252.3L216.7 252.3L217.2 252.3L217.6 252.3L218.1 252.3L218.6 252.3L219.1 252.3L219.5 252.3L220.0 252.3L220.5 252.3L221.0 252.3L221.4 252.3L221.9 252.3L222.4 252.3L222.9 252.3L223.3 252.3L223.8 252.3L224.3 252.3L224.8 252.3L225.2 252.3L225.7 252.3L226.2 252.3L226.7 252.3L227.1 252.3L227.6 252.3L228.1 252.3L228.6 252.3L229.0 252.3L229.5 252.3L230.0 252.3L230.5 252.3L230.9 252.3L231.4 252.3L231.9 252.3L232.4 252.3L232.8 252.3L233.3 252.3L233.8 252.3L234.3 252.3L234.7 252.3L235.2 252.3L235.7 252.3L236.2 252.3L236.6 252.3L237.1 252.3L237.6 252.3L238.1 252.3L238.5 252.3L239.0 252.3L239.5 252.3L240.0 252.3L240.4 252.3L240.9 252.3L241.4 252.3L241.9 252.3L242.3 252.3L242.8 252.3L243.3 252.3L243.8 252.3L244.2 252.3L244.7 252.3L245.2 252.3L245.7 252.3L246.1 252.3L246.6 252.3L247.1 252.3L247.6 252.3L248.0 252.3L248.5 252.3L249.0 252.3L249.5 252.3L249.9 252.3L250.4 252.3L250.9 252.3L251.4 252.3L251.8 252.3L252.3 252.2L252.8 252.2L253.3 252.2L253.7 252.3L254.2 252.3L254.7 252.1L255.2 252.0L255.6 251.9L256.1 251.8L256.6 251.7L257.1 251.8L257.5 252.1L258.0 252.9L258.5 255.0L259.0 261.7L259.5 275.5L259.9 291.6L260.4 299.3L260.9 290.7L261.4 270.5L261.8 248.2L262.3 229.3L262.8 218.5L263.3 217.1L263.7 220.1L264.2 222.3L264.7 223.1L265.2 223.6L265.6 223.6L266.1 224.5L266.6 226.5L267.1 230.1L267.5 235.0L268.0 240.9L268.5 245.8L269.0 249.1L269.4 251.7L269.9 255.0L270.4 259.6L270.9 264.8L271.3 269.3L271.8 270.5L272.3 267.6L272.8 262.6L273.2 257.8L273.7 254.7L274.2 253.1L274.7 252.4L275.1 252.2L275.6 252.1L276.1 252.1L276.6 252.2L277.0 252.0L277.5 252.0L278.0 252.1L278.5 252.1L278.9 252.3L279.4 252.3L279.9 252.2L280.4 252.2L280.8 252.1L281.3 252.0L281.8 252.1L282.3 252.2L282.7 252.0L283.2 252.2L283.7 252.3L284.2 252.3L284.6 252.2L285.1 252.4L285.6 252.2L286.1 251.9L286.5 252.1L287.0 251.9L287.5 251.9L288.0 252.1L288.4 252.1L288.9 252.0L289.4 252.3L289.9 252.6L290.3 252.5L290.8 252.6L291.3 253.2L291.8 255.8L292.2 263.7L292.7 279.4L293.2 297.3L293.7 304.5L294.1 294.5L294.6 275.0L295.1 257.1L295.6 242.5L296.0 228.3L296.5 216.0L297.0 211.6L297.5 214.3L297.9 217.8L298.4 219.3L298.9 219.7L299.4 219.9L299.8 220.9L300.3 222.7L300.8 226.6L301.3 232.3L301.7 239.2L302.2 245.9L302.7 251.7L303.2 257.5L303.6 263.2L304.1 267.8L304.6 269.2L305.1 267.0L305.5 262.3L306.0 258.1L306.5 254.8L307.0 253.3L307.4 252.7L307.9 252.3L308.4 252.3L308.9 252.3L309.3 252.2L309.8 252.1L310.3 252.3L310.8 252.2L311.2 252.3L311.7 252.3L312.2 252.2L312.7 252.3L313.1 252.3L313.6 252.5L314.1 252.5L314.6 252.6L315.0 252.5L315.5 252.4L316.0 252.3L316.5 252.3L316.9 252.2L317.4 252.0L317.9 252.0L318.4 252.1L318.9 252.1L319.3 252.0L319.8 252.2L320.3 252.4L320.8 252.3L321.2 252.4L321.7 252.5L322.2 252.4L322.7 252.6L323.1 252.4L323.6 252.5L324.1 252.6L324.6 252.6L325.0 252.5L325.5 252.7L326.0 252.6L326.5 252.5L326.9 252.7L327.4 252.8L327.9 252.7L328.4 253.6L328.8 256.8L329.3 265.6L329.8 282.0L330.3 299.7L330.7 305.6L331.2 293.5L331.7 271.0L332.2 248.4L332.6 230.8L333.1 221.3L333.6 220.2L334.1 222.1L334.5 222.9L335.0 222.2L335.5 221.9L336.0 222.0L336.4 222.3L336.9 223.4L337.4 225.6L337.9 229.3L338.3 234.9L338.8 241.0L339.3 247.1L339.8 253.0L340.2 258.6L340.7 264.2L341.2 268.1L341.7 268.6L342.1 265.7L342.6 261.0L343.1 256.9L343.6 254.3L344.0 253.2L344.5 252.6L345.0 252.4L345.5 252.4L345.9 252.4L346.4 252.3L346.9 252.3L347.4 252.3L347.8 252.3L348.3 252.4L348.8 252.3L349.3 252.1L349.7 252.1L350.2 252.0L350.7 252.1L351.2 252.2L351.6 252.1L352.1 252.4L352.6 252.6L353.1 252.4L353.5 252.3L354.0 252.4L354.5 252.6L355.0 252.3L355.4 252.2L355.9 252.6L356.4 252.4L356.9 252.4L357.3 252.4L357.8 252.4L358.3 252.5L358.8 252.5L359.2 252.4L359.7 252.3L360.2 252.3L360.7 252.2L361.1 252.2L361.6 252.3L362.1 253.1L362.6 256.2L363.0 264.4L363.5 279.3L364.0 294.3L364.5 297.7L364.9 284.9L365.4 262.5L365.9 239.5L366.4 221.5L366.8 213.1L367.3 213.8L367.8 217.3L368.3 219.1L368.7 219.4L369.2 219.9L369.7 220.7L370.2 222.3L370.6 225.4L371.1 230.6L371.6 237.0L372.1 243.1L372.5 247.5L373.0 251.2L373.5 255.2L374.0 260.1L374.4 265.7L374.9 270.1L375.4 270.6L375.9 267.3L376.3 262.5L376.8 257.7L377.3 254.7L377.8 253.2L378.3 252.6L378.7 252.2L379.2 252.0L379.7 252.2L380.2 252.1L380.6 252.3L381.1 252.4L381.6 252.5L382.1 252.6L382.5 252.8L383.0 252.7L383.5 252.4L384.0 252.2L384.4 252.2L384.9 252.1L385.4 252.1L385.9 252.2L386.3 252.3L386.8 252.4L387.3 252.4L387.8 252.4L388.2 252.4L388.7 252.4L389.2 252.4L389.7 252.5L390.1 252.4L390.6 252.3L391.1 252.3L391.6 252.2L392.0 252.1L392.5 252.2L393.0 252.2L393.5 252.4L393.9 252.3L394.4 252.6L394.9 252.8L395.4 254.8L395.8 261.0L396.3 273.6L396.8 289.2L397.3 297.4L397.7 290.7L398.2 274.3L398.7 258.6L399.2 246.7L399.6 235.2L400.1 222.5L400.6 213.8L401.1 213.2L401.5 216.9L402.0 219.9L402.5 220.8L403.0 221.2L403.4 222.0L403.9 223.6L404.4 226.8L404.9 232.0L405.3 238.5L405.8 244.4L406.3 248.8L406.8 252.2L407.2 255.7L407.7 259.9L408.2 264.2L408.7 266.9L409.1 266.7L409.6 263.5L410.1 259.2L410.6 255.6L411.0 253.7L411.5 252.6L412.0 252.4L412.5 252.2L412.9 252.5L413.4 252.4L413.9 252.4L414.4 252.5L414.8 252.4L415.3 252.3L415.8 252.3L416.3 252.4L416.7 252.4L417.2 252.3L417.7 252.4L418.2 252.3L418.6 252.1L419.1 252.2L419.6 252.3L420.1 252.4L420.5 252.5L421.0 252.6L421.5 252.6L422.0 252.5L422.4 252.6L422.9 252.6L423.4 252.6L423.9 252.3L424.3 252.3L424.8 252.1L425.3 252.0L425.8 252.0L426.2 252.2L426.7 252.2L427.2 252.3L427.7 252.3L428.1 252.3L428.6 252.2L429.1 252.4L429.6 253.9L430.0 258.0L430.5 267.9L431.0 281.5L431.5 290.6L431.9 287.1L432.4 272.8L432.9 255.9L433.4 239.5L433.8 223.4L434.3 211.5L434.8 209.0L435.3 213.6L435.7 218.3L436.2 220.4L436.7 221.3L437.2 222.2L437.7 223.7L438.1 226.8L438.6 231.4L439.1 237.3L439.6 243.1L440.0 248.0L440.5 251.8L441.0 255.4L441.5 259.8L441.9 263.7L442.4 265.9L442.9 265.0L443.4 261.6L443.8 257.8L444.3 254.9L444.8 253.3L445.3 252.5L445.7 252.4L446.2 252.4L446.7 252.3L447.2 252.5L447.6 252.6L448.1 252.4L448.6 252.4L449.1 252.4L449.5 252.3L450.0 252.2L450.5 252.1L451.0 252.0L451.4 252.1L451.9 252.1L452.4 252.2L452.9 252.3L453.3 252.4L453.8 252.4L454.3 252.5L454.8 252.4L455.2 252.7L455.7 252.5L456.2 252.4L456.7 252.2L457.1 252.4L457.6 252.3L458.1 252.1L458.6 252.2L459.0 252.4L459.5 252.5L460.0 252.5L460.5 252.6L460.9 252.7L461.4 252.4L461.9 252.3L462.4 252.3L462.8 252.3L463.3 252.3L463.8 252.5L464.3 253.6L464.7 256.7L465.2 266.0L465.7 282.9L466.2 300.4L466.6 305.4L467.1 293.4L467.6 273.6L468.1 257.0L468.5 244.3L469.0 230.7L469.5 217.4L470.0 211.2L470.4 213.7L470.9 218.2L471.4 220.5L471.9 220.7L472.3 221.1L472.8 221.7L473.3 223.1L473.8 226.3L474.2 231.5L474.7 237.9L475.2 243.7L475.7 248.4L476.1 251.8L476.6 255.2L477.1 259.3L477.6 263.5L478.0 266.0L478.5 265.6L479.0 262.6L479.5 258.8L479.9 255.5L480.4 253.7L480.9 252.8L481.4 252.4L481.8 252.4L482.3 252.4L482.8 252.3L483.3 252.3L483.7 252.3L484.2 252.5L484.7 252.4L485.2 252.3L485.6 252.3L486.1 252.2L486.6 252.1L487.1 251.9L487.5 252.1L488.0 252.0L488.5 252.0L489.0 252.0L489.4 252.2L489.9 252.2L490.4 251.9L490.9 252.0L491.3 252.0L491.8 251.9L492.3 251.9L492.8 251.7L493.2 251.8L493.7 252.0L494.2 252.2L494.7 252.3L495.1 252.3L495.6 252.4L496.1 252.6L496.6 252.5L497.1 252.4L497.5 252.4L498.0 252.4L498.5 252.5L499.0 252.4L499.4 252.5L499.9 252.5L500.4 252.6L500.9 252.3L501.3 252.2L501.8 252.1L502.3 252.3L502.8 253.2L503.2 257.2L503.7 267.5L504.2 283.8L504.7 298.0L505.1 298.5L505.6 283.8L506.1 264.2L506.6 247.2L507.0 232.5L507.5 219.3L508.0 212.2L508.5 212.5L508.9 216.0L509.4 218.2L509.9 219.3L510.4 219.8L510.8 220.9L511.3 223.3L511.8 227.5L512.3 233.6L512.7 240.2L513.2 246.4L513.7 251.7L514.2 256.7L514.6 261.6L515.1 265.4L515.6 266.3L516.1 264.3L516.5 260.4L517.0 256.7L517.5 254.2L518.0 252.8L518.4 252.2L518.9 252.2L519.4 252.1L519.9 252.1L520.3 252.0L520.8 252.1L521.3 252.3L521.8 252.2L522.2 252.4L522.7 252.3L523.2 252.4L523.7 252.2L524.1 252.2L524.6 252.1L525.1 252.2L525.6 252.1L526.0 252.1L526.5 252.3L527.0 252.2L527.5 252.0L527.9 252.1L528.4 252.1L528.9 251.9L529.4 252.0L529.8 252.2L530.3 252.5L530.8 252.6L531.3 252.7L531.7 252.8L532.2 252.8L532.7 252.7L533.2 252.6L533.6 252.3L534.1 252.2L534.6 252.0L535.1 252.0L535.5 252.1L536.0 252.2L536.5 252.1L537.0 252.3L537.4 253.4L537.9 256.8L538.4 265.4L538.9 280.2L539.3 294.0L539.8 295.8L540.3 283.0L540.8 264.4L541.2 246.7L541.7 230.7L542.2 218.6L542.7 214.5L543.1 216.3L543.6 218.2L544.1 218.7L544.6 218.4L545.0 218.2L545.5 218.8L546.0 219.8L546.5 222.7L546.9 227.4L547.4 233.8L547.9 240.8L548.4 246.5L548.8 251.2L549.3 255.6L549.8 260.3L550.3 265.2L550.7 268.4L551.2 268.1L551.7 264.7L552.2 260.1L552.6 256.4L553.1 254.3L553.6 253.3L554.1 253.1L554.5 252.9L555.0 252.6L555.5 252.5L556.0 252.5L556.5 252.4L556.9 252.1L557.4 252.2L557.9 252.2L558.4 252.3L558.8 252.2L559.3 252.2L559.8 252.3L560.3 252.3L560.7 252.4L561.2 252.2L561.7 252.2L562.2 252.0L562.6 252.3L563.1 252.2L563.6 252.3L564.1 252.3L564.5 252.2L565.0 252.2L565.5 252.5L566.0 252.6L566.4 252.7L566.9 252.7L567.4 252.6L567.9 252.3L568.3 252.0L568.8 252.1L569.3 252.0L569.8 251.8L570.2 251.9L570.7 252.0L571.2 252.0L571.7 252.0L572.1 252.3L572.6 252.4L573.1 252.4L573.6 252.6L574.0 252.5L574.5 252.5L575.0 253.3L575.5 255.4L575.9 259.2L576.4 264.5L576.9 269.4L577.4 271.0L577.8 268.0L578.3 262.6L578.8 256.6L579.3 251.8L579.7 248.2L580.2 245.5L580.7 243.8L581.2 242.3L581.6 241.5L582.1 240.8L582.6 240.4L583.1 240.1L583.5 240.1L584.0 240.1L584.5 240.3L585.0 240.6L585.4 241.2L585.9 242.1L586.4 243.5L586.9 245.0L587.3 246.9L587.8 248.5L588.3 249.9L588.8 250.9L589.2 251.3L589.7 251.7L590.2 251.8L590.7 252.2L591.1 252.2L591.6 252.4L592.1 252.3L592.6 252.3L593.0 252.3L593.5 252.3L594.0 252.3L594.5 252.3L594.9 252.3L595.4 252.3L595.9 252.3L596.4 252.3L596.8 252.3L597.3 252.3L597.8 252.3L598.3 252.3L598.7 252.3L599.2 252.3L599.7 252.3L600.2 252.3L600.6 252.3L601.1 252.3L601.6 252.3L602.1 252.3L602.5 252.3L603.0 252.3L603.5 252.3L604.0 252.3L604.4 252.3L604.9 252.3L605.4 252.3L605.9 252.3L606.3 252.3L606.8 252.3L607.3 252.3L607.8 252.3L608.2 252.3L608.7 252.3L609.2 252.3L609.7 252.3L610.1 252.3L610.6 252.3L611.1 252.3L611.6 252.3L612.0 252.3L612.5 252.3L613.0 252.3L613.5 252.3L613.9 252.3L614.4 252.3L614.9 252.3L615.4 252.3L615.9 252.3L616.3 252.3L616.8 252.3L617.3 252.3L617.8 252.3L618.2 252.3L618.7 252.3L619.2 252.3L619.7 252.3L620.1 252.3L620.6 252.3L621.1 252.3L621.6 252.3L622.0 252.3L622.5 252.3L623.0 252.3L623.5 252.3L623.9 252.3L624.4 252.3L624.9 252.3L625.4 252.3L625.8 252.3L626.3 252.3L626.8 252.3L627.3 252.3L627.7 252.3" stroke="#8c564b"/></g>
<rect x="177.6" y="193.0" width="470.8" height="120.9" fill="none" stroke="#222" stroke-width="1"/>
<line x1="174.1" y1="204.6" x2="177.6" y2="204.6" stroke="#222" stroke-width="1"/>
<text font-size="10" text-anchor="end" fill="#222" transform="translate(168.8 208.2) scale(0.85 1)">5</text>
<line x1="174.1" y1="252.3" x2="177.6" y2="252.3" stroke="#222" stroke-width="1"/>
<text font-size="10" text-anchor="end" fill="#222" transform="translate(168.8 255.9) scale(0.85 1)">0</text>
<line x1="174.1" y1="300.0" x2="177.6" y2="300.0" stroke="#222" stroke-width="1"/>
<text font-size="10" text-anchor="end" fill="#222" transform="translate(168.8 303.6) scale(0.85 1)">−5</text>
<line x1="199.1" y1="313.9" x2="199.1" y2="317.4" stroke="#222" stroke-width="1"/>
<text font-size="10.5" text-anchor="middle" fill="#222" transform="translate(199.1 329.9) scale(0.86 1)">0</text>
<line x1="218.1" y1="313.9" x2="218.1" y2="317.4" stroke="#222" stroke-width="1"/>
<text font-size="10.5" text-anchor="middle" fill="#222" transform="translate(218.1 329.9) scale(0.86 1)">80</text>
<line x1="237.1" y1="313.9" x2="237.1" y2="317.4" stroke="#222" stroke-width="1"/>
<text font-size="10.5" text-anchor="middle" fill="#222" transform="translate(237.1 329.9) scale(0.86 1)">160</text>
<line x1="256.1" y1="313.9" x2="256.1" y2="317.4" stroke="#222" stroke-width="1"/>
<text font-size="10.5" text-anchor="middle" fill="#222" transform="translate(256.1 329.9) scale(0.86 1)">240</text>
<line x1="275.1" y1="313.9" x2="275.1" y2="317.4" stroke="#222" stroke-width="1"/>
<text font-size="10.5" text-anchor="middle" fill="#222" transform="translate(275.1 329.9) scale(0.86 1)">320</text>
<line x1="294.1" y1="313.9" x2="294.1" y2="317.4" stroke="#222" stroke-width="1"/>
<text font-size="10.5" text-anchor="middle" fill="#222" transform="translate(294.1 329.9) scale(0.86 1)">400</text>
<line x1="313.1" y1="313.9" x2="313.1" y2="317.4" stroke="#222" stroke-width="1"/>
<text font-size="10.5" text-anchor="middle" fill="#222" transform="translate(313.1 329.9) scale(0.86 1)">480</text>
<line x1="332.2" y1="313.9" x2="332.2" y2="317.4" stroke="#222" stroke-width="1"/>
<text font-size="10.5" text-anchor="middle" fill="#222" transform="translate(332.2 329.9) scale(0.86 1)">560</text>
<line x1="351.2" y1="313.9" x2="351.2" y2="317.4" stroke="#222" stroke-width="1"/>
<text font-size="10.5" text-anchor="middle" fill="#222" transform="translate(351.2 329.9) scale(0.86 1)">640</text>
<line x1="370.2" y1="313.9" x2="370.2" y2="317.4" stroke="#222" stroke-width="1"/>
<text font-size="10.5" text-anchor="middle" fill="#222" transform="translate(370.2 329.9) scale(0.86 1)">720</text>
<line x1="389.2" y1="313.9" x2="389.2" y2="317.4" stroke="#222" stroke-width="1"/>
<text font-size="10.5" text-anchor="middle" fill="#222" transform="translate(389.2 329.9) scale(0.86 1)">800</text>
<line x1="408.2" y1="313.9" x2="408.2" y2="317.4" stroke="#222" stroke-width="1"/>
<text font-size="10.5" text-anchor="middle" fill="#222" transform="translate(408.2 329.9) scale(0.86 1)">880</text>
<line x1="427.2" y1="313.9" x2="427.2" y2="317.4" stroke="#222" stroke-width="1"/>
<text font-size="10.5" text-anchor="middle" fill="#222" transform="translate(427.2 329.9) scale(0.86 1)">960</text>
<line x1="446.2" y1="313.9" x2="446.2" y2="317.4" stroke="#222" stroke-width="1"/>
<text font-size="10.5" text-anchor="middle" fill="#222" transform="translate(446.2 329.9) scale(0.86 1)">1040</text>
<line x1="465.2" y1="313.9" x2="465.2" y2="317.4" stroke="#222" stroke-width="1"/>
<text font-size="10.5" text-anchor="middle" fill="#222" transform="translate(465.2 329.9) scale(0.86 1)">1120</text>
<line x1="484.2" y1="313.9" x2="484.2" y2="317.4" stroke="#222" stroke-width="1"/>
<text font-size="10.5" text-anchor="middle" fill="#222" transform="translate(484.2 329.9) scale(0.86 1)">1200</text>
<line x1="503.2" y1="313.9" x2="503.2" y2="317.4" stroke="#222" stroke-width="1"/>
<text font-size="10.5" text-anchor="middle" fill="#222" transform="translate(503.2 329.9) scale(0.86 1)">1280</text>
<line x1="522.2" y1="313.9" x2="522.2" y2="317.4" stroke="#222" stroke-width="1"/>
<text font-size="10.5" text-anchor="middle" fill="#222" transform="translate(522.2 329.9) scale(0.86 1)">1360</text>
<line x1="541.2" y1="313.9" x2="541.2" y2="317.4" stroke="#222" stroke-width="1"/>
<text font-size="10.5" text-anchor="middle" fill="#222" transform="translate(541.2 329.9) scale(0.86 1)">1440</text>
<line x1="560.3" y1="313.9" x2="560.3" y2="317.4" stroke="#222" stroke-width="1"/>
<text font-size="10.5" text-anchor="middle" fill="#222" transform="translate(560.3 329.9) scale(0.86 1)">1520</text>
<line x1="579.3" y1="313.9" x2="579.3" y2="317.4" stroke="#222" stroke-width="1"/>
<text font-size="10.5" text-anchor="middle" fill="#222" transform="translate(579.3 329.9) scale(0.86 1)">1600</text>
<line x1="598.3" y1="313.9" x2="598.3" y2="317.4" stroke="#222" stroke-width="1"/>
<text font-size="10.5" text-anchor="middle" fill="#222" transform="translate(598.3 329.9) scale(0.86 1)">1680</text>
<line x1="617.3" y1="313.9" x2="617.3" y2="317.4" stroke="#222" stroke-width="1"/>
<text font-size="10.5" text-anchor="middle" fill="#222" transform="translate(617.3 329.9) scale(0.86 1)">1760</text>
<text font-size="11.3" text-anchor="middle" textLength="27.3" lengthAdjust="spacingAndGlyphs" fill="#222" transform="translate(154.6 255.5) rotate(-90)">rad/s</text>
<rect x="655" y="197.3" width="82.8" height="92.6" rx="2" fill="#fff" stroke="#d9d9d9" stroke-width="1"/>
<line x1="658.2" y1="206.3" x2="681.3" y2="206.3" stroke="#1f77b4" stroke-width="1.6"/>
<text x="690" y="210.1" font-family='"Liberation Mono", monospace' font-size="11" textLength="42" lengthAdjust="spacingAndGlyphs" fill="#222">f_rot_rx</text>
<line x1="658.2" y1="221.0" x2="681.3" y2="221.0" stroke="#ff7f0e" stroke-width="1.6"/>
<text x="690" y="224.8" font-family='"Liberation Mono", monospace' font-size="11" textLength="42" lengthAdjust="spacingAndGlyphs" fill="#222">f_rot_ry</text>
<line x1="658.2" y1="235.7" x2="681.3" y2="235.7" stroke="#2ca02c" stroke-width="1.6"/>
<text x="690" y="239.5" font-family='"Liberation Mono", monospace' font-size="11" textLength="42" lengthAdjust="spacingAndGlyphs" fill="#222">f_rot_rz</text>
<line x1="658.2" y1="250.4" x2="681.3" y2="250.4" stroke="#d62728" stroke-width="1.6"/>
<text x="690" y="254.2" font-family='"Liberation Mono", monospace' font-size="11" textLength="42" lengthAdjust="spacingAndGlyphs" fill="#222">f_rot_lx</text>
<line x1="658.2" y1="265.1" x2="681.3" y2="265.1" stroke="#9467bd" stroke-width="1.6"/>
<text x="690" y="268.9" font-family='"Liberation Mono", monospace' font-size="11" textLength="42" lengthAdjust="spacingAndGlyphs" fill="#222">f_rot_ly</text>
<line x1="658.2" y1="279.8" x2="681.3" y2="279.8" stroke="#8c564b" stroke-width="1.6"/>
<text x="690" y="283.6" font-family='"Liberation Mono", monospace' font-size="11" textLength="42" lengthAdjust="spacingAndGlyphs" fill="#222">f_rot_lz</text>
<g fill="none" stroke="#111" stroke-width="1">
<rect x="216.7" y="28.4" width="59" height="318.8"/>
<path d="M224.3 28.4V347.2M237.3 28.4V347.2" stroke-dasharray="5 4 1 3 1 3"/>
<path d="M283.3 28.4V347.2M296.6 28.4V347.2" stroke-dasharray="3 4 1 4 1 4"/>
<path d="M275.7 28.4H296.6M275.7 347.2H296.6" stroke-dasharray="6 3 1 3"/>
<rect x="558.3" y="27.9" width="59.2" height="319.3"/>
<path d="M548.8 27.9V347.2M608.3 27.9V347.2" stroke-dasharray="6 3 1 3"/>
<path d="M548.8 27.9H558.3M548.8 347.2H558.3" stroke-dasharray="6 3 1 3"/>
</g>
<g fill="none" stroke="#666" stroke-width="1.3">
<path d="M246.7 347.2V377.7H104.6V415"/>
<path d="M253.7 347.2V377.7H305.2V415"/>
<path d="M587.9 347.2V417"/>
</g>
<g fill="#666">
<path d="M101.0 414.1L108.2 414.1L104.6 421.1Z"/>
<path d="M301.6 414.1L308.8 414.1L305.2 421.1Z"/>
<path d="M584.3 416.1L591.5 416.1L587.9 423.1Z"/>
</g>
<path d="M355.5 350H478.3V338.4L491.1 362.6L478.3 387V375.1H355.5Z" fill="#4472c4"/>
<text x="422" y="366.9" font-family='"Liberation Serif", serif' font-size="15" text-anchor="middle" fill="#fff">sliding window</text>
<rect x="435.1" y="466.6" width="2.9" height="2.9" fill="#000"/>
<rect x="441.6" y="466.6" width="2.9" height="2.9" fill="#000"/>
<rect x="448.0" y="466.6" width="2.9" height="2.9" fill="#000"/>
<rect x="454.5" y="466.6" width="2.9" height="2.9" fill="#000"/>
<rect x="460.9" y="466.6" width="2.9" height="2.9" fill="#000"/>
<rect x="467.4" y="466.6" width="2.9" height="2.9" fill="#000"/>
<svg x="19.3" y="423.9" width="139.9" height="85.5" viewBox="19.3 423.9 139.9 85.5" overflow="hidden"><g fill="none" stroke-width="1.15" stroke-opacity="0.85"><path d="M25.4 478.2L26.3 478.2L27.2 478.2L28.1 478.2L29.0 478.2L29.9 478.2L30.8 478.2L31.7 478.2L32.6 478.2L33.5 478.2L34.4 478.2L35.3 478.2L36.2 478.2L37.1 478.2L38.0 478.2L38.9 478.2L39.8 478.2L40.7 478.2L41.6 478.2L42.5 478.2L43.4 478.2L44.3 478.2L45.2 478.2L46.1 478.2L47.0 478.2L48.0 478.2L48.9 478.2L49.8 478.2L50.7 478.2L51.6 478.2L52.5 478.2L53.4 478.2L54.3 478.2L55.2 478.2L56.1 478.2L57.0 478.2L57.9 478.3L58.8 478.4L59.7 478.7L60.6 479.3L61.5 480.3L62.4 481.7L63.3 483.7L64.2 485.6L65.1 487.1L66.0 487.8L66.9 487.3L67.8 486.0L68.7 483.7L69.6 480.7L70.5 476.9L71.4 472.5L72.3 468.7L73.2 466.7L74.1 467.4L75.0 470.1L75.9 473.4L76.8 476.0L77.7 477.6L78.6 478.7L79.5 479.7L80.4 481.0L81.3 482.4L82.2 484.3L83.1 486.4L84.0 488.5L84.9 490.2L85.8 491.6L86.7 492.1L87.6 491.4L88.5 490.0L89.4 488.1L90.3 485.9L91.2 483.6L92.1 481.5L93.1 479.5L94.0 478.1L94.9 477.1L95.8 476.8L96.7 477.1L97.6 477.6L98.5 477.9L99.4 478.0L100.3 478.2L101.2 478.2L102.1 478.2L103.0 478.3L103.9 478.3L104.8 478.3L105.7 478.2L106.6 478.2L107.5 478.3L108.4 478.3L109.3 478.3L110.2 478.2L111.1 478.3L112.0 478.3L112.9 478.5L113.8 478.7L114.7 479.1L115.6 479.3L116.5 479.3L117.4 479.3L118.3 479.3L119.2 479.1L120.1 478.8L121.0 478.6L121.9 478.5L122.8 478.3L123.7 478.3L124.6 478.4L125.5 479.1L126.4 480.4L127.3 482.3L128.2 485.1L129.1 488.5L130.0 491.9L130.9 494.6L131.8 495.2L132.7 493.0L133.6 487.5L134.5 478.9L135.4 468.8L136.3 460.3L137.2 457.0L138.2 459.3L139.1 465.2L140.0 471.1L140.9 475.1L141.8 477.5L142.7 478.8L143.6 479.8L144.5 480.9L145.4 482.7L146.3 484.9L147.2 487.3L148.1 490.1L149.0 492.6L149.9 494.5L150.8 495.5L151.7 495.5" stroke="#1f77b4"/>
<path d="M25.4 468.9L26.3 468.9L27.2 468.9L28.1 468.9L29.0 468.9L29.9 468.9L30.8 468.9L31.7 468.9L32.6 468.9L33.5 468.9L34.4 468.9L35.3 468.9L36.2 468.9L37.1 468.9L38.0 468.9L38.9 468.9L39.8 468.9L40.7 468.9L41.6 468.9L42.5 468.9L43.4 468.9L44.3 468.9L45.2 468.9L46.1 468.9L47.0 468.9L48.0 468.9L48.9 468.9L49.8 468.9L50.7 468.9L51.6 468.9L52.5 468.9L53.4 468.9L54.3 468.9L55.2 468.9L56.1 468.9L57.0 468.9L57.9 468.9L58.8 468.9L59.7 468.9L60.6 468.9L61.5 469.0L62.4 469.1L63.3 469.3L64.2 469.7L65.1 470.1L66.0 470.8L66.9 471.8L67.8 473.3L68.7 474.8L69.6 476.6L70.5 478.1L71.4 478.9L72.3 478.7L73.2 477.8L74.1 476.1L75.0 474.2L75.9 472.1L76.8 470.4L77.7 469.1L78.6 468.1L79.5 467.4L80.4 467.0L81.3 466.9L82.2 467.1L83.1 467.6L84.0 468.6L84.9 468.1L85.8 464.8L86.7 459.9L87.6 455.7L88.5 453.9L89.4 456.2L90.3 461.4L91.2 466.8L92.1 470.5L93.1 472.0L94.0 471.9L94.9 470.9L95.8 469.8L96.7 469.1L97.6 468.7L98.5 468.5L99.4 468.8L100.3 468.8L101.2 468.9L102.1 469.0L103.0 468.8L103.9 468.7L104.8 468.6L105.7 468.6L106.6 468.7L107.5 468.7L108.4 468.8L109.3 468.7L110.2 468.6L111.1 468.6L112.0 468.5L112.9 468.5L113.8 468.3L114.7 468.0L115.6 467.7L116.5 467.5L117.4 467.2L118.3 467.0L119.2 467.0L120.1 467.2L121.0 467.5L121.9 467.6L122.8 468.0L123.7 468.3L124.6 468.5L125.5 468.8L126.4 468.8L127.3 469.0L128.2 469.1L129.1 469.4L130.0 469.8L130.9 470.1L131.8 470.5L132.7 470.8L133.6 471.1L134.5 471.2L135.4 471.2L136.3 471.0L137.2 470.6L138.2 469.9L139.1 469.2L140.0 468.4L140.9 467.3L141.8 466.4L142.7 465.8L143.6 465.3L144.5 465.0L145.4 465.1L146.3 465.4L147.2 465.8L148.1 466.0L149.0 466.6L149.9 466.3L150.8 461.4L151.7 451.5" stroke="#ff7f0e"/>
<path d="M25.4 459.5L26.3 459.5L27.2 459.5L28.1 459.5L29.0 459.5L29.9 459.5L30.8 459.5L31.7 459.5L32.6 459.5L33.5 459.5L34.4 459.5L35.3 459.5L36.2 459.5L37.1 459.5L38.0 459.5L38.9 459.5L39.8 459.5L40.7 459.5L41.6 459.5L42.5 459.5L43.4 459.5L44.3 459.5L45.2 459.5L46.1 459.5L47.0 459.5L48.0 459.5L48.9 459.5L49.8 459.5L50.7 459.5L51.6 459.5L52.5 459.5L53.4 459.5L54.3 459.5L55.2 459.5L56.1 459.5L57.0 459.5L57.9 459.5L58.8 459.5L59.7 459.4L60.6 459.3L61.5 458.9L62.4 458.3L63.3 457.5L64.2 457.5L65.1 458.0L66.0 458.6L66.9 459.2L67.8 459.6L68.7 459.8L69.6 460.1L70.5 460.5L71.4 460.6L72.3 460.6L73.2 460.3L74.1 459.9L75.0 459.7L75.9 459.6L76.8 459.3L77.7 459.2L78.6 458.8L79.5 458.5L80.4 458.2L81.3 458.3L82.2 458.5L83.1 458.8L84.0 459.0L84.9 459.2L85.8 459.1L86.7 458.5L87.6 457.7L88.5 457.4L89.4 458.0L90.3 459.4L91.2 460.5L92.1 461.0L93.1 460.9L94.0 460.2L94.9 459.8L95.8 459.3L96.7 459.0L97.6 458.9L98.5 458.8L99.4 458.7L100.3 458.7L101.2 458.9L102.1 459.2L103.0 459.3L103.9 459.4L104.8 459.4L105.7 459.3L106.6 459.4L107.5 459.3L108.4 459.4L109.3 459.4L110.2 459.2L111.1 458.7L112.0 457.9L112.9 457.2L113.8 456.7L114.7 456.9L115.6 457.6L116.5 458.4L117.4 459.1L118.3 459.4L119.2 459.7L120.1 460.0L121.0 460.4L121.9 461.0L122.8 461.4L123.7 461.1L124.6 460.6L125.5 459.8L126.4 459.0L127.3 458.1L128.2 456.8L129.1 455.8L130.0 456.0L130.9 457.4L131.8 458.5L132.7 459.5L133.6 459.9L134.5 460.7L135.4 461.2L136.3 461.8L137.2 461.7L138.2 461.1L139.1 460.4L140.0 460.0L140.9 459.6L141.8 459.3L142.7 459.0L143.6 458.5L144.5 457.8L145.4 457.4L146.3 457.4L147.2 457.9L148.1 458.2L149.0 458.7L149.9 458.9L150.8 458.9L151.7 458.3" stroke="#2ca02c"/>
<path d="M25.4 474.8L26.3 474.8L27.2 474.8L28.1 474.8L29.0 474.8L29.9 474.8L30.8 474.8L31.7 474.8L32.6 474.8L33.5 474.8L34.4 474.8L35.3 474.8L36.2 474.8L37.1 474.8L38.0 474.8L38.9 474.8L39.8 474.8L40.7 474.8L41.6 474.8L42.5 474.8L43.4 474.8L44.3 474.8L45.2 474.8L46.1 474.8L47.0 474.8L48.0 474.8L48.9 474.8L49.8 474.8L50.7 474.8L51.6 474.8L52.5 474.8L53.4 474.8L54.3 474.8L55.2 474.8L56.1 474.8L57.0 474.8L57.9 474.8L58.8 474.8L59.7 474.8L60.6 474.8L61.5 474.8L62.4 474.8L63.3 474.8L64.2 474.8L65.1 474.8L66.0 474.8L66.9 474.8L67.8 474.8L68.7 474.8L69.6 474.8L70.5 474.8L71.4 474.8L72.3 474.8L73.2 474.8L74.1 474.8L75.0 474.8L75.9 474.8L76.8 474.8L77.7 474.8L78.6 474.8L79.5 474.8L80.4 474.8L81.3 474.8L82.2 474.8L83.1 474.8L84.0 474.8L84.9 474.8L85.8 474.8L86.7 474.8L87.6 474.8L88.5 474.8L89.4 474.8L90.3 474.8L91.2 474.8L92.1 474.8L93.1 474.7L94.0 474.6L94.9 474.6L95.8 474.7L96.7 474.9L97.6 475.4L98.5 476.4L99.4 478.7L100.3 482.5L101.2 487.1L102.1 491.6L103.0 494.1L103.9 493.5L104.8 489.9L105.7 484.6L106.6 479.0L107.5 473.4L108.4 468.1L109.3 462.8L110.2 458.2L111.1 455.2L112.0 454.7L112.9 456.8L113.8 461.1L114.7 466.3L115.6 471.3L116.5 475.8L117.4 480.0L118.3 484.0L119.2 488.1L120.1 492.4L121.0 496.7L121.9 500.5L122.8 503.3L123.7 504.6L124.6 504.4L125.5 502.5L126.4 499.5L127.3 495.4L128.2 490.9L129.1 486.6L130.0 482.9L130.9 479.7L131.8 477.3L132.7 476.0L133.6 475.0L134.5 474.6L135.4 474.5L136.3 474.6L137.2 474.7L138.2 474.7L139.1 474.8L140.0 474.9L140.9 475.1L141.8 475.1L142.7 475.2L143.6 475.2L144.5 475.2L145.4 475.1L146.3 474.9L147.2 474.8L148.1 474.8L149.0 474.8L149.9 474.8L150.8 474.7L151.7 474.7" stroke="#d62728"/>
<path d="M25.4 434.2L26.3 434.2L27.2 434.2L28.1 434.2L29.0 434.2L29.9 434.2L30.8 434.2L31.7 434.2L32.6 434.2L33.5 434.2L34.4 434.2L35.3 434.2L36.2 434.2L37.1 434.2L38.0 434.2L38.9 434.2L39.8 434.2L40.7 434.2L41.6 434.2L42.5 434.2L43.4 434.2L44.3 434.2L45.2 434.2L46.1 434.2L47.0 434.2L48.0 434.2L48.9 434.2L49.8 434.2L50.7 434.2L51.6 434.2L52.5 434.2L53.4 434.2L54.3 434.2L55.2 434.2L56.1 434.2L57.0 434.2L57.9 434.2L58.8 434.2L59.7 434.2L60.6 434.2L61.5 434.2L62.4 434.2L63.3 434.2L64.2 434.2L65.1 434.2L66.0 434.2L66.9 434.2L67.8 434.2L68.7 434.2L69.6 434.2L70.5 434.2L71.4 434.2L72.3 434.2L73.2 434.2L74.1 434.2L75.0 434.2L75.9 434.2L76.8 434.2L77.7 434.2L78.6 434.2L79.5 434.2L80.4 434.2L81.3 434.2L82.2 434.2L83.1 434.2L84.0 434.2L84.9 434.2L85.8 434.2L86.7 434.2L87.6 434.2L88.5 434.2L89.4 434.1L90.3 434.1L91.2 433.9L92.1 433.6L93.1 433.2L94.0 432.5L94.9 431.4L95.8 430.4L96.7 429.7L97.6 429.1L98.5 428.6L99.4 428.4L100.3 428.2L101.2 428.2L102.1 428.2L103.0 428.2L103.9 428.3L104.8 428.7L105.7 429.4L106.6 430.3L107.5 431.4L108.4 432.4L109.3 433.1L110.2 433.5L111.1 433.9L112.0 434.4L112.9 434.8L113.8 435.6L114.7 436.6L115.6 437.1L116.5 436.8L117.4 435.5L118.3 433.7L119.2 432.5L120.1 431.8L121.0 431.0L121.9 430.6L122.8 432.9L123.7 439.6L124.6 449.0L125.5 456.5L126.4 458.3L127.3 454.3L128.2 446.9L129.1 438.5L130.0 430.7L130.9 425.9L131.8 426.1L132.7 429.4L133.6 432.6L134.5 434.2L135.4 434.9L136.3 435.6L137.2 436.1L138.2 436.3L139.1 436.1L140.0 435.5L140.9 435.1L141.8 434.6L142.7 434.5L143.6 434.4L144.5 434.3L145.4 434.3L146.3 434.3L147.2 434.2L148.1 434.1L149.0 434.2L149.9 434.2L150.8 434.3L151.7 434.2" stroke="#9467bd"/>
<path d="M25.4 452.3L26.3 452.3L27.2 452.3L28.1 452.3L29.0 452.3L29.9 452.3L30.8 452.3L31.7 452.3L32.6 452.3L33.5 452.3L34.4 452.3L35.3 452.3L36.2 452.3L37.1 452.3L38.0 452.3L38.9 452.3L39.8 452.3L40.7 452.3L41.6 452.3L42.5 452.3L43.4 452.3L44.3 452.3L45.2 452.3L46.1 452.3L47.0 452.3L48.0 452.3L48.9 452.3L49.8 452.3L50.7 452.3L51.6 452.3L52.5 452.3L53.4 452.3L54.3 452.3L55.2 452.3L56.1 452.3L57.0 452.3L57.9 452.3L58.8 452.3L59.7 452.3L60.6 452.3L61.5 452.3L62.4 452.3L63.3 452.3L64.2 452.3L65.1 452.3L66.0 452.3L66.9 452.3L67.8 452.3L68.7 452.3L69.6 452.3L70.5 452.3L71.4 452.3L72.3 452.3L73.2 452.3L74.1 452.3L75.0 452.3L75.9 452.3L76.8 452.3L77.7 452.3L78.6 452.3L79.5 452.3L80.4 452.3L81.3 452.3L82.2 452.3L83.1 452.3L84.0 452.3L84.9 452.3L85.8 452.3L86.7 452.3L87.6 452.3L88.5 452.3L89.4 452.3L90.3 452.3L91.2 452.3L92.1 452.3L93.1 452.4L94.0 452.4L94.9 452.2L95.8 452.2L96.7 452.1L97.6 451.9L98.5 451.5L99.4 451.1L100.3 450.2L101.2 449.0L102.1 447.5L103.0 446.1L103.9 445.0L104.8 444.4L105.7 444.3L106.6 445.1L107.5 446.4L108.4 447.8L109.3 449.0L110.2 449.7L111.1 450.0L112.0 449.9L112.9 450.0L113.8 450.4L114.7 450.9L115.6 451.4L116.5 451.9L117.4 452.1L118.3 452.3L119.2 452.5L120.1 452.5L121.0 452.6L121.9 452.6L122.8 452.9L123.7 453.3L124.6 454.2L125.5 455.5L126.4 456.8L127.3 457.8L128.2 457.9L129.1 457.2L130.0 455.9L130.9 454.6L131.8 453.5L132.7 452.7L133.6 452.1L134.5 451.7L135.4 451.3L136.3 451.1L137.2 450.9L138.2 450.8L139.1 450.9L140.0 451.2L140.9 451.5L141.8 451.6L142.7 451.7L143.6 451.8L144.5 451.7L145.4 451.7L146.3 451.5L147.2 451.2L148.1 450.9L149.0 450.9L149.9 450.9L150.8 451.2L151.7 451.5" stroke="#8c564b"/>
<path d="M25.4 454.5L26.3 454.5L27.2 454.5L28.1 454.5L29.0 454.5L29.9 454.5L30.8 454.5L31.7 454.5L32.6 454.5L33.5 454.5L34.4 454.5L35.3 454.5L36.2 454.5L37.1 454.5L38.0 454.5L38.9 454.5L39.8 454.5L40.7 454.5L41.6 454.5L42.5 454.5L43.4 454.5L44.3 454.5L45.2 454.5L46.1 454.5L47.0 454.5L48.0 454.5L48.9 454.5L49.8 454.5L50.7 454.5L51.6 454.5L52.5 454.5L53.4 454.5L54.3 454.5L55.2 454.5L56.1 454.5L57.0 454.5L57.9 454.5L58.8 454.5L59.7 454.5L60.6 454.5L61.5 454.5L62.4 454.5L63.3 454.4L64.2 454.4L65.1 454.5L66.0 454.5L66.9 454.6L67.8 454.6L68.7 454.5L69.6 454.4L70.5 454.1L71.4 453.7L72.3 453.1L73.2 452.9L74.1 453.0L75.0 453.5L75.9 453.9L76.8 454.3L77.7 454.5L78.6 454.6L79.5 454.8L80.4 455.1L81.3 455.4L82.2 455.7L83.1 455.7L84.0 455.3L84.9 454.7L85.8 453.9L86.7 453.2L87.6 452.6L88.5 452.6L89.4 453.0L90.3 453.5L91.2 453.9L92.1 454.3L93.1 454.4L94.0 454.5L94.9 454.5L95.8 454.5L96.7 454.5L97.6 454.5L98.5 454.5L99.4 454.5L100.3 454.5L101.2 454.5L102.1 454.5L103.0 454.5L103.9 454.5L104.8 454.4L105.7 454.4L106.6 454.4L107.5 454.3L108.4 454.3L109.3 454.4L110.2 454.4L111.1 454.5L112.0 454.5L112.9 454.6L113.8 454.6L114.7 454.6L115.6 454.8L116.5 455.3L117.4 455.8L118.3 456.3L119.2 456.6L120.1 456.7L121.0 456.2L121.9 455.8L122.8 455.3L123.7 454.9L124.6 454.6L125.5 454.5L126.4 454.5L127.3 454.5L128.2 454.5L129.1 454.5L130.0 454.5L130.9 454.5L131.8 454.5L132.7 454.4L133.6 454.2L134.5 453.8L135.4 453.0L136.3 452.1L137.2 451.5L138.2 451.5L139.1 452.0L140.0 452.9L140.9 453.7L141.8 454.2L142.7 454.4L143.6 454.7L144.5 455.1L145.4 455.8L146.3 456.4L147.2 456.8L148.1 456.5L149.0 455.6L149.9 454.3L150.8 453.1L151.7 452.4" stroke="#e377c2"/>
<path d="M25.4 454.5L26.3 454.5L27.2 454.5L28.1 454.5L29.0 454.5L29.9 454.5L30.8 454.5L31.7 454.5L32.6 454.5L33.5 454.5L34.4 454.5L35.3 454.5L36.2 454.5L37.1 454.5L38.0 454.5L38.9 454.5L39.8 454.5L40.7 454.5L41.6 454.5L42.5 454.5L43.4 454.5L44.3 454.5L45.2 454.5L46.1 454.5L47.0 454.5L48.0 454.5L48.9 454.5L49.8 454.5L50.7 454.5L51.6 454.5L52.5 454.5L53.4 454.5L54.3 454.5L55.2 454.5L56.1 454.5L57.0 454.5L57.9 454.5L58.8 454.5L59.7 454.5L60.6 454.5L61.5 454.5L62.4 454.5L63.3 454.5L64.2 454.5L65.1 454.5L66.0 454.4L66.9 454.4L67.8 454.4L68.7 454.4L69.6 454.4L70.5 454.4L71.4 454.4L72.3 454.4L73.2 454.4L74.1 454.5L75.0 454.5L75.9 454.5L76.8 454.7L77.7 455.1L78.6 455.7L79.5 456.5L80.4 457.1L81.3 457.0L82.2 456.6L83.1 455.9L84.0 455.2L84.9 454.8L85.8 454.7L86.7 454.7L87.6 454.5L88.5 454.1L89.4 453.4L90.3 452.5L91.2 451.7L92.1 451.6L93.1 452.2L94.0 453.1L94.9 453.8L95.8 454.3L96.7 454.4L97.6 454.5L98.5 454.5L99.4 454.5L100.3 454.5L101.2 454.5L102.1 454.5L103.0 454.6L103.9 454.5L104.8 454.6L105.7 454.6L106.6 454.6L107.5 454.5L108.4 454.5L109.3 454.5L110.2 454.5L111.1 454.5L112.0 454.5L112.9 454.5L113.8 454.5L114.7 454.4L115.6 454.5L116.5 454.4L117.4 454.3L118.3 454.4L119.2 454.4L120.1 454.5L121.0 454.5L121.9 454.5L122.8 454.5L123.7 454.3L124.6 453.7L125.5 452.7L126.4 451.4L127.3 450.5L128.2 450.5L129.1 451.7L130.0 453.2L130.9 454.8L131.8 456.0L132.7 456.9L133.6 457.2L134.5 456.6L135.4 455.9L136.3 455.2L137.2 454.7L138.2 454.6L139.1 454.6L140.0 454.8L140.9 455.2L141.8 456.1L142.7 457.2L143.6 458.2L144.5 458.5L145.4 458.0L146.3 456.9L147.2 455.8L148.1 455.1L149.0 454.6L149.9 454.6L150.8 454.5L151.7 454.5" stroke="#7f7f7f"/>
<path d="M25.4 454.5L26.3 454.5L27.2 454.5L28.1 454.5L29.0 454.5L29.9 454.5L30.8 454.5L31.7 454.5L32.6 454.5L33.5 454.5L34.4 454.5L35.3 454.5L36.2 454.5L37.1 454.5L38.0 454.5L38.9 454.5L39.8 454.5L40.7 454.5L41.6 454.5L42.5 454.5L43.4 454.5L44.3 454.5L45.2 454.5L46.1 454.5L47.0 454.5L48.0 454.5L48.9 454.5L49.8 454.5L50.7 454.5L51.6 454.5L52.5 454.5L53.4 454.5L54.3 454.5L55.2 454.5L56.1 454.5L57.0 454.5L57.9 454.5L58.8 454.5L59.7 454.5L60.6 454.5L61.5 454.5L62.4 454.5L63.3 454.5L64.2 454.3L65.1 453.9L66.0 453.2L66.9 452.3L67.8 451.2L68.7 450.5L69.6 450.7L70.5 451.7L71.4 452.9L72.3 454.0L73.2 455.1L74.1 456.2L75.0 457.3L75.9 458.4L76.8 459.2L77.7 459.5L78.6 459.2L79.5 458.3L80.4 457.2L81.3 456.2L82.2 455.5L83.1 455.0L84.0 454.8L84.9 454.6L85.8 454.5L86.7 454.3L87.6 453.9L88.5 453.0L89.4 451.7L90.3 450.2L91.2 449.4L92.1 449.6L93.1 450.7L94.0 452.1L94.9 453.3L95.8 454.1L96.7 454.4L97.6 454.4L98.5 454.5L99.4 454.5L100.3 454.5L101.2 454.5L102.1 454.5L103.0 454.6L103.9 454.6L104.8 454.6L105.7 454.6L106.6 454.5L107.5 454.6L108.4 454.6L109.3 454.5L110.2 454.5L111.1 454.5L112.0 454.5L112.9 454.5L113.8 454.5L114.7 454.5L115.6 454.5L116.5 454.5L117.4 454.5L118.3 454.5L119.2 454.5L120.1 454.5L121.0 454.5L121.9 454.5L122.8 454.5L123.7 454.4L124.6 454.4L125.5 454.5L126.4 454.5L127.3 454.5L128.2 454.5L129.1 454.5L130.0 454.4L130.9 454.0L131.8 452.8L132.7 450.3L133.6 446.3L134.5 441.9L135.4 439.2L136.3 439.6L137.2 443.0L138.2 447.4L139.1 451.3L140.0 453.8L140.9 455.6L141.8 457.3L142.7 459.2L143.6 461.0L144.5 462.3L145.4 463.0L146.3 463.4L147.2 463.4L148.1 463.2L149.0 462.8L149.9 462.0L150.8 460.5L151.7 458.7" stroke="#bcbd22"/>
<path d="M25.4 454.5L26.3 454.5L27.2 454.5L28.1 454.5L29.0 454.5L29.9 454.5L30.8 454.5L31.7 454.5L32.6 454.5L33.5 454.5L34.4 454.5L35.3 454.5L36.2 454.5L37.1 454.5L38.0 454.5L38.9 454.5L39.8 454.5L40.7 454.5L41.6 454.5L42.5 454.5L43.4 454.5L44.3 454.5L45.2 454.5L46.1 454.5L47.0 454.5L48.0 454.5L48.9 454.5L49.8 454.5L50.7 454.5L51.6 454.5L52.5 454.5L53.4 454.5L54.3 454.5L55.2 454.5L56.1 454.5L57.0 454.5L57.9 454.5L58.8 454.5L59.7 454.5L60.6 454.5L61.5 454.5L62.4 454.5L63.3 454.5L64.2 454.5L65.1 454.5L66.0 454.5L66.9 454.5L67.8 454.5L68.7 454.5L69.6 454.5L70.5 454.5L71.4 454.5L72.3 454.5L73.2 454.5L74.1 454.5L75.0 454.5L75.9 454.5L76.8 454.5L77.7 454.5L78.6 454.5L79.5 454.5L80.4 454.5L81.3 454.5L82.2 454.5L83.1 454.5L84.0 454.5L84.9 454.3L85.8 454.0L86.7 453.5L87.6 452.7L88.5 451.9L89.4 451.6L90.3 451.8L91.2 452.6L92.1 453.4L93.1 454.0L94.0 454.3L94.9 454.4L95.8 454.4L96.7 454.4L97.6 454.4L98.5 454.4L99.4 454.5L100.3 454.5L101.2 454.5L102.1 454.5L103.0 454.5L103.9 454.5L104.8 454.4L105.7 454.4L106.6 454.3L107.5 454.4L108.4 454.4L109.3 454.4L110.2 454.4L111.1 454.5L112.0 454.4L112.9 454.5L113.8 454.8L114.7 455.2L115.6 455.8L116.5 456.3L117.4 456.5L118.3 456.3L119.2 455.7L120.1 455.1L121.0 454.8L121.9 454.6L122.8 454.5L123.7 454.5L124.6 454.4L125.5 454.2L126.4 453.4L127.3 451.9L128.2 450.0L129.1 448.4L130.0 448.3L130.9 449.8L131.8 452.0L132.7 454.2L133.6 456.0L134.5 457.2L135.4 457.9L136.3 457.5L137.2 456.6L138.2 455.6L139.1 455.0L140.0 454.7L140.9 454.6L141.8 454.5L142.7 454.5L143.6 454.4L144.5 454.5L145.4 454.5L146.3 454.4L147.2 454.5L148.1 454.5L149.0 454.5L149.9 454.4L150.8 454.3L151.7 453.9" stroke="#17becf"/>
<path d="M25.4 454.5L26.3 454.5L27.2 454.5L28.1 454.5L29.0 454.5L29.9 454.5L30.8 454.5L31.7 454.5L32.6 454.5L33.5 454.5L34.4 454.5L35.3 454.5L36.2 454.5L37.1 454.5L38.0 454.5L38.9 454.5L39.8 454.5L40.7 454.5L41.6 454.5L42.5 454.5L43.4 454.5L44.3 454.5L45.2 454.5L46.1 454.5L47.0 454.5L48.0 454.5L48.9 454.5L49.8 454.5L50.7 454.5L51.6 454.5L52.5 454.5L53.4 454.5L54.3 454.5L55.2 454.5L56.1 454.5L57.0 454.5L57.9 454.5L58.8 454.5L59.7 454.5L60.6 454.5L61.5 454.5L62.4 454.5L63.3 454.5L64.2 454.5L65.1 454.5L66.0 454.5L66.9 454.5L67.8 454.5L68.7 454.5L69.6 454.5L70.5 454.5L71.4 454.5L72.3 454.5L73.2 454.5L74.1 454.5L75.0 454.5L75.9 454.5L76.8 454.4L77.7 454.3L78.6 454.0L79.5 453.7L80.4 453.5L81.3 453.5L82.2 453.8L83.1 454.2L84.0 454.7L84.9 455.2L85.8 455.6L86.7 455.7L87.6 455.6L88.5 455.2L89.4 454.9L90.3 454.7L91.2 454.6L92.1 454.5L93.1 454.5L94.0 454.4L94.9 454.4L95.8 454.4L96.7 454.5L97.6 454.5L98.5 454.5L99.4 454.5L100.3 454.5L101.2 454.4L102.1 454.4L103.0 454.3L103.9 453.8L104.8 452.8L105.7 451.4L106.6 450.2L107.5 449.9L108.4 450.8L109.3 452.3L110.2 453.8L111.1 455.1L112.0 456.3L112.9 457.2L113.8 457.4L114.7 456.9L115.6 455.9L116.5 455.2L117.4 454.8L118.3 454.6L119.2 454.6L120.1 454.6L121.0 454.5L121.9 454.2L122.8 453.8L123.7 453.2L124.6 452.7L125.5 452.5L126.4 452.7L127.3 453.3L128.2 453.8L129.1 454.2L130.0 454.3L130.9 454.4L131.8 454.4L132.7 454.4L133.6 454.4L134.5 454.4L135.4 454.4L136.3 454.5L137.2 454.5L138.2 454.6L139.1 454.6L140.0 454.6L140.9 454.5L141.8 454.1L142.7 453.5L143.6 452.6L144.5 451.7L145.4 451.2L146.3 451.5L147.2 452.4L148.1 453.7L149.0 455.1L149.9 456.5L150.8 457.6L151.7 458.2" stroke="#1f77b4"/>
<path d="M25.4 454.5L26.3 454.5L27.2 454.5L28.1 454.5L29.0 454.5L29.9 454.5L30.8 454.5L31.7 454.5L32.6 454.5L33.5 454.5L34.4 454.5L35.3 454.5L36.2 454.5L37.1 454.5L38.0 454.5L38.9 454.5L39.8 454.5L40.7 454.5L41.6 454.5L42.5 454.5L43.4 454.5L44.3 454.5L45.2 454.5L46.1 454.5L47.0 454.5L48.0 454.5L48.9 454.5L49.8 454.5L50.7 454.5L51.6 454.5L52.5 454.5L53.4 454.5L54.3 454.5L55.2 454.5L56.1 454.5L57.0 454.5L57.9 454.5L58.8 454.5L59.7 454.5L60.6 454.5L61.5 454.5L62.4 454.5L63.3 454.5L64.2 454.5L65.1 454.5L66.0 454.5L66.9 454.5L67.8 454.5L68.7 454.5L69.6 454.5L70.5 454.5L71.4 454.5L72.3 454.5L73.2 454.5L74.1 454.5L75.0 454.5L75.9 454.5L76.8 454.5L77.7 454.5L78.6 454.5L79.5 454.5L80.4 454.5L81.3 454.5L82.2 454.5L83.1 454.5L84.0 454.5L84.9 454.5L85.8 454.5L86.7 454.5L87.6 454.5L88.5 454.5L89.4 454.5L90.3 454.5L91.2 454.5L92.1 454.5L93.1 454.4L94.0 454.4L94.9 454.4L95.8 454.5L96.7 454.5L97.6 454.5L98.5 454.4L99.4 454.4L100.3 454.4L101.2 454.3L102.1 454.3L103.0 454.4L103.9 454.5L104.8 454.9L105.7 456.2L106.6 459.5L107.5 464.8L108.4 469.2L109.3 469.1L110.2 464.0L111.1 456.8L112.0 449.8L112.9 444.8L113.8 442.9L114.7 443.4L115.6 444.4L116.5 444.8L117.4 445.0L118.3 445.1L119.2 445.2L120.1 445.6L121.0 446.6L121.9 448.0L122.8 449.8L123.7 451.6L124.6 453.0L125.5 453.9L126.4 454.8L127.3 456.1L128.2 457.7L129.1 459.4L130.0 460.4L130.9 460.1L131.8 458.7L132.7 457.0L133.6 455.7L134.5 454.9L135.4 454.6L136.3 454.5L137.2 454.4L138.2 454.5L139.1 454.4L140.0 454.4L140.9 454.4L141.8 454.4L142.7 454.5L143.6 454.5L144.5 454.5L145.4 454.5L146.3 454.5L147.2 454.4L148.1 454.4L149.0 454.4L149.9 454.4L150.8 454.4L151.7 454.4" stroke="#ff7f0e"/></g></svg>
<rect x="19.3" y="423.9" width="139.9" height="85.5" fill="none" stroke="#a6a6a6" stroke-width="1.3"/>
<line x1="17.3" y1="438.9" x2="19.3" y2="438.9" stroke="#777" stroke-width="0.7"/>
<text font-size="6" text-anchor="end" fill="#444" transform="translate(16.3 441.0) scale(0.72 1)">5</text>
<line x1="17.3" y1="454.5" x2="19.3" y2="454.5" stroke="#777" stroke-width="0.7"/>
<text font-size="6" text-anchor="end" fill="#444" transform="translate(16.3 456.6) scale(0.72 1)">0</text>
<line x1="17.3" y1="470.1" x2="19.3" y2="470.1" stroke="#777" stroke-width="0.7"/>
<text font-size="6" text-anchor="end" fill="#444" transform="translate(16.3 472.2) scale(0.72 1)">−5</text>
<line x1="17.3" y1="485.7" x2="19.3" y2="485.7" stroke="#777" stroke-width="0.7"/>
<text font-size="6" text-anchor="end" fill="#444" transform="translate(16.3 487.8) scale(0.72 1)">−10</text>
<line x1="17.3" y1="501.3" x2="19.3" y2="501.3" stroke="#777" stroke-width="0.7"/>
<text font-size="6" text-anchor="end" fill="#444" transform="translate(16.3 503.4) scale(0.72 1)">−15</text>
<line x1="25.4" y1="509.4" x2="25.4" y2="511.4" stroke="#777" stroke-width="0.7"/>
<text font-size="5.5" text-anchor="middle" fill="#444" transform="translate(25.4 516.9) scale(0.8 1)">0</text>
<line x1="61.5" y1="509.4" x2="61.5" y2="511.4" stroke="#777" stroke-width="0.7"/>
<text font-size="5.5" text-anchor="middle" fill="#444" transform="translate(61.5 516.9) scale(0.8 1)">80</text>
<line x1="97.6" y1="509.4" x2="97.6" y2="511.4" stroke="#777" stroke-width="0.7"/>
<text font-size="5.5" text-anchor="middle" fill="#444" transform="translate(97.6 516.9) scale(0.8 1)">160</text>
<line x1="133.6" y1="509.4" x2="133.6" y2="511.4" stroke="#777" stroke-width="0.7"/>
<text font-size="5.5" text-anchor="middle" fill="#444" transform="translate(133.6 516.9) scale(0.8 1)">240</text>
<rect x="160.2" y="425.8" width="38.8" height="83.9" fill="#fff" stroke="#e6e6e6" stroke-width="0.8"/>
<line x1="162.0" y1="430.4" x2="173.0" y2="430.4" stroke="#1f77b4" stroke-width="1.5" stroke-opacity="0.8"/>
<text x="176.7" y="432.4" font-family='"Liberation Mono", monospace' font-size="6" textLength="19.8" lengthAdjust="spacingAndGlyphs" fill="#333">f_acc_rx</text>
<line x1="162.0" y1="437.3" x2="173.0" y2="437.3" stroke="#ff7f0e" stroke-width="1.5" stroke-opacity="0.8"/>
<text x="176.7" y="439.3" font-family='"Liberation Mono", monospace' font-size="6" textLength="19.8" lengthAdjust="spacingAndGlyphs" fill="#333">f_acc_ry</text>
<line x1="162.0" y1="444.1" x2="173.0" y2="444.1" stroke="#2ca02c" stroke-width="1.5" stroke-opacity="0.8"/>
<text x="176.7" y="446.1" font-family='"Liberation Mono", monospace' font-size="6" textLength="19.8" lengthAdjust="spacingAndGlyphs" fill="#333">f_acc_rz</text>
<line x1="162.0" y1="451.0" x2="173.0" y2="451.0" stroke="#d62728" stroke-width="1.5" stroke-opacity="0.8"/>
<text x="176.7" y="453.0" font-family='"Liberation Mono", monospace' font-size="6" textLength="19.8" lengthAdjust="spacingAndGlyphs" fill="#333">f_acc_lx</text>
<line x1="162.0" y1="457.8" x2="173.0" y2="457.8" stroke="#9467bd" stroke-width="1.5" stroke-opacity="0.8"/>
<text x="176.7" y="459.8" font-family='"Liberation Mono", monospace' font-size="6" textLength="19.8" lengthAdjust="spacingAndGlyphs" fill="#333">f_acc_ly</text>
<line x1="162.0" y1="464.7" x2="173.0" y2="464.7" stroke="#8c564b" stroke-width="1.5" stroke-opacity="0.8"/>
<text x="176.7" y="466.7" font-family='"Liberation Mono", monospace' font-size="6" textLength="19.8" lengthAdjust="spacingAndGlyphs" fill="#333">f_acc_lz</text>
<line x1="162.0" y1="471.5" x2="173.0" y2="471.5" stroke="#e377c2" stroke-width="1.5" stroke-opacity="0.8"/>
<text x="176.7" y="473.5" font-family='"Liberation Mono", monospace' font-size="6" textLength="19.8" lengthAdjust="spacingAndGlyphs" fill="#333">f_rot_rx</text>
<line x1="162.0" y1="478.4" x2="173.0" y2="478.4" stroke="#7f7f7f" stroke-width="1.5" stroke-opacity="0.8"/>
<text x="176.7" y="480.4" font-family='"Liberation Mono", monospace' font-size="6" textLength="19.8" lengthAdjust="spacingAndGlyphs" fill="#333">f_rot_ry</text>
<line x1="162.0" y1="485.2" x2="173.0" y2="485.2" stroke="#bcbd22" stroke-width="1.5" stroke-opacity="0.8"/>
<text x="176.7" y="487.2" font-family='"Liberation Mono", monospace' font-size="6" textLength="19.8" lengthAdjust="spacingAndGlyphs" fill="#333">f_rot_rz</text>
<line x1="162.0" y1="492.1" x2="173.0" y2="492.1" stroke="#17becf" stroke-width="1.5" stroke-opacity="0.8"/>
<text x="176.7" y="494.1" font-family='"Liberation Mono", monospace' font-size="6" textLength="19.8" lengthAdjust="spacingAndGlyphs" fill="#333">f_rot_lx</text>
<line x1="162.0" y1="498.9" x2="173.0" y2="498.9" stroke="#1f77b4" stroke-width="1.5" stroke-opacity="0.8"/>
<text x="176.7" y="500.9" font-family='"Liberation Mono", monospace' font-size="6" textLength="19.8" lengthAdjust="spacingAndGlyphs" fill="#333">f_rot_ly</text>
<line x1="162.0" y1="505.8" x2="173.0" y2="505.8" stroke="#ff7f0e" stroke-width="1.5" stroke-opacity="0.8"/>
<text x="176.7" y="507.8" font-family='"Liberation Mono", monospace' font-size="6" textLength="19.8" lengthAdjust="spacingAndGlyphs" fill="#333">f_rot_lz</text>
<text x="104.6" y="531.5" font-family='"Liberation Serif", serif' font-weight="bold" font-size="13" text-anchor="middle" fill="#111">subWindow_0</text>
<svg x="221.4" y="424.4" width="135.9" height="83.3" viewBox="221.4 424.4 135.9 83.3" overflow="hidden"><g fill="none" stroke-width="1.15" stroke-opacity="0.85"><path d="M227.6 478.1L228.5 478.1L229.4 478.1L230.2 478.1L231.1 478.1L232.0 478.1L232.9 478.1L233.8 478.1L234.7 478.1L235.5 478.1L236.4 478.1L237.3 478.1L238.2 478.1L239.1 478.1L239.9 478.1L240.8 478.2L241.7 478.2L242.6 478.3L243.5 478.4L244.4 478.8L245.2 479.6L246.1 480.7L247.0 482.4L247.9 484.2L248.8 485.9L249.7 487.0L250.5 487.1L251.4 486.3L252.3 484.5L253.2 482.0L254.1 478.8L254.9 474.9L255.8 470.9L256.7 467.9L257.6 467.3L258.5 469.1L259.4 472.1L260.2 474.9L261.1 476.9L262.0 478.1L262.9 479.0L263.8 480.1L264.6 481.4L265.5 482.9L266.4 484.9L267.3 486.9L268.2 488.7L269.1 490.2L269.9 491.1L270.8 491.0L271.7 490.1L272.6 488.4L273.5 486.5L274.3 484.3L275.2 482.1L276.1 480.3L277.0 478.6L277.9 477.5L278.8 476.9L279.6 476.9L280.5 477.3L281.4 477.8L282.3 477.9L283.2 478.1L284.0 478.1L284.9 478.1L285.8 478.2L286.7 478.2L287.6 478.3L288.5 478.2L289.3 478.1L290.2 478.2L291.1 478.1L292.0 478.2L292.9 478.1L293.8 478.1L294.6 478.2L295.5 478.3L296.4 478.5L297.3 478.8L298.2 479.0L299.0 479.2L299.9 479.2L300.8 479.2L301.7 479.1L302.6 478.9L303.5 478.6L304.3 478.4L305.2 478.3L306.1 478.2L307.0 478.3L307.9 478.7L308.7 479.6L309.6 481.0L310.5 483.2L311.4 486.1L312.3 489.5L313.2 492.5L314.0 494.2L314.9 493.5L315.8 489.9L316.7 483.1L317.6 474.1L318.4 464.9L319.3 459.0L320.2 458.6L321.1 462.9L322.0 468.8L322.9 473.5L323.7 476.5L324.6 478.2L325.5 479.1L326.4 480.1L327.3 481.5L328.1 483.4L329.0 485.6L329.9 488.0L330.8 490.6L331.7 492.8L332.6 494.1L333.4 494.6L334.3 494.0L335.2 492.4L336.1 490.1L337.0 487.5L337.9 484.9L338.7 482.6L339.6 480.7L340.5 478.9L341.4 477.5L342.3 476.5L343.1 476.1L344.0 476.4L344.9 477.1L345.8 477.8L346.7 477.9L347.6 478.0L348.4 478.0L349.3 477.9L350.2 478.0L351.1 478.1" stroke="#1f77b4"/>
<path d="M227.6 469.3L228.5 469.3L229.4 469.3L230.2 469.3L231.1 469.3L232.0 469.3L232.9 469.3L233.8 469.3L234.7 469.3L235.5 469.3L236.4 469.3L237.3 469.3L238.2 469.3L239.1 469.3L239.9 469.3L240.8 469.3L241.7 469.3L242.6 469.3L243.5 469.4L244.4 469.4L245.2 469.4L246.1 469.5L247.0 469.6L247.9 469.8L248.8 470.2L249.7 470.8L250.5 471.6L251.4 472.8L252.3 474.2L253.2 475.8L254.1 477.3L254.9 478.5L255.8 478.8L256.7 478.3L257.6 477.1L258.5 475.3L259.4 473.4L260.2 471.6L261.1 470.0L262.0 469.0L262.9 468.2L263.8 467.8L264.6 467.5L265.5 467.5L266.4 467.7L267.3 468.6L268.2 469.2L269.1 467.4L269.9 463.3L270.8 458.7L271.7 455.6L272.6 455.9L273.5 459.7L274.3 464.9L275.2 469.3L276.1 471.8L277.0 472.5L277.9 471.8L278.8 470.8L279.6 469.8L280.5 469.2L281.4 469.1L282.3 469.2L283.2 469.3L284.0 469.3L284.9 469.3L285.8 469.4L286.7 469.3L287.6 469.1L288.5 469.1L289.3 469.2L290.2 469.1L291.1 469.2L292.0 469.2L292.9 469.2L293.8 469.1L294.6 469.1L295.5 469.0L296.4 468.9L297.3 468.7L298.2 468.5L299.0 468.0L299.9 467.9L300.8 467.7L301.7 467.6L302.6 467.6L303.5 467.8L304.3 468.1L305.2 468.3L306.1 468.7L307.0 469.0L307.9 469.1L308.7 469.3L309.6 469.4L310.5 469.5L311.4 469.7L312.3 470.0L313.2 470.3L314.0 470.7L314.9 471.0L315.8 471.3L316.7 471.5L317.6 471.5L318.4 471.5L319.3 471.1L320.2 470.6L321.1 470.0L322.0 469.3L322.9 468.3L323.7 467.5L324.6 466.7L325.5 466.3L326.4 465.8L327.3 465.7L328.1 465.9L329.0 466.2L329.9 466.6L330.8 467.0L331.7 467.3L332.6 465.3L333.4 457.8L334.3 448.6L335.2 444.5L336.1 447.9L337.0 456.2L337.9 465.1L338.7 471.4L339.6 474.4L340.5 474.5L341.4 473.0L342.3 471.3L343.1 470.1L344.0 469.6L344.9 469.3L345.8 469.2L346.7 469.2L347.6 469.3L348.4 469.2L349.3 469.3L350.2 469.3L351.1 469.4" stroke="#ff7f0e"/>
<path d="M227.6 460.5L228.5 460.5L229.4 460.5L230.2 460.5L231.1 460.5L232.0 460.5L232.9 460.5L233.8 460.5L234.7 460.5L235.5 460.5L236.4 460.5L237.3 460.5L238.2 460.5L239.1 460.5L239.9 460.5L240.8 460.5L241.7 460.5L242.6 460.5L243.5 460.5L244.4 460.4L245.2 460.2L246.1 459.7L247.0 458.9L247.9 458.6L248.8 458.8L249.7 459.4L250.5 460.0L251.4 460.4L252.3 460.7L253.2 460.9L254.1 461.3L254.9 461.5L255.8 461.6L256.7 461.4L257.6 461.1L258.5 460.8L259.4 460.6L260.2 460.5L261.1 460.3L262.0 460.0L262.9 459.8L263.8 459.4L264.6 459.3L265.5 459.5L266.4 459.7L267.3 460.0L268.2 460.2L269.1 460.3L269.9 459.9L270.8 459.2L271.7 458.6L272.6 458.8L273.5 459.7L274.3 461.0L275.2 461.8L276.1 461.9L277.0 461.5L277.9 461.0L278.8 460.5L279.6 460.2L280.5 459.9L281.4 459.8L282.3 459.8L283.2 459.7L284.0 459.9L284.9 460.1L285.8 460.3L286.7 460.3L287.6 460.4L288.5 460.4L289.3 460.4L290.2 460.3L291.1 460.4L292.0 460.4L292.9 460.3L293.8 460.0L294.6 459.4L295.5 458.7L296.4 458.0L297.3 457.9L298.2 458.3L299.0 459.1L299.9 459.9L300.8 460.3L301.7 460.6L302.6 460.8L303.5 461.1L304.3 461.8L305.2 462.2L306.1 462.2L307.0 461.8L307.9 461.2L308.7 460.4L309.6 459.7L310.5 458.6L311.4 457.5L312.3 456.9L313.2 457.8L314.0 459.1L314.9 460.1L315.8 460.7L316.7 461.3L317.6 461.9L318.4 462.4L319.3 462.7L320.2 462.3L321.1 461.7L322.0 461.1L322.9 460.7L323.7 460.5L324.6 460.2L325.5 459.8L326.4 459.3L327.3 458.6L328.1 458.5L329.0 458.7L329.9 459.1L330.8 459.5L331.7 459.9L332.6 460.0L333.4 459.8L334.3 458.9L335.2 457.5L336.1 456.6L337.0 457.6L337.9 460.2L338.7 462.5L339.6 463.2L340.5 462.5L341.4 461.5L342.3 460.6L343.1 460.1L344.0 459.7L344.9 459.4L345.8 459.3L346.7 459.3L347.6 459.3L348.4 459.6L349.3 459.9L350.2 460.1L351.1 460.4" stroke="#2ca02c"/>
<path d="M227.6 474.9L228.5 474.9L229.4 474.9L230.2 474.9L231.1 474.9L232.0 474.9L232.9 474.9L233.8 474.9L234.7 474.9L235.5 474.9L236.4 474.9L237.3 474.9L238.2 474.9L239.1 474.9L239.9 474.9L240.8 474.9L241.7 474.9L242.6 474.9L243.5 474.9L244.4 474.9L245.2 474.9L246.1 474.9L247.0 474.9L247.9 474.9L248.8 474.9L249.7 474.9L250.5 474.9L251.4 474.9L252.3 474.9L253.2 474.9L254.1 474.9L254.9 474.9L255.8 474.9L256.7 474.9L257.6 474.9L258.5 474.9L259.4 474.9L260.2 474.9L261.1 474.9L262.0 474.9L262.9 474.9L263.8 474.9L264.6 474.9L265.5 474.9L266.4 474.9L267.3 474.9L268.2 474.9L269.1 474.9L269.9 474.9L270.8 474.9L271.7 474.9L272.6 474.9L273.5 474.9L274.3 474.9L275.2 474.9L276.1 474.9L277.0 474.8L277.9 474.7L278.8 474.8L279.6 474.9L280.5 475.2L281.4 475.8L282.3 477.4L283.2 480.2L284.0 484.3L284.9 488.8L285.8 492.3L286.7 493.2L287.6 491.1L288.5 486.7L289.3 481.5L290.2 476.2L291.1 471.1L292.0 466.1L292.9 461.3L293.8 457.6L294.6 455.8L295.5 456.6L296.4 459.8L297.3 464.4L298.2 469.4L299.0 473.8L299.9 477.9L300.8 481.7L301.7 485.5L302.6 489.4L303.5 493.6L304.3 497.4L305.2 500.6L306.1 502.6L307.0 503.1L307.9 502.1L308.7 499.8L309.6 496.4L310.5 492.1L311.4 488.0L312.3 484.3L313.2 480.9L314.0 478.3L314.9 476.6L315.8 475.6L316.7 474.9L317.6 474.7L318.4 474.7L319.3 474.8L320.2 474.8L321.1 474.9L322.0 475.0L322.9 475.1L323.7 475.2L324.6 475.2L325.5 475.4L326.4 475.3L327.3 475.2L328.1 475.1L329.0 474.9L329.9 474.9L330.8 474.9L331.7 474.9L332.6 474.9L333.4 474.9L334.3 474.9L335.2 474.8L336.1 474.8L337.0 474.8L337.9 474.9L338.7 474.9L339.6 474.9L340.5 474.9L341.4 475.0L342.3 475.2L343.1 475.9L344.0 477.3L344.9 480.0L345.8 483.8L346.7 487.5L347.6 489.7L348.4 489.2L349.3 486.3L350.2 482.3L351.1 478.2" stroke="#d62728"/>
<path d="M227.6 436.7L228.5 436.7L229.4 436.7L230.2 436.7L231.1 436.7L232.0 436.7L232.9 436.7L233.8 436.7L234.7 436.7L235.5 436.7L236.4 436.7L237.3 436.7L238.2 436.7L239.1 436.7L239.9 436.7L240.8 436.7L241.7 436.7L242.6 436.7L243.5 436.7L244.4 436.7L245.2 436.7L246.1 436.7L247.0 436.7L247.9 436.7L248.8 436.7L249.7 436.7L250.5 436.7L251.4 436.7L252.3 436.7L253.2 436.7L254.1 436.7L254.9 436.7L255.8 436.7L256.7 436.7L257.6 436.7L258.5 436.7L259.4 436.7L260.2 436.7L261.1 436.7L262.0 436.7L262.9 436.7L263.8 436.7L264.6 436.7L265.5 436.7L266.4 436.7L267.3 436.7L268.2 436.7L269.1 436.7L269.9 436.7L270.8 436.7L271.7 436.7L272.6 436.6L273.5 436.6L274.3 436.5L275.2 436.3L276.1 435.9L277.0 435.4L277.9 434.6L278.8 433.7L279.6 432.7L280.5 432.1L281.4 431.5L282.3 431.4L283.2 431.2L284.0 431.1L284.9 431.0L285.8 431.0L286.7 431.0L287.6 431.3L288.5 431.9L289.3 432.6L290.2 433.5L291.1 434.6L292.0 435.3L292.9 435.9L293.8 436.3L294.6 436.6L295.5 436.9L296.4 437.6L297.3 438.5L298.2 439.3L299.0 439.4L299.9 438.5L300.8 437.0L301.7 435.6L302.6 434.8L303.5 434.1L304.3 433.3L305.2 433.9L306.1 438.0L307.0 446.1L307.9 454.7L308.7 459.3L309.6 458.0L310.5 452.3L311.4 444.5L312.3 436.9L313.2 430.7L314.0 428.3L314.9 430.4L315.8 433.8L316.7 436.0L317.6 437.1L318.4 437.7L319.3 438.2L320.2 438.5L321.1 438.6L322.0 438.2L322.9 437.7L323.7 437.3L324.6 436.9L325.5 436.9L326.4 436.8L327.3 436.8L328.1 436.7L329.0 436.8L329.9 436.7L330.8 436.6L331.7 436.7L332.6 436.7L333.4 436.7L334.3 436.7L335.2 436.8L336.1 436.7L337.0 436.7L337.9 436.7L338.7 436.8L339.6 436.7L340.5 436.6L341.4 436.6L342.3 436.6L343.1 436.5L344.0 436.4L344.9 436.5L345.8 436.4L346.7 436.2L347.6 435.5L348.4 434.4L349.3 432.6L350.2 430.7L351.1 428.7" stroke="#9467bd"/>
<path d="M227.6 453.7L228.5 453.7L229.4 453.7L230.2 453.7L231.1 453.7L232.0 453.7L232.9 453.7L233.8 453.7L234.7 453.7L235.5 453.7L236.4 453.7L237.3 453.7L238.2 453.7L239.1 453.7L239.9 453.7L240.8 453.7L241.7 453.7L242.6 453.7L243.5 453.7L244.4 453.7L245.2 453.7L246.1 453.7L247.0 453.7L247.9 453.7L248.8 453.7L249.7 453.7L250.5 453.7L251.4 453.7L252.3 453.7L253.2 453.7L254.1 453.7L254.9 453.7L255.8 453.7L256.7 453.7L257.6 453.7L258.5 453.7L259.4 453.7L260.2 453.7L261.1 453.7L262.0 453.7L262.9 453.7L263.8 453.7L264.6 453.7L265.5 453.7L266.4 453.7L267.3 453.7L268.2 453.7L269.1 453.7L269.9 453.7L270.8 453.7L271.7 453.7L272.6 453.7L273.5 453.7L274.3 453.7L275.2 453.7L276.1 453.7L277.0 453.8L277.9 453.7L278.8 453.7L279.6 453.6L280.5 453.5L281.4 453.2L282.3 452.8L283.2 452.2L284.0 451.2L284.9 449.9L285.8 448.6L286.7 447.4L287.6 446.4L288.5 446.2L289.3 446.5L290.2 447.5L291.1 448.9L292.0 450.1L292.9 450.9L293.8 451.5L294.6 451.5L295.5 451.6L296.4 451.7L297.3 452.1L298.2 452.7L299.0 453.2L299.9 453.5L300.8 453.6L301.7 453.8L302.6 453.9L303.5 454.0L304.3 454.0L305.2 454.1L306.1 454.4L307.0 455.1L307.9 456.1L308.7 457.4L309.6 458.5L310.5 459.0L311.4 458.8L312.3 457.8L313.2 456.5L314.0 455.4L314.9 454.4L315.8 453.8L316.7 453.3L317.6 453.0L318.4 452.6L319.3 452.4L320.2 452.4L321.1 452.3L322.0 452.5L322.9 452.8L323.7 452.9L324.6 453.1L325.5 453.2L326.4 453.2L327.3 453.2L328.1 453.0L329.0 452.8L329.9 452.5L330.8 452.4L331.7 452.4L332.6 452.6L333.4 452.8L334.3 453.2L335.2 453.4L336.1 453.6L337.0 453.8L337.9 453.8L338.7 453.8L339.6 453.9L340.5 453.8L341.4 453.6L342.3 453.5L343.1 453.5L344.0 453.0L344.9 452.6L345.8 451.9L346.7 450.8L347.6 449.3L348.4 447.8L349.3 446.5L350.2 445.6L351.1 445.3" stroke="#8c564b"/>
<path d="M227.6 455.8L228.5 455.8L229.4 455.8L230.2 455.8L231.1 455.8L232.0 455.8L232.9 455.8L233.8 455.8L234.7 455.8L235.5 455.8L236.4 455.8L237.3 455.8L238.2 455.8L239.1 455.8L239.9 455.8L240.8 455.8L241.7 455.8L242.6 455.8L243.5 455.8L244.4 455.8L245.2 455.8L246.1 455.8L247.0 455.7L247.9 455.8L248.8 455.7L249.7 455.8L250.5 455.8L251.4 455.9L252.3 455.9L253.2 455.8L254.1 455.6L254.9 455.2L255.8 454.7L256.7 454.4L257.6 454.3L258.5 454.6L259.4 455.1L260.2 455.4L261.1 455.7L262.0 455.8L262.9 456.0L263.8 456.2L264.6 456.5L265.5 456.8L266.4 457.0L267.3 456.8L268.2 456.3L269.1 455.6L269.9 454.9L270.8 454.2L271.7 454.0L272.6 454.1L273.5 454.6L274.3 455.1L275.2 455.4L276.1 455.7L277.0 455.8L277.9 455.8L278.8 455.8L279.6 455.9L280.5 455.8L281.4 455.8L282.3 455.8L283.2 455.8L284.0 455.8L284.9 455.8L285.8 455.8L286.7 455.8L287.6 455.8L288.5 455.8L289.3 455.7L290.2 455.7L291.1 455.7L292.0 455.7L292.9 455.7L293.8 455.8L294.6 455.8L295.5 455.8L296.4 455.8L297.3 455.8L298.2 456.0L299.0 456.3L299.9 456.8L300.8 457.2L301.7 457.6L302.6 457.9L303.5 457.7L304.3 457.2L305.2 456.8L306.1 456.3L307.0 456.0L307.9 455.9L308.7 455.8L309.6 455.7L310.5 455.8L311.4 455.8L312.3 455.8L313.2 455.7L314.0 455.8L314.9 455.7L315.8 455.6L316.7 455.4L317.6 454.8L318.4 454.0L319.3 453.2L320.2 452.9L321.1 453.2L322.0 453.9L322.9 454.7L323.7 455.3L324.6 455.7L325.5 455.8L326.4 456.1L327.3 456.7L328.1 457.3L329.0 457.8L329.9 457.9L330.8 457.3L331.7 456.2L332.6 455.0L333.4 454.1L334.3 453.7L335.2 453.9L336.1 454.5L337.0 455.0L337.9 455.4L338.7 455.7L339.6 455.8L340.5 455.8L341.4 455.7L342.3 455.7L343.1 455.7L344.0 455.7L344.9 455.6L345.8 455.7L346.7 455.8L347.6 455.7L348.4 455.7L349.3 455.7L350.2 455.7L351.1 455.7" stroke="#e377c2"/>
<path d="M227.6 455.8L228.5 455.8L229.4 455.8L230.2 455.8L231.1 455.8L232.0 455.8L232.9 455.8L233.8 455.8L234.7 455.8L235.5 455.8L236.4 455.8L237.3 455.8L238.2 455.8L239.1 455.8L239.9 455.8L240.8 455.8L241.7 455.8L242.6 455.8L243.5 455.8L244.4 455.8L245.2 455.8L246.1 455.8L247.0 455.9L247.9 455.8L248.8 455.8L249.7 455.8L250.5 455.7L251.4 455.7L252.3 455.7L253.2 455.7L254.1 455.7L254.9 455.7L255.8 455.7L256.7 455.7L257.6 455.8L258.5 455.8L259.4 455.8L260.2 455.9L261.1 456.1L262.0 456.6L262.9 457.3L263.8 458.0L264.6 458.3L265.5 458.0L266.4 457.5L267.3 456.8L268.2 456.2L269.1 456.0L269.9 456.0L270.8 455.9L271.7 455.7L272.6 455.2L273.5 454.4L274.3 453.4L275.2 453.0L276.1 453.3L277.0 454.1L277.9 454.9L278.8 455.4L279.6 455.7L280.5 455.8L281.4 455.8L282.3 455.9L283.2 455.8L284.0 455.8L284.9 455.8L285.8 455.9L286.7 455.8L287.6 455.9L288.5 455.9L289.3 455.9L290.2 455.9L291.1 455.8L292.0 455.8L292.9 455.8L293.8 455.7L294.6 455.8L295.5 455.8L296.4 455.8L297.3 455.7L298.2 455.7L299.0 455.7L299.9 455.6L300.8 455.6L301.7 455.7L302.6 455.8L303.5 455.8L304.3 455.8L305.2 455.8L306.1 455.7L307.0 455.4L307.9 454.6L308.7 453.4L309.6 452.3L310.5 451.9L311.4 452.5L312.3 453.9L313.2 455.3L314.0 456.7L314.9 457.7L315.8 458.4L316.7 458.1L317.6 457.5L318.4 456.7L319.3 456.2L320.2 455.9L321.1 455.8L322.0 456.0L322.9 456.2L323.7 456.8L324.6 457.8L325.5 458.9L326.4 459.6L327.3 459.4L328.1 458.6L329.0 457.6L329.9 456.7L330.8 456.1L331.7 455.9L332.6 455.8L333.4 455.8L334.3 455.7L335.2 455.7L336.1 455.5L337.0 455.0L337.9 454.2L338.7 453.4L339.6 453.1L340.5 453.6L341.4 454.3L342.3 455.1L343.1 455.5L344.0 455.7L344.9 455.7L345.8 455.8L346.7 455.8L347.6 455.8L348.4 455.8L349.3 455.8L350.2 455.8L351.1 455.8" stroke="#7f7f7f"/>
<path d="M227.6 455.8L228.5 455.8L229.4 455.8L230.2 455.8L231.1 455.8L232.0 455.8L232.9 455.8L233.8 455.8L234.7 455.8L235.5 455.8L236.4 455.8L237.3 455.8L238.2 455.8L239.1 455.8L239.9 455.8L240.8 455.8L241.7 455.8L242.6 455.8L243.5 455.8L244.4 455.8L245.2 455.8L246.1 455.8L247.0 455.8L247.9 455.8L248.8 455.5L249.7 455.0L250.5 454.2L251.4 453.2L252.3 452.3L253.2 452.0L254.1 452.6L254.9 453.7L255.8 454.8L256.7 455.9L257.6 456.9L258.5 457.9L259.4 459.0L260.2 459.9L261.1 460.5L262.0 460.5L262.9 459.8L263.8 458.8L264.6 457.9L265.5 457.1L266.4 456.5L267.3 456.2L268.2 456.0L269.1 455.9L269.9 455.8L270.8 455.5L271.7 454.9L272.6 453.8L273.5 452.4L274.3 451.3L275.2 450.9L276.1 451.6L277.0 452.9L277.9 454.2L278.8 455.1L279.6 455.6L280.5 455.8L281.4 455.7L282.3 455.8L283.2 455.8L284.0 455.8L284.9 455.8L285.8 455.8L286.7 455.8L287.6 455.9L288.5 455.9L289.3 455.8L290.2 455.9L291.1 455.8L292.0 455.8L292.9 455.8L293.8 455.8L294.6 455.8L295.5 455.8L296.4 455.8L297.3 455.8L298.2 455.8L299.0 455.8L299.9 455.8L300.8 455.8L301.7 455.8L302.6 455.8L303.5 455.8L304.3 455.8L305.2 455.8L306.1 455.8L307.0 455.8L307.9 455.8L308.7 455.8L309.6 455.7L310.5 455.8L311.4 455.8L312.3 455.8L313.2 455.5L314.0 454.9L314.9 453.2L315.8 450.1L316.7 446.0L317.6 442.4L318.4 441.2L319.3 443.1L320.2 447.0L321.1 451.1L322.0 454.1L322.9 456.0L323.7 457.6L324.6 459.3L325.5 461.2L326.4 462.6L327.3 463.5L328.1 464.1L329.0 464.2L329.9 464.2L330.8 463.8L331.7 463.3L332.6 462.2L333.4 460.7L334.3 458.8L335.2 457.1L336.1 455.5L337.0 453.7L337.9 451.7L338.7 449.9L339.6 449.2L340.5 450.0L341.4 451.8L342.3 453.7L343.1 455.3L344.0 456.5L344.9 457.5L345.8 458.0L346.7 458.0L347.6 457.7L348.4 457.1L349.3 456.4L350.2 456.0L351.1 455.9" stroke="#bcbd22"/>
<path d="M227.6 455.8L228.5 455.8L229.4 455.8L230.2 455.8L231.1 455.8L232.0 455.8L232.9 455.8L233.8 455.8L234.7 455.8L235.5 455.8L236.4 455.8L237.3 455.8L238.2 455.8L239.1 455.8L239.9 455.8L240.8 455.8L241.7 455.8L242.6 455.8L243.5 455.8L244.4 455.8L245.2 455.8L246.1 455.8L247.0 455.8L247.9 455.8L248.8 455.8L249.7 455.8L250.5 455.8L251.4 455.8L252.3 455.8L253.2 455.8L254.1 455.8L254.9 455.8L255.8 455.8L256.7 455.8L257.6 455.8L258.5 455.8L259.4 455.8L260.2 455.8L261.1 455.8L262.0 455.8L262.9 455.8L263.8 455.8L264.6 455.8L265.5 455.8L266.4 455.8L267.3 455.8L268.2 455.7L269.1 455.5L269.9 455.1L270.8 454.5L271.7 453.7L272.6 453.1L273.5 453.1L274.3 453.6L275.2 454.4L276.1 455.1L277.0 455.5L277.9 455.7L278.8 455.7L279.6 455.7L280.5 455.7L281.4 455.7L282.3 455.8L283.2 455.8L284.0 455.8L284.9 455.8L285.8 455.8L286.7 455.8L287.6 455.7L288.5 455.7L289.3 455.7L290.2 455.7L291.1 455.7L292.0 455.7L292.9 455.7L293.8 455.7L294.6 455.8L295.5 455.8L296.4 455.9L297.3 456.3L298.2 456.8L299.0 457.3L299.9 457.7L300.8 457.6L301.7 457.2L302.6 456.7L303.5 456.2L304.3 455.9L305.2 455.9L306.1 455.8L307.0 455.8L307.9 455.6L308.7 455.2L309.6 454.2L310.5 452.5L311.4 450.6L312.3 449.8L313.2 450.4L314.0 452.4L314.9 454.5L315.8 456.4L316.7 457.9L317.6 458.8L318.4 458.9L319.3 458.3L320.2 457.3L321.1 456.5L322.0 456.1L322.9 455.9L323.7 455.9L324.6 455.9L325.5 455.8L326.4 455.7L327.3 455.8L328.1 455.8L329.0 455.8L329.9 455.8L330.8 455.8L331.7 455.7L332.6 455.7L333.4 455.4L334.3 454.9L335.2 454.1L336.1 453.1L337.0 452.5L337.9 452.5L338.7 453.2L339.6 454.2L340.5 455.0L341.4 455.5L342.3 455.8L343.1 455.8L344.0 455.8L344.9 455.7L345.8 455.7L346.7 455.7L347.6 455.7L348.4 455.7L349.3 455.8L350.2 455.8L351.1 455.8" stroke="#17becf"/>
<path d="M227.6 455.8L228.5 455.8L229.4 455.8L230.2 455.8L231.1 455.8L232.0 455.8L232.9 455.8L233.8 455.8L234.7 455.8L235.5 455.8L236.4 455.8L237.3 455.8L238.2 455.8L239.1 455.8L239.9 455.8L240.8 455.8L241.7 455.8L242.6 455.8L243.5 455.8L244.4 455.8L245.2 455.8L246.1 455.8L247.0 455.8L247.9 455.8L248.8 455.8L249.7 455.8L250.5 455.8L251.4 455.8L252.3 455.8L253.2 455.8L254.1 455.8L254.9 455.8L255.8 455.8L256.7 455.8L257.6 455.8L258.5 455.8L259.4 455.8L260.2 455.7L261.1 455.6L262.0 455.5L262.9 455.2L263.8 454.9L264.6 454.8L265.5 455.0L266.4 455.3L267.3 455.7L268.2 456.2L269.1 456.7L269.9 456.9L270.8 456.9L271.7 456.7L272.6 456.3L273.5 456.1L274.3 455.9L275.2 455.8L276.1 455.8L277.0 455.8L277.9 455.8L278.8 455.7L279.6 455.8L280.5 455.8L281.4 455.7L282.3 455.8L283.2 455.8L284.0 455.8L284.9 455.7L285.8 455.7L286.7 455.4L287.6 454.8L288.5 453.6L289.3 452.3L290.2 451.5L291.1 451.8L292.0 453.0L292.9 454.5L293.8 455.8L294.6 457.0L295.5 458.0L296.4 458.5L297.3 458.3L298.2 457.6L299.0 456.8L299.9 456.2L300.8 456.0L301.7 455.8L302.6 455.9L303.5 455.9L304.3 455.6L305.2 455.3L306.1 454.9L307.0 454.3L307.9 453.9L308.7 453.9L309.6 454.4L310.5 454.9L311.4 455.3L312.3 455.6L313.2 455.7L314.0 455.7L314.9 455.7L315.8 455.7L316.7 455.7L317.6 455.7L318.4 455.8L319.3 455.8L320.2 455.8L321.1 455.9L322.0 455.9L322.9 455.9L323.7 455.6L324.6 455.2L325.5 454.5L326.4 453.6L327.3 452.9L328.1 452.7L329.0 453.3L329.9 454.4L330.8 455.7L331.7 457.1L332.6 458.3L333.4 459.1L334.3 459.2L335.2 458.7L336.1 457.7L337.0 456.8L337.9 456.3L338.7 456.0L339.6 455.9L340.5 455.8L341.4 455.9L342.3 455.9L343.1 455.9L344.0 455.8L344.9 455.8L345.8 455.8L346.7 455.8L347.6 455.8L348.4 455.7L349.3 455.6L350.2 455.3L351.1 454.4" stroke="#1f77b4"/>
<path d="M227.6 455.8L228.5 455.8L229.4 455.8L230.2 455.8L231.1 455.8L232.0 455.8L232.9 455.8L233.8 455.8L234.7 455.8L235.5 455.8L236.4 455.8L237.3 455.8L238.2 455.8L239.1 455.8L239.9 455.8L240.8 455.8L241.7 455.8L242.6 455.8L243.5 455.8L244.4 455.8L245.2 455.8L246.1 455.8L247.0 455.8L247.9 455.8L248.8 455.8L249.7 455.8L250.5 455.8L251.4 455.8L252.3 455.8L253.2 455.8L254.1 455.8L254.9 455.8L255.8 455.8L256.7 455.8L257.6 455.8L258.5 455.8L259.4 455.8L260.2 455.8L261.1 455.8L262.0 455.8L262.9 455.8L263.8 455.8L264.6 455.8L265.5 455.8L266.4 455.8L267.3 455.8L268.2 455.8L269.1 455.8L269.9 455.8L270.8 455.8L271.7 455.8L272.6 455.8L273.5 455.8L274.3 455.8L275.2 455.8L276.1 455.8L277.0 455.8L277.9 455.8L278.8 455.8L279.6 455.8L280.5 455.8L281.4 455.8L282.3 455.7L283.2 455.7L284.0 455.7L284.9 455.6L285.8 455.6L286.7 455.7L287.6 456.0L288.5 456.6L289.3 458.7L290.2 462.9L291.1 467.9L292.0 470.3L292.9 467.6L293.8 461.4L294.6 454.5L295.5 448.7L296.4 445.4L297.3 444.9L298.2 445.9L299.0 446.6L299.9 446.8L300.8 446.9L301.7 447.0L302.6 447.2L303.5 447.8L304.3 449.0L305.2 450.5L306.1 452.3L307.0 453.8L307.9 454.8L308.7 455.6L309.6 456.6L310.5 458.1L311.4 459.7L312.3 461.0L313.2 461.4L314.0 460.5L314.9 459.0L315.8 457.5L316.7 456.5L317.6 456.1L318.4 455.8L319.3 455.8L320.2 455.7L321.1 455.7L322.0 455.8L322.9 455.7L323.7 455.7L324.6 455.7L325.5 455.7L326.4 455.8L327.3 455.8L328.1 455.8L329.0 455.8L329.9 455.7L330.8 455.7L331.7 455.7L332.6 455.8L333.4 455.7L334.3 455.8L335.2 455.8L336.1 455.8L337.0 455.8L337.9 455.8L338.7 455.8L339.6 455.7L340.5 455.7L341.4 455.7L342.3 455.7L343.1 455.7L344.0 455.7L344.9 455.7L345.8 455.8L346.7 455.9L347.6 455.9L348.4 455.9L349.3 456.1L350.2 456.9L351.1 459.3" stroke="#ff7f0e"/></g></svg>
<rect x="221.4" y="424.4" width="135.9" height="83.3" fill="none" stroke="#a6a6a6" stroke-width="1.3"/>
<line x1="219.4" y1="426.4" x2="221.4" y2="426.4" stroke="#777" stroke-width="0.7"/>
<text font-size="6" text-anchor="end" fill="#444" transform="translate(218.4 428.5) scale(0.72 1)">10</text>
<line x1="219.4" y1="441.1" x2="221.4" y2="441.1" stroke="#777" stroke-width="0.7"/>
<text font-size="6" text-anchor="end" fill="#444" transform="translate(218.4 443.2) scale(0.72 1)">5</text>
<line x1="219.4" y1="455.8" x2="221.4" y2="455.8" stroke="#777" stroke-width="0.7"/>
<text font-size="6" text-anchor="end" fill="#444" transform="translate(218.4 457.9) scale(0.72 1)">0</text>
<line x1="219.4" y1="470.5" x2="221.4" y2="470.5" stroke="#777" stroke-width="0.7"/>
<text font-size="6" text-anchor="end" fill="#444" transform="translate(218.4 472.6) scale(0.72 1)">−5</text>
<line x1="219.4" y1="485.2" x2="221.4" y2="485.2" stroke="#777" stroke-width="0.7"/>
<text font-size="6" text-anchor="end" fill="#444" transform="translate(218.4 487.3) scale(0.72 1)">−10</text>
<line x1="219.4" y1="499.9" x2="221.4" y2="499.9" stroke="#777" stroke-width="0.7"/>
<text font-size="6" text-anchor="end" fill="#444" transform="translate(218.4 502.0) scale(0.72 1)">−15</text>
<line x1="227.6" y1="507.7" x2="227.6" y2="509.7" stroke="#777" stroke-width="0.7"/>
<text font-size="5.5" text-anchor="middle" fill="#444" transform="translate(227.6 515.2) scale(0.8 1)">0</text>
<line x1="262.9" y1="507.7" x2="262.9" y2="509.7" stroke="#777" stroke-width="0.7"/>
<text font-size="5.5" text-anchor="middle" fill="#444" transform="translate(262.9 515.2) scale(0.8 1)">80</text>
<line x1="298.2" y1="507.7" x2="298.2" y2="509.7" stroke="#777" stroke-width="0.7"/>
<text font-size="5.5" text-anchor="middle" fill="#444" transform="translate(298.2 515.2) scale(0.8 1)">160</text>
<line x1="333.4" y1="507.7" x2="333.4" y2="509.7" stroke="#777" stroke-width="0.7"/>
<text font-size="5.5" text-anchor="middle" fill="#444" transform="translate(333.4 515.2) scale(0.8 1)">240</text>
<rect x="358.9" y="424.3" width="37.4" height="84.0" fill="#fff" stroke="#e6e6e6" stroke-width="0.8"/>
<line x1="360.7" y1="430.4" x2="371.7" y2="430.4" stroke="#1f77b4" stroke-width="1.5" stroke-opacity="0.8"/>
<text x="375.4" y="432.4" font-family='"Liberation Mono", monospace' font-size="6" textLength="18.4" lengthAdjust="spacingAndGlyphs" fill="#333">f_acc_rx</text>
<line x1="360.7" y1="437.1" x2="371.7" y2="437.1" stroke="#ff7f0e" stroke-width="1.5" stroke-opacity="0.8"/>
<text x="375.4" y="439.1" font-family='"Liberation Mono", monospace' font-size="6" textLength="18.4" lengthAdjust="spacingAndGlyphs" fill="#333">f_acc_ry</text>
<line x1="360.7" y1="443.8" x2="371.7" y2="443.8" stroke="#2ca02c" stroke-width="1.5" stroke-opacity="0.8"/>
<text x="375.4" y="445.8" font-family='"Liberation Mono", monospace' font-size="6" textLength="18.4" lengthAdjust="spacingAndGlyphs" fill="#333">f_acc_rz</text>
<line x1="360.7" y1="450.4" x2="371.7" y2="450.4" stroke="#d62728" stroke-width="1.5" stroke-opacity="0.8"/>
<text x="375.4" y="452.4" font-family='"Liberation Mono", monospace' font-size="6" textLength="18.4" lengthAdjust="spacingAndGlyphs" fill="#333">f_acc_lx</text>
<line x1="360.7" y1="457.1" x2="371.7" y2="457.1" stroke="#9467bd" stroke-width="1.5" stroke-opacity="0.8"/>
<text x="375.4" y="459.1" font-family='"Liberation Mono", monospace' font-size="6" textLength="18.4" lengthAdjust="spacingAndGlyphs" fill="#333">f_acc_ly</text>
<line x1="360.7" y1="463.8" x2="371.7" y2="463.8" stroke="#8c564b" stroke-width="1.5" stroke-opacity="0.8"/>
<text x="375.4" y="465.8" font-family='"Liberation Mono", monospace' font-size="6" textLength="18.4" lengthAdjust="spacingAndGlyphs" fill="#333">f_acc_lz</text>
<line x1="360.7" y1="470.5" x2="371.7" y2="470.5" stroke="#e377c2" stroke-width="1.5" stroke-opacity="0.8"/>
<text x="375.4" y="472.5" font-family='"Liberation Mono", monospace' font-size="6" textLength="18.4" lengthAdjust="spacingAndGlyphs" fill="#333">f_rot_rx</text>
<line x1="360.7" y1="477.2" x2="371.7" y2="477.2" stroke="#7f7f7f" stroke-width="1.5" stroke-opacity="0.8"/>
<text x="375.4" y="479.2" font-family='"Liberation Mono", monospace' font-size="6" textLength="18.4" lengthAdjust="spacingAndGlyphs" fill="#333">f_rot_ry</text>
<line x1="360.7" y1="483.8" x2="371.7" y2="483.8" stroke="#bcbd22" stroke-width="1.5" stroke-opacity="0.8"/>
<text x="375.4" y="485.8" font-family='"Liberation Mono", monospace' font-size="6" textLength="18.4" lengthAdjust="spacingAndGlyphs" fill="#333">f_rot_rz</text>
<line x1="360.7" y1="490.5" x2="371.7" y2="490.5" stroke="#17becf" stroke-width="1.5" stroke-opacity="0.8"/>
<text x="375.4" y="492.5" font-family='"Liberation Mono", monospace' font-size="6" textLength="18.4" lengthAdjust="spacingAndGlyphs" fill="#333">f_rot_lx</text>
<line x1="360.7" y1="497.2" x2="371.7" y2="497.2" stroke="#1f77b4" stroke-width="1.5" stroke-opacity="0.8"/>
<text x="375.4" y="499.2" font-family='"Liberation Mono", monospace' font-size="6" textLength="18.4" lengthAdjust="spacingAndGlyphs" fill="#333">f_rot_ly</text>
<line x1="360.7" y1="503.9" x2="371.7" y2="503.9" stroke="#ff7f0e" stroke-width="1.5" stroke-opacity="0.8"/>
<text x="375.4" y="505.9" font-family='"Liberation Mono", monospace' font-size="6" textLength="18.4" lengthAdjust="spacingAndGlyphs" fill="#333">f_rot_lz</text>
<text x="305.0" y="530.8" font-family='"Liberation Serif", serif' font-weight="bold" font-size="13" text-anchor="middle" fill="#111">subWindow_1</text>
<svg x="507.3" y="424.6" width="132.1" height="81.1" viewBox="507.3 424.6 132.1 81.1" overflow="hidden"><g fill="none" stroke-width="1.15" stroke-opacity="0.85"><path d="M513.0 490.1L513.9 493.3L514.7 496.3L515.6 498.7L516.5 500.3L517.3 500.6L518.2 499.5L519.1 497.3L519.9 494.6L520.8 491.6L521.6 488.7L522.5 486.1L523.4 483.9L524.2 481.9L525.1 480.1L526.0 479.0L526.8 478.7L527.7 479.3L528.6 480.2L529.4 480.8L530.3 480.9L531.2 481.1L532.0 481.2L532.9 481.4L533.8 481.4L534.6 481.3L535.5 481.4L536.4 481.4L537.2 481.3L538.1 481.3L539.0 481.3L539.8 481.5L540.7 481.6L541.5 481.5L542.4 481.6L543.3 481.5L544.1 481.5L545.0 481.5L545.9 481.5L546.7 481.4L547.6 481.4L548.5 481.4L549.3 481.4L550.2 481.4L551.1 481.4L551.9 481.5L552.8 481.6L553.7 481.6L554.5 481.5L555.4 481.5L556.2 481.5L557.1 481.4L558.0 481.3L558.8 481.5L559.7 481.3L560.6 481.2L561.4 481.2L562.3 481.2L563.2 481.2L564.0 481.2L564.9 481.2L565.8 481.3L566.6 481.3L567.5 481.1L568.4 481.2L569.2 481.3L570.1 481.2L571.0 481.4L571.8 481.4L572.7 481.4L573.5 481.4L574.4 481.4L575.3 481.4L576.1 481.4L577.0 481.4L577.9 481.4L578.7 481.4L579.6 481.4L580.5 481.4L581.3 481.4L582.2 481.4L583.1 481.4L583.9 481.4L584.8 481.4L585.7 481.4L586.5 481.4L587.4 481.4L588.3 481.4L589.1 481.4L590.0 481.4L590.9 481.4L591.7 481.4L592.6 481.4L593.4 481.4L594.3 481.4L595.2 481.4L596.0 481.4L596.9 481.4L597.8 481.4L598.6 481.4L599.5 481.4L600.4 481.4L601.2 481.4L602.1 481.4L603.0 481.4L603.8 481.4L604.7 481.4L605.6 481.4L606.4 481.4L607.3 481.4L608.1 481.4L609.0 481.4L609.9 481.4L610.7 481.4L611.6 481.4L612.5 481.4L613.3 481.4L614.2 481.4L615.1 481.4L615.9 481.4L616.8 481.4L617.7 481.4L618.5 481.4L619.4 481.4L620.3 481.4L621.1 481.4L622.0 481.4L622.9 481.4L623.7 481.4L624.6 481.4L625.5 481.4L626.3 481.4L627.2 481.4L628.0 481.4L628.9 481.4L629.8 481.4L630.6 481.4L631.5 481.4L632.4 481.4L633.2 481.4" stroke="#1f77b4"/>
<path d="M513.0 466.0L513.9 467.5L514.7 469.8L515.6 469.0L516.5 462.6L517.3 454.0L518.2 447.1L519.1 445.3L519.9 450.5L520.8 460.1L521.6 469.8L522.5 477.0L523.4 480.4L524.2 479.9L525.1 477.2L526.0 474.2L526.8 472.4L527.7 471.6L528.6 471.4L529.4 471.4L530.3 471.4L531.2 471.4L532.0 471.5L532.9 471.6L533.8 471.6L534.6 471.6L535.5 471.6L536.4 471.7L537.2 471.5L538.1 471.3L539.0 471.2L539.8 471.2L540.7 471.2L541.5 471.1L542.4 471.1L543.3 471.3L544.1 471.3L545.0 471.3L545.9 471.4L546.7 471.4L547.6 471.4L548.5 471.3L549.3 471.3L550.2 471.4L551.1 471.3L551.9 471.3L552.8 471.3L553.7 471.5L554.5 471.5L555.4 471.5L556.2 471.7L557.1 471.6L558.0 471.4L558.8 471.3L559.7 471.3L560.6 471.3L561.4 471.4L562.3 471.4L563.2 471.3L564.0 471.2L564.9 471.1L565.8 471.2L566.6 471.1L567.5 471.2L568.4 471.3L569.2 471.5L570.1 471.4L571.0 471.2L571.8 471.2L572.7 471.2L573.5 471.2L574.4 471.2L575.3 471.2L576.1 471.2L577.0 471.2L577.9 471.2L578.7 471.2L579.6 471.2L580.5 471.2L581.3 471.2L582.2 471.2L583.1 471.2L583.9 471.2L584.8 471.2L585.7 471.2L586.5 471.2L587.4 471.2L588.3 471.2L589.1 471.2L590.0 471.2L590.9 471.2L591.7 471.2L592.6 471.2L593.4 471.2L594.3 471.2L595.2 471.2L596.0 471.2L596.9 471.2L597.8 471.2L598.6 471.2L599.5 471.2L600.4 471.2L601.2 471.2L602.1 471.2L603.0 471.2L603.8 471.2L604.7 471.2L605.6 471.2L606.4 471.2L607.3 471.2L608.1 471.2L609.0 471.2L609.9 471.2L610.7 471.2L611.6 471.2L612.5 471.2L613.3 471.2L614.2 471.2L615.1 471.2L615.9 471.2L616.8 471.2L617.7 471.2L618.5 471.2L619.4 471.2L620.3 471.2L621.1 471.2L622.0 471.2L622.9 471.2L623.7 471.2L624.6 471.2L625.5 471.2L626.3 471.2L627.2 471.2L628.0 471.2L628.9 471.2L629.8 471.2L630.6 471.2L631.5 471.2L632.4 471.2L633.2 471.2" stroke="#ff7f0e"/>
<path d="M513.0 460.1L513.9 461.1L514.7 462.2L515.6 463.0L516.5 462.9L517.3 461.4L518.2 458.9L519.1 457.1L519.9 457.7L520.8 460.2L521.6 462.0L522.5 461.8L523.4 460.8L524.2 460.1L525.1 460.2L526.0 460.4L526.8 460.4L527.7 460.0L528.6 459.5L529.4 459.3L530.3 459.3L531.2 459.5L532.0 459.8L532.9 460.3L533.8 460.6L534.6 460.9L535.5 461.2L536.4 461.1L537.2 461.1L538.1 461.2L539.0 461.1L539.8 460.8L540.7 460.8L541.5 460.9L542.4 460.8L543.3 460.8L544.1 461.0L545.0 461.1L545.9 461.2L546.7 461.1L547.6 460.9L548.5 461.0L549.3 461.0L550.2 461.0L551.1 461.0L551.9 461.0L552.8 461.2L553.7 461.1L554.5 461.1L555.4 461.0L556.2 460.9L557.1 460.9L558.0 460.9L558.8 460.7L559.7 460.9L560.6 460.9L561.4 461.0L562.3 460.9L563.2 460.9L564.0 461.0L564.9 461.0L565.8 461.0L566.6 461.1L567.5 461.3L568.4 461.3L569.2 461.2L570.1 461.1L571.0 461.0L571.8 461.0L572.7 461.0L573.5 461.0L574.4 461.0L575.3 461.0L576.1 461.0L577.0 461.0L577.9 461.0L578.7 461.0L579.6 461.0L580.5 461.0L581.3 461.0L582.2 461.0L583.1 461.0L583.9 461.0L584.8 461.0L585.7 461.0L586.5 461.0L587.4 461.0L588.3 461.0L589.1 461.0L590.0 461.0L590.9 461.0L591.7 461.0L592.6 461.0L593.4 461.0L594.3 461.0L595.2 461.0L596.0 461.0L596.9 461.0L597.8 461.0L598.6 461.0L599.5 461.0L600.4 461.0L601.2 461.0L602.1 461.0L603.0 461.0L603.8 461.0L604.7 461.0L605.6 461.0L606.4 461.0L607.3 461.0L608.1 461.0L609.0 461.0L609.9 461.0L610.7 461.0L611.6 461.0L612.5 461.0L613.3 461.0L614.2 461.0L615.1 461.0L615.9 461.0L616.8 461.0L617.7 461.0L618.5 461.0L619.4 461.0L620.3 461.0L621.1 461.0L622.0 461.0L622.9 461.0L623.7 461.0L624.6 461.0L625.5 461.0L626.3 461.0L627.2 461.0L628.0 461.0L628.9 461.0L629.8 461.0L630.6 461.0L631.5 461.0L632.4 461.0L633.2 461.0" stroke="#2ca02c"/>
<path d="M513.0 477.4L513.9 477.5L514.7 477.5L515.6 477.4L516.5 477.4L517.3 477.4L518.2 477.7L519.1 477.5L519.9 477.7L520.8 477.7L521.6 477.8L522.5 478.0L523.4 477.8L524.2 477.7L525.1 477.8L526.0 477.8L526.8 477.6L527.7 477.7L528.6 477.7L529.4 477.8L530.3 477.8L531.2 477.7L532.0 477.7L532.9 477.8L533.8 477.8L534.6 477.7L535.5 477.8L536.4 477.8L537.2 477.8L538.1 477.9L539.0 477.9L539.8 477.8L540.7 478.2L541.5 479.3L542.4 481.5L543.3 483.6L544.1 484.5L545.0 483.1L545.9 480.6L546.7 477.9L547.6 474.9L548.5 471.3L549.3 467.1L550.2 463.8L551.1 463.2L551.9 465.7L552.8 469.8L553.7 473.4L554.5 475.7L555.4 477.0L556.2 478.2L557.1 479.8L558.0 482.4L558.8 486.1L559.7 489.8L560.6 492.0L561.4 491.8L562.3 489.4L563.2 485.6L564.0 482.2L564.9 479.7L565.8 478.4L566.6 477.8L567.5 477.6L568.4 477.5L569.2 477.6L570.1 477.6L571.0 477.7L571.8 477.7L572.7 477.7L573.5 477.7L574.4 477.7L575.3 477.7L576.1 477.7L577.0 477.7L577.9 477.7L578.7 477.7L579.6 477.7L580.5 477.7L581.3 477.7L582.2 477.7L583.1 477.7L583.9 477.7L584.8 477.7L585.7 477.7L586.5 477.7L587.4 477.7L588.3 477.7L589.1 477.7L590.0 477.7L590.9 477.7L591.7 477.7L592.6 477.7L593.4 477.7L594.3 477.7L595.2 477.7L596.0 477.7L596.9 477.7L597.8 477.7L598.6 477.7L599.5 477.7L600.4 477.7L601.2 477.7L602.1 477.7L603.0 477.7L603.8 477.7L604.7 477.7L605.6 477.7L606.4 477.7L607.3 477.7L608.1 477.7L609.0 477.7L609.9 477.7L610.7 477.7L611.6 477.7L612.5 477.7L613.3 477.7L614.2 477.7L615.1 477.7L615.9 477.7L616.8 477.7L617.7 477.7L618.5 477.7L619.4 477.7L620.3 477.7L621.1 477.7L622.0 477.7L622.9 477.7L623.7 477.7L624.6 477.7L625.5 477.7L626.3 477.7L627.2 477.7L628.0 477.7L628.9 477.7L629.8 477.7L630.6 477.7L631.5 477.7L632.4 477.7L633.2 477.7" stroke="#d62728"/>
<path d="M513.0 433.4L513.9 433.4L514.7 433.4L515.6 433.5L516.5 433.5L517.3 433.5L518.2 433.6L519.1 433.6L519.9 433.5L520.8 433.5L521.6 433.5L522.5 433.6L523.4 433.5L524.2 433.6L525.1 433.4L526.0 433.4L526.8 433.5L527.7 433.6L528.6 433.7L529.4 433.8L530.3 433.8L531.2 433.6L532.0 433.5L532.9 433.5L533.8 433.5L534.6 433.4L535.5 433.3L536.4 433.4L537.2 433.4L538.1 433.3L539.0 433.2L539.8 433.3L540.7 433.0L541.5 432.3L542.4 431.3L543.3 430.0L544.1 429.0L545.0 428.7L545.9 429.3L546.7 430.6L547.6 432.3L548.5 434.1L549.3 435.5L550.2 436.8L551.1 438.0L551.9 439.2L552.8 440.1L553.7 440.7L554.5 441.2L555.4 441.4L556.2 441.3L557.1 441.2L558.0 441.6L558.8 442.3L559.7 443.0L560.6 443.2L561.4 442.3L562.3 440.4L563.2 438.0L564.0 435.3L564.9 432.3L565.8 429.4L566.6 428.5L567.5 429.7L568.4 431.8L569.2 433.0L570.1 433.4L571.0 433.5L571.8 433.5L572.7 433.5L573.5 433.5L574.4 433.5L575.3 433.5L576.1 433.5L577.0 433.5L577.9 433.5L578.7 433.5L579.6 433.5L580.5 433.5L581.3 433.5L582.2 433.5L583.1 433.5L583.9 433.5L584.8 433.5L585.7 433.5L586.5 433.5L587.4 433.5L588.3 433.5L589.1 433.5L590.0 433.5L590.9 433.5L591.7 433.5L592.6 433.5L593.4 433.5L594.3 433.5L595.2 433.5L596.0 433.5L596.9 433.5L597.8 433.5L598.6 433.5L599.5 433.5L600.4 433.5L601.2 433.5L602.1 433.5L603.0 433.5L603.8 433.5L604.7 433.5L605.6 433.5L606.4 433.5L607.3 433.5L608.1 433.5L609.0 433.5L609.9 433.5L610.7 433.5L611.6 433.5L612.5 433.5L613.3 433.5L614.2 433.5L615.1 433.5L615.9 433.5L616.8 433.5L617.7 433.5L618.5 433.5L619.4 433.5L620.3 433.5L621.1 433.5L622.0 433.5L622.9 433.5L623.7 433.5L624.6 433.5L625.5 433.5L626.3 433.5L627.2 433.5L628.0 433.5L628.9 433.5L629.8 433.5L630.6 433.5L631.5 433.5L632.4 433.5L633.2 433.5" stroke="#9467bd"/>
<path d="M513.0 452.4L513.9 452.3L514.7 452.1L515.6 452.2L516.5 452.4L517.3 452.7L518.2 452.9L519.1 453.0L519.9 453.0L520.8 453.1L521.6 453.2L522.5 453.2L523.4 453.2L524.2 453.2L525.1 453.3L526.0 453.3L526.8 453.4L527.7 453.5L528.6 453.5L529.4 453.5L530.3 453.3L531.2 453.1L532.0 453.1L532.9 453.0L533.8 452.9L534.6 453.0L535.5 453.2L536.4 453.2L537.2 453.1L538.1 452.9L539.0 452.9L539.8 452.5L540.7 451.9L541.5 451.1L542.4 450.1L543.3 449.0L544.1 448.6L545.0 449.2L545.9 450.5L546.7 451.5L547.6 452.0L548.5 452.3L549.3 451.5L550.2 450.5L551.1 449.5L551.9 449.1L552.8 449.5L553.7 450.5L554.5 451.6L555.4 452.4L556.2 452.8L557.1 453.0L558.0 453.0L558.8 453.1L559.7 453.0L560.6 452.7L561.4 452.7L562.3 452.7L563.2 452.7L564.0 452.8L564.9 452.9L565.8 453.0L566.6 452.9L567.5 452.9L568.4 452.8L569.2 452.9L570.1 452.7L571.0 452.6L571.8 452.5L572.7 452.5L573.5 452.5L574.4 452.4L575.3 452.4L576.1 452.4L577.0 452.3L577.9 452.3L578.7 452.3L579.6 452.2L580.5 452.2L581.3 452.2L582.2 452.1L583.1 452.1L583.9 452.1L584.8 452.1L585.7 452.0L586.5 452.0L587.4 452.0L588.3 451.9L589.1 451.9L590.0 451.9L590.9 451.8L591.7 451.8L592.6 451.8L593.4 451.7L594.3 451.7L595.2 451.7L596.0 451.6L596.9 451.6L597.8 451.6L598.6 451.5L599.5 451.5L600.4 451.5L601.2 451.4L602.1 451.4L603.0 451.4L603.8 451.3L604.7 451.3L605.6 451.3L606.4 451.2L607.3 451.2L608.1 451.2L609.0 451.2L609.9 451.1L610.7 451.1L611.6 451.1L612.5 451.0L613.3 451.0L614.2 451.0L615.1 450.9L615.9 450.9L616.8 450.9L617.7 450.8L618.5 450.8L619.4 450.8L620.3 450.7L621.1 450.7L622.0 450.7L622.9 450.6L623.7 450.6L624.6 450.6L625.5 450.5L626.3 450.5L627.2 450.5L628.0 450.4L628.9 450.4L629.8 450.4L630.6 450.3L631.5 450.3L632.4 450.3L633.2 450.2" stroke="#8c564b"/>
<path d="M513.0 458.4L513.9 458.5L514.7 457.9L515.6 457.1L516.5 456.5L517.3 456.1L518.2 455.8L519.1 455.7L519.9 455.7L520.8 455.7L521.6 455.6L522.5 455.5L523.4 455.5L524.2 455.5L525.1 455.5L526.0 455.6L526.8 455.6L527.7 455.6L528.6 455.7L529.4 455.7L530.3 455.7L531.2 455.7L532.0 455.6L532.9 455.6L533.8 455.6L534.6 455.5L535.5 455.5L536.4 455.5L537.2 455.6L538.1 455.6L539.0 455.6L539.8 455.6L540.7 455.7L541.5 455.6L542.4 455.7L543.3 455.7L544.1 455.7L545.0 455.6L545.9 455.6L546.7 455.6L547.6 455.6L548.5 455.7L549.3 455.7L550.2 455.7L551.1 455.7L551.9 455.7L552.8 455.6L553.7 455.6L554.5 455.5L555.4 455.5L556.2 455.5L557.1 455.5L558.0 455.5L558.8 455.5L559.7 455.5L560.6 455.4L561.4 455.5L562.3 455.5L563.2 455.5L564.0 455.5L564.9 455.6L565.8 455.7L566.6 455.7L567.5 455.8L568.4 455.7L569.2 455.6L570.1 455.6L571.0 455.6L571.8 455.6L572.7 455.6L573.5 455.6L574.4 455.6L575.3 455.6L576.1 455.6L577.0 455.6L577.9 455.6L578.7 455.6L579.6 455.6L580.5 455.6L581.3 455.6L582.2 455.6L583.1 455.6L583.9 455.6L584.8 455.6L585.7 455.6L586.5 455.6L587.4 455.6L588.3 455.6L589.1 455.6L590.0 455.6L590.9 455.6L591.7 455.6L592.6 455.6L593.4 455.6L594.3 455.6L595.2 455.6L596.0 455.6L596.9 455.6L597.8 455.6L598.6 455.6L599.5 455.6L600.4 455.6L601.2 455.6L602.1 455.6L603.0 455.6L603.8 455.6L604.7 455.6L605.6 455.6L606.4 455.6L607.3 455.6L608.1 455.6L609.0 455.6L609.9 455.6L610.7 455.6L611.6 455.6L612.5 455.6L613.3 455.6L614.2 455.6L615.1 455.6L615.9 455.6L616.8 455.6L617.7 455.6L618.5 455.6L619.4 455.6L620.3 455.6L621.1 455.6L622.0 455.6L622.9 455.6L623.7 455.6L624.6 455.6L625.5 455.6L626.3 455.6L627.2 455.6L628.0 455.6L628.9 455.6L629.8 455.6L630.6 455.6L631.5 455.6L632.4 455.6L633.2 455.6" stroke="#e377c2"/>
<path d="M513.0 459.8L513.9 458.5L514.7 457.2L515.6 456.3L516.5 455.8L517.3 455.6L518.2 455.5L519.1 455.6L519.9 455.6L520.8 455.6L521.6 455.6L522.5 455.5L523.4 455.5L524.2 455.5L525.1 455.5L526.0 455.5L526.8 455.4L527.7 455.5L528.6 455.5L529.4 455.4L530.3 455.5L531.2 455.5L532.0 455.6L532.9 455.6L533.8 455.6L534.6 455.6L535.5 455.7L536.4 455.6L537.2 455.6L538.1 455.7L539.0 455.6L539.8 455.7L540.7 455.7L541.5 455.7L542.4 455.6L543.3 455.6L544.1 455.6L545.0 455.6L545.9 455.6L546.7 455.5L547.6 455.5L548.5 455.5L549.3 455.5L550.2 455.7L551.1 455.7L551.9 455.7L552.8 455.7L553.7 455.7L554.5 455.6L555.4 455.5L556.2 455.6L557.1 455.5L558.0 455.5L558.8 455.5L559.7 455.5L560.6 455.5L561.4 455.5L562.3 455.6L563.2 455.6L564.0 455.6L564.9 455.6L565.8 455.6L566.6 455.6L567.5 455.6L568.4 455.5L569.2 455.6L570.1 455.6L571.0 455.6L571.8 455.6L572.7 455.6L573.5 455.6L574.4 455.6L575.3 455.6L576.1 455.6L577.0 455.6L577.9 455.6L578.7 455.6L579.6 455.6L580.5 455.6L581.3 455.6L582.2 455.6L583.1 455.6L583.9 455.6L584.8 455.6L585.7 455.6L586.5 455.6L587.4 455.6L588.3 455.6L589.1 455.6L590.0 455.6L590.9 455.6L591.7 455.6L592.6 455.6L593.4 455.6L594.3 455.6L595.2 455.6L596.0 455.6L596.9 455.6L597.8 455.6L598.6 455.6L599.5 455.6L600.4 455.6L601.2 455.6L602.1 455.6L603.0 455.6L603.8 455.6L604.7 455.6L605.6 455.6L606.4 455.6L607.3 455.6L608.1 455.6L609.0 455.6L609.9 455.6L610.7 455.6L611.6 455.6L612.5 455.6L613.3 455.6L614.2 455.6L615.1 455.6L615.9 455.6L616.8 455.6L617.7 455.6L618.5 455.6L619.4 455.6L620.3 455.6L621.1 455.6L622.0 455.6L622.9 455.6L623.7 455.6L624.6 455.6L625.5 455.6L626.3 455.6L627.2 455.6L628.0 455.6L628.9 455.6L629.8 455.6L630.6 455.6L631.5 455.6L632.4 455.6L633.2 455.6" stroke="#7f7f7f"/>
<path d="M513.0 462.7L513.9 460.4L514.7 458.3L515.6 457.0L516.5 456.2L517.3 455.8L518.2 455.5L519.1 455.0L519.9 454.0L520.8 452.5L521.6 451.1L522.5 450.2L523.4 450.5L524.2 451.8L525.1 453.4L526.0 454.6L526.8 455.2L527.7 455.5L528.6 455.6L529.4 455.6L530.3 455.6L531.2 455.6L532.0 455.6L532.9 455.7L533.8 455.7L534.6 455.7L535.5 455.7L536.4 455.8L537.2 455.7L538.1 455.7L539.0 455.7L539.8 455.7L540.7 455.7L541.5 455.7L542.4 455.6L543.3 455.6L544.1 455.6L545.0 455.6L545.9 455.6L546.7 455.6L547.6 455.6L548.5 455.6L549.3 455.7L550.2 455.7L551.1 455.6L551.9 455.6L552.8 455.6L553.7 455.5L554.5 455.5L555.4 455.6L556.2 455.6L557.1 455.6L558.0 455.6L558.8 455.6L559.7 455.6L560.6 455.5L561.4 455.5L562.3 455.6L563.2 455.6L564.0 455.6L564.9 455.7L565.8 455.8L566.6 455.8L567.5 455.7L568.4 455.7L569.2 455.7L570.1 455.7L571.0 455.6L571.8 455.6L572.7 455.6L573.5 455.6L574.4 455.6L575.3 455.6L576.1 455.6L577.0 455.6L577.9 455.6L578.7 455.6L579.6 455.6L580.5 455.6L581.3 455.6L582.2 455.6L583.1 455.6L583.9 455.6L584.8 455.6L585.7 455.6L586.5 455.6L587.4 455.6L588.3 455.6L589.1 455.6L590.0 455.6L590.9 455.6L591.7 455.6L592.6 455.6L593.4 455.6L594.3 455.6L595.2 455.6L596.0 455.6L596.9 455.6L597.8 455.6L598.6 455.6L599.5 455.6L600.4 455.6L601.2 455.6L602.1 455.6L603.0 455.6L603.8 455.6L604.7 455.6L605.6 455.6L606.4 455.6L607.3 455.6L608.1 455.6L609.0 455.6L609.9 455.6L610.7 455.6L611.6 455.6L612.5 455.6L613.3 455.6L614.2 455.6L615.1 455.6L615.9 455.6L616.8 455.6L617.7 455.6L618.5 455.6L619.4 455.6L620.3 455.6L621.1 455.6L622.0 455.6L622.9 455.6L623.7 455.6L624.6 455.6L625.5 455.6L626.3 455.6L627.2 455.6L628.0 455.6L628.9 455.6L629.8 455.6L630.6 455.6L631.5 455.6L632.4 455.6L633.2 455.6" stroke="#bcbd22"/>
<path d="M513.0 455.6L513.9 455.5L514.7 455.4L515.6 455.5L516.5 455.5L517.3 455.5L518.2 455.5L519.1 455.6L519.9 455.6L520.8 455.6L521.6 455.6L522.5 455.5L523.4 455.6L524.2 455.5L525.1 455.6L526.0 455.7L526.8 455.6L527.7 455.6L528.6 455.6L529.4 455.6L530.3 455.6L531.2 455.6L532.0 455.6L532.9 455.6L533.8 455.6L534.6 455.6L535.5 455.6L536.4 455.7L537.2 455.6L538.1 455.6L539.0 455.5L539.8 455.5L540.7 455.5L541.5 455.5L542.4 455.5L543.3 455.5L544.1 455.6L545.0 455.5L545.9 455.6L546.7 455.5L547.6 455.6L548.5 455.7L549.3 455.7L550.2 455.6L551.1 455.5L551.9 455.5L552.8 455.4L553.7 455.5L554.5 455.5L555.4 455.6L556.2 455.6L557.1 455.7L558.0 455.8L558.8 455.7L559.7 455.8L560.6 455.7L561.4 455.8L562.3 455.7L563.2 455.7L564.0 455.7L564.9 455.7L565.8 455.7L566.6 455.7L567.5 455.7L568.4 455.6L569.2 455.6L570.1 455.7L571.0 455.6L571.8 455.6L572.7 455.6L573.5 455.6L574.4 455.6L575.3 455.6L576.1 455.6L577.0 455.6L577.9 455.6L578.7 455.6L579.6 455.6L580.5 455.6L581.3 455.6L582.2 455.6L583.1 455.6L583.9 455.6L584.8 455.6L585.7 455.6L586.5 455.6L587.4 455.6L588.3 455.6L589.1 455.6L590.0 455.6L590.9 455.6L591.7 455.6L592.6 455.6L593.4 455.6L594.3 455.6L595.2 455.6L596.0 455.6L596.9 455.6L597.8 455.6L598.6 455.6L599.5 455.6L600.4 455.6L601.2 455.6L602.1 455.6L603.0 455.6L603.8 455.6L604.7 455.6L605.6 455.6L606.4 455.6L607.3 455.6L608.1 455.6L609.0 455.6L609.9 455.6L610.7 455.6L611.6 455.6L612.5 455.6L613.3 455.6L614.2 455.6L615.1 455.6L615.9 455.6L616.8 455.6L617.7 455.6L618.5 455.6L619.4 455.6L620.3 455.6L621.1 455.6L622.0 455.6L622.9 455.6L623.7 455.6L624.6 455.6L625.5 455.6L626.3 455.6L627.2 455.6L628.0 455.6L628.9 455.6L629.8 455.6L630.6 455.6L631.5 455.6L632.4 455.6L633.2 455.6" stroke="#17becf"/>
<path d="M513.0 453.9L513.9 455.7L514.7 457.6L515.6 459.0L516.5 459.5L517.3 459.0L518.2 457.9L519.1 456.9L519.9 456.3L520.8 455.9L521.6 455.7L522.5 455.6L523.4 455.6L524.2 455.6L525.1 455.6L526.0 455.6L526.8 455.6L527.7 455.6L528.6 455.5L529.4 455.6L530.3 455.7L531.2 455.7L532.0 455.8L532.9 455.7L533.8 455.8L534.6 455.7L535.5 455.6L536.4 455.6L537.2 455.6L538.1 455.5L539.0 455.5L539.8 455.6L540.7 455.6L541.5 455.5L542.4 455.4L543.3 455.2L544.1 454.7L545.0 454.0L545.9 453.3L546.7 452.9L547.6 453.1L548.5 453.7L549.3 454.5L550.2 455.2L551.1 455.7L551.9 456.2L552.8 456.7L553.7 457.1L554.5 457.2L555.4 457.0L556.2 456.5L557.1 456.1L558.0 455.8L558.8 455.5L559.7 455.5L560.6 455.4L561.4 455.5L562.3 455.4L563.2 455.4L564.0 455.5L564.9 455.5L565.8 455.5L566.6 455.6L567.5 455.6L568.4 455.7L569.2 455.6L570.1 455.6L571.0 455.6L571.8 455.6L572.7 455.6L573.5 455.6L574.4 455.6L575.3 455.6L576.1 455.6L577.0 455.6L577.9 455.6L578.7 455.6L579.6 455.6L580.5 455.6L581.3 455.6L582.2 455.6L583.1 455.6L583.9 455.6L584.8 455.6L585.7 455.6L586.5 455.6L587.4 455.6L588.3 455.6L589.1 455.6L590.0 455.6L590.9 455.6L591.7 455.6L592.6 455.6L593.4 455.6L594.3 455.6L595.2 455.6L596.0 455.6L596.9 455.6L597.8 455.6L598.6 455.6L599.5 455.6L600.4 455.6L601.2 455.6L602.1 455.6L603.0 455.6L603.8 455.6L604.7 455.6L605.6 455.6L606.4 455.6L607.3 455.6L608.1 455.6L609.0 455.6L609.9 455.6L610.7 455.6L611.6 455.6L612.5 455.6L613.3 455.6L614.2 455.6L615.1 455.6L615.9 455.6L616.8 455.6L617.7 455.6L618.5 455.6L619.4 455.6L620.3 455.6L621.1 455.6L622.0 455.6L622.9 455.6L623.7 455.6L624.6 455.6L625.5 455.6L626.3 455.6L627.2 455.6L628.0 455.6L628.9 455.6L629.8 455.6L630.6 455.6L631.5 455.6L632.4 455.6L633.2 455.6" stroke="#1f77b4"/>
<path d="M513.0 455.6L513.9 455.6L514.7 455.6L515.6 455.6L516.5 455.5L517.3 455.6L518.2 455.6L519.1 455.6L519.9 455.6L520.8 455.6L521.6 455.5L522.5 455.7L523.4 455.7L524.2 455.7L525.1 455.8L526.0 455.7L526.8 455.6L527.7 455.5L528.6 455.5L529.4 455.5L530.3 455.4L531.2 455.5L532.0 455.5L532.9 455.5L533.8 455.5L534.6 455.6L535.5 455.7L536.4 455.6L537.2 455.7L538.1 455.7L539.0 455.7L539.8 456.0L540.7 456.7L541.5 458.1L542.4 460.0L543.3 461.7L544.1 462.3L545.0 461.2L545.9 459.3L546.7 457.1L547.6 455.4L548.5 454.1L549.3 453.2L550.2 452.6L551.1 452.1L551.9 451.7L552.8 451.5L553.7 451.3L554.5 451.3L555.4 451.2L556.2 451.2L557.1 451.3L558.0 451.4L558.8 451.7L559.7 452.0L560.6 452.5L561.4 453.0L562.3 453.7L563.2 454.2L564.0 454.8L564.9 455.1L565.8 455.3L566.6 455.4L567.5 455.4L568.4 455.6L569.2 455.6L570.1 455.6L571.0 455.6L571.8 455.6L572.7 455.6L573.5 455.6L574.4 455.6L575.3 455.6L576.1 455.6L577.0 455.6L577.9 455.6L578.7 455.6L579.6 455.6L580.5 455.6L581.3 455.6L582.2 455.6L583.1 455.6L583.9 455.6L584.8 455.6L585.7 455.6L586.5 455.6L587.4 455.6L588.3 455.6L589.1 455.6L590.0 455.6L590.9 455.6L591.7 455.6L592.6 455.6L593.4 455.6L594.3 455.6L595.2 455.6L596.0 455.6L596.9 455.6L597.8 455.6L598.6 455.6L599.5 455.6L600.4 455.6L601.2 455.6L602.1 455.6L603.0 455.6L603.8 455.6L604.7 455.6L605.6 455.6L606.4 455.6L607.3 455.6L608.1 455.6L609.0 455.6L609.9 455.6L610.7 455.6L611.6 455.6L612.5 455.6L613.3 455.6L614.2 455.6L615.1 455.6L615.9 455.6L616.8 455.6L617.7 455.6L618.5 455.6L619.4 455.6L620.3 455.6L621.1 455.6L622.0 455.6L622.9 455.6L623.7 455.6L624.6 455.6L625.5 455.6L626.3 455.6L627.2 455.6L628.0 455.6L628.9 455.6L629.8 455.6L630.6 455.6L631.5 455.6L632.4 455.6L633.2 455.6" stroke="#ff7f0e"/></g></svg>
<rect x="507.3" y="424.6" width="132.1" height="81.1" fill="none" stroke="#a6a6a6" stroke-width="1.3"/>
<line x1="505.3" y1="438.6" x2="507.3" y2="438.6" stroke="#777" stroke-width="0.7"/>
<text font-size="6" text-anchor="end" fill="#444" transform="translate(504.3 440.7) scale(0.72 1)">5</text>
<line x1="505.3" y1="455.6" x2="507.3" y2="455.6" stroke="#777" stroke-width="0.7"/>
<text font-size="6" text-anchor="end" fill="#444" transform="translate(504.3 457.7) scale(0.72 1)">0</text>
<line x1="505.3" y1="472.6" x2="507.3" y2="472.6" stroke="#777" stroke-width="0.7"/>
<text font-size="6" text-anchor="end" fill="#444" transform="translate(504.3 474.7) scale(0.72 1)">−5</text>
<line x1="505.3" y1="489.6" x2="507.3" y2="489.6" stroke="#777" stroke-width="0.7"/>
<text font-size="6" text-anchor="end" fill="#444" transform="translate(504.3 491.7) scale(0.72 1)">−10</text>
<line x1="513.0" y1="505.7" x2="513.0" y2="507.7" stroke="#777" stroke-width="0.7"/>
<text font-size="5.5" text-anchor="middle" fill="#444" transform="translate(513.0 513.2) scale(0.8 1)">0</text>
<line x1="547.6" y1="505.7" x2="547.6" y2="507.7" stroke="#777" stroke-width="0.7"/>
<text font-size="5.5" text-anchor="middle" fill="#444" transform="translate(547.6 513.2) scale(0.8 1)">80</text>
<line x1="582.2" y1="505.7" x2="582.2" y2="507.7" stroke="#777" stroke-width="0.7"/>
<text font-size="5.5" text-anchor="middle" fill="#444" transform="translate(582.2 513.2) scale(0.8 1)">160</text>
<line x1="616.8" y1="505.7" x2="616.8" y2="507.7" stroke="#777" stroke-width="0.7"/>
<text font-size="5.5" text-anchor="middle" fill="#444" transform="translate(616.8 513.2) scale(0.8 1)">240</text>
<rect x="640.7" y="426.5" width="35.2" height="79.2" fill="#fff" stroke="#e6e6e6" stroke-width="0.8"/>
<line x1="642.5" y1="431.1" x2="653.5" y2="431.1" stroke="#1f77b4" stroke-width="1.5" stroke-opacity="0.8"/>
<text x="657.2" y="433.1" font-family='"Liberation Mono", monospace' font-size="6" textLength="16.2" lengthAdjust="spacingAndGlyphs" fill="#333">f_acc_rx</text>
<line x1="642.5" y1="437.6" x2="653.5" y2="437.6" stroke="#ff7f0e" stroke-width="1.5" stroke-opacity="0.8"/>
<text x="657.2" y="439.6" font-family='"Liberation Mono", monospace' font-size="6" textLength="16.2" lengthAdjust="spacingAndGlyphs" fill="#333">f_acc_ry</text>
<line x1="642.5" y1="444.1" x2="653.5" y2="444.1" stroke="#2ca02c" stroke-width="1.5" stroke-opacity="0.8"/>
<text x="657.2" y="446.1" font-family='"Liberation Mono", monospace' font-size="6" textLength="16.2" lengthAdjust="spacingAndGlyphs" fill="#333">f_acc_rz</text>
<line x1="642.5" y1="450.5" x2="653.5" y2="450.5" stroke="#d62728" stroke-width="1.5" stroke-opacity="0.8"/>
<text x="657.2" y="452.5" font-family='"Liberation Mono", monospace' font-size="6" textLength="16.2" lengthAdjust="spacingAndGlyphs" fill="#333">f_acc_lx</text>
<line x1="642.5" y1="457.0" x2="653.5" y2="457.0" stroke="#9467bd" stroke-width="1.5" stroke-opacity="0.8"/>
<text x="657.2" y="459.0" font-family='"Liberation Mono", monospace' font-size="6" textLength="16.2" lengthAdjust="spacingAndGlyphs" fill="#333">f_acc_ly</text>
<line x1="642.5" y1="463.5" x2="653.5" y2="463.5" stroke="#8c564b" stroke-width="1.5" stroke-opacity="0.8"/>
<text x="657.2" y="465.5" font-family='"Liberation Mono", monospace' font-size="6" textLength="16.2" lengthAdjust="spacingAndGlyphs" fill="#333">f_acc_lz</text>
<line x1="642.5" y1="470.0" x2="653.5" y2="470.0" stroke="#e377c2" stroke-width="1.5" stroke-opacity="0.8"/>
<text x="657.2" y="472.0" font-family='"Liberation Mono", monospace' font-size="6" textLength="16.2" lengthAdjust="spacingAndGlyphs" fill="#333">f_rot_rx</text>
<line x1="642.5" y1="476.5" x2="653.5" y2="476.5" stroke="#7f7f7f" stroke-width="1.5" stroke-opacity="0.8"/>
<text x="657.2" y="478.5" font-family='"Liberation Mono", monospace' font-size="6" textLength="16.2" lengthAdjust="spacingAndGlyphs" fill="#333">f_rot_ry</text>
<line x1="642.5" y1="482.9" x2="653.5" y2="482.9" stroke="#bcbd22" stroke-width="1.5" stroke-opacity="0.8"/>
<text x="657.2" y="484.9" font-family='"Liberation Mono", monospace' font-size="6" textLength="16.2" lengthAdjust="spacingAndGlyphs" fill="#333">f_rot_rz</text>
<line x1="642.5" y1="489.4" x2="653.5" y2="489.4" stroke="#17becf" stroke-width="1.5" stroke-opacity="0.8"/>
<text x="657.2" y="491.4" font-family='"Liberation Mono", monospace' font-size="6" textLength="16.2" lengthAdjust="spacingAndGlyphs" fill="#333">f_rot_lx</text>
<line x1="642.5" y1="495.9" x2="653.5" y2="495.9" stroke="#1f77b4" stroke-width="1.5" stroke-opacity="0.8"/>
<text x="657.2" y="497.9" font-family='"Liberation Mono", monospace' font-size="6" textLength="16.2" lengthAdjust="spacingAndGlyphs" fill="#333">f_rot_ly</text>
<line x1="642.5" y1="502.4" x2="653.5" y2="502.4" stroke="#ff7f0e" stroke-width="1.5" stroke-opacity="0.8"/>
<text x="657.2" y="504.4" font-family='"Liberation Mono", monospace' font-size="6" textLength="16.2" lengthAdjust="spacingAndGlyphs" fill="#333">f_rot_lz</text>
<text x="587.6" y="528.8" font-family='"Liberation Serif", serif' font-weight="bold" font-size="13" text-anchor="middle" fill="#111">subWindow_37</text>
</svg></body></html>
